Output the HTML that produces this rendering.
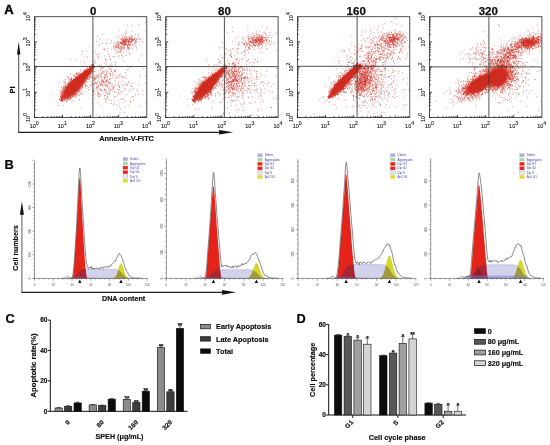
<!DOCTYPE html>
<html><head><meta charset="utf-8"><title>Figure</title>
<style>html,body{margin:0;padding:0;background:#fff;}body{width:550px;height:445px;overflow:hidden;font-family:"Liberation Sans",Arial,sans-serif;}svg{display:block;filter:blur(.35px);}</style>
</head><body><svg width="550" height="445" viewBox="0 0 550 445" font-family="Liberation Sans, Arial, sans-serif"><g><clipPath id="cp0"><rect x="34.4" y="16.7" width="112.4" height="100.8"/></clipPath>
<g clip-path="url(#cp0)">
<path d="M92.5 67.2L89.8 67.1L88.4 68.0L86.9 69.0L85.5 69.9L84.1 70.9L82.6 71.9L81.2 72.9L79.8 73.9L78.4 74.9L77.0 75.9L75.6 76.9L74.2 77.9L72.8 78.9L71.4 79.9L70.1 80.9L68.8 82.0L67.6 83.3L66.5 84.6L65.5 85.9L64.5 87.3L63.6 88.8L62.7 90.3L62.0 92.0L61.3 93.7L60.9 95.7L61.9 98.9L61.9 98.9L65.1 99.7L67.1 99.3L68.8 98.6L70.4 97.8L71.9 96.9L73.4 95.9L74.7 94.9L76.0 93.8L77.3 92.6L78.5 91.5L79.6 90.1L80.5 88.7L81.5 87.3L82.5 85.9L83.4 84.4L84.4 83.0L85.3 81.6L86.3 80.1L87.2 78.7L88.2 77.2L89.1 75.8L90.0 74.3L90.9 72.8L91.9 71.4L92.7 69.9L92.5 67.2Z" fill="#cf2b1f" opacity="0.35"/>
<path d="M91.4 68.4L89.1 68.3L87.8 69.1L86.5 70.0L85.2 70.9L83.9 71.8L82.6 72.7L81.4 73.6L80.1 74.5L78.9 75.4L77.6 76.3L76.4 77.2L75.1 78.1L73.9 79.1L72.6 80.0L71.4 80.9L70.2 81.9L69.2 83.0L68.2 84.2L67.3 85.4L66.4 86.7L65.6 88.0L64.8 89.3L64.1 90.8L63.5 92.3L63.1 94.1L63.8 96.9L63.8 96.9L66.7 97.5L68.4 97.1L69.9 96.4L71.4 95.7L72.7 94.9L74.0 94.0L75.2 93.0L76.4 92.0L77.5 91.0L78.6 90.0L79.6 88.8L80.4 87.5L81.3 86.2L82.2 84.9L83.1 83.7L83.9 82.4L84.8 81.1L85.7 79.8L86.5 78.5L87.4 77.2L88.2 75.9L89.1 74.6L89.9 73.3L90.7 72.0L91.5 70.7L91.4 68.4Z" fill="#cf2b1f" opacity="0.6"/>
<path d="M90.4 69.4L88.4 69.4L87.2 70.2L86.1 71.0L84.9 71.8L83.8 72.6L82.7 73.4L81.5 74.2L80.4 75.0L79.3 75.9L78.2 76.7L77.1 77.5L76.0 78.4L74.9 79.2L73.8 80.0L72.7 80.9L71.6 81.8L70.7 82.8L69.8 83.8L69.0 84.9L68.2 86.0L67.4 87.2L66.7 88.4L66.0 89.7L65.5 91.0L65.1 92.6L65.7 95.0L65.7 95.0L68.1 95.5L69.6 95.0L71.0 94.4L72.2 93.7L73.4 93.0L74.6 92.2L75.6 91.3L76.7 90.4L77.7 89.5L78.7 88.6L79.5 87.5L80.3 86.4L81.1 85.2L81.9 84.1L82.7 83.0L83.5 81.8L84.3 80.7L85.1 79.6L85.9 78.4L86.7 77.3L87.4 76.1L88.2 74.9L89.0 73.8L89.7 72.6L90.4 71.4L90.4 69.4Z" fill="#cf2b1f" opacity="1"/>
<path d="M895 738h7M921 703h7M631 827h7M826 845h7M702 737h7M657 952h7M613 913h7M943 661h7M617 960h7M894 672h7M904 702h7M903 691h7M898 696h7M599 906h7M840 705h7M790 763h7M856 700h7M872 761h7M598 923h7M738 747h7M932 696h7M618 967h7M865 680h7M819 866h7M594 821h7M866 824h7M705 825h7M741 962h7M753 949h7M879 771h7M623 946h7M898 668h7M651 969h7M943 673h7M740 926h7M750 795h7M767 905h7M724 937h7M793 878h7M631 937h7M912 725h7M660 954h7M617 987h7M688 846h7M663 960h7M627 980h7M836 727h7M674 979h7M649 976h7M696 956h7M626 1009h7M619 973h7M904 746h7M644 822h7M619 1009h7M872 765h7M925 677h7M700 973h7M898 725h7M860 780h7M649 882h7M644 860h7M612 867h7M931 676h7M657 888h7M755 768h7M902 674h7M698 948h7M914 688h7M872 783h7M627 972h7M684 976h7M619 943h7M710 979h7M916 691h7M657 882h7M673 958h7M911 669h7M652 904h7M600 947h7M628 801h7M904 729h7M832 733h7M899 673h7M729 938h7M647 954h7M803 736h7M928 697h7M931 720h7M645 933h7M729 933h7M636 930h7M906 686h7M649 998h7M922 712h7M646 984h7M671 881h7M776 743h7M702 795h7M674 779h7M704 982h7M910 650h7M742 920h7M646 916h7M674 854h7M840 838h7M784 889h7M722 955h7M762 935h7M618 989h7M599 934h7M670 963h7M922 674h7M648 866h7M733 939h7M802 711h7M753 775h7M915 692h7M596 993h7M827 861h7M730 792h7M646 902h7M627 998h7M846 717h7M806 865h7M862 704h7M932 679h7M629 919h7M620 1014h7M923 667h7M651 980h7M787 756h7M659 985h7M865 709h7M814 744h7M654 964h7M640 981h7M652 965h7M672 872h7M636 966h7M903 748h7M853 818h7M632 954h7M620 963h7M608 997h7M840 827h7M652 849h7M880 760h7M919 680h7M651 900h7M612 928h7M725 934h7M705 814h7M915 718h7M615 999h7M904 702h7M591 992h7M851 794h7M630 989h7M636 967h7M944 715h7M638 911h7M935 671h7M911 710h7M810 741h7M935 660h7M709 970h7M635 922h7M599 994h7M642 985h7M797 759h7M622 962h7M910 700h7M796 755h7M834 704h7M607 976h7M769 927h7M680 985h7M730 796h7M670 863h7M663 1019h7M736 959h7M743 799h7M617 913h7M688 953h7M595 996h7M815 844h7M653 965h7M637 897h7M695 999h7M687 952h7M898 696h7M651 795h7M763 777h7M908 714h7M786 750h7M769 780h7M857 854h7M653 837h7M625 984h7M822 846h7M853 857h7M632 965h7M793 915h7M921 699h7M680 859h7M684 970h7M881 871h7M642 863h7M721 808h7M816 741h7M906 712h7M645 947h7M649 873h7M936 673h7M648 810h7M897 669h7M799 744h7M682 851h7M659 892h7M613 994h7M922 676h7M651 916h7M656 965h7M625 915h7M633 893h7M678 836h7M725 948h7M668 1014h7M900 699h7M911 706h7M683 788h7M897 759h7M827 882h7M779 764h7M856 713h7M898 727h7M677 973h7M613 1004h7M698 812h7M840 816h7M644 986h7M698 836h7M632 877h7M746 936h7M725 946h7M728 976h7M790 763h7M645 817h7M643 980h7M607 1004h7M649 966h7M658 963h7M742 795h7M774 724h7M915 655h7M946 680h7M690 976h7M933 652h7M718 1006h7M791 740h7M894 732h7M634 896h7M758 732h7M845 828h7M697 956h7M778 757h7M794 918h7M622 969h7M602 970h7M895 662h7M621 974h7M617 1006h7M933 661h7M931 677h7M649 972h7M609 978h7M615 999h7M711 777h7M785 883h7M860 713h7M754 941h7M679 956h7M694 832h7M657 973h7M930 663h7M611 956h7M709 788h7M837 721h7M922 688h7M722 962h7M665 1002h7M742 944h7M853 866h7M632 961h7M919 685h7M908 713h7M781 891h7M805 856h7M869 670h7M813 879h7M665 870h7M790 956h7M710 799h7M809 946h7M617 901h7M733 962h7M726 807h7M902 672h7M876 696h7M821 841h7M611 1007h7M860 811h7M658 862h7M885 757h7M906 667h7M823 740h7M643 942h7M732 803h7M762 906h7M897 767h7M868 781h7M831 820h7M903 672h7M640 950h7M604 1004h7M820 835h7M937 666h7M723 961h7M681 967h7M636 996h7M837 720h7M924 686h7M766 914h7M666 878h7M915 667h7M916 657h7M813 851h7M713 952h7M642 963h7M903 680h7M647 993h7M900 695h7M658 985h7M614 978h7M834 815h7M615 957h7M754 951h7M862 708h7M727 952h7M773 741h7M848 698h7M891 788h7M932 651h7M743 951h7M741 928h7M673 997h7M740 922h7M692 845h7M875 791h7M824 846h7M844 708h7M634 960h7M907 699h7M677 844h7M886 744h7M789 728h7M822 857h7M902 685h7M753 912h7M786 758h7M630 878h7M845 841h7M798 758h7M673 971h7M848 829h7M830 721h7M614 965h7M619 950h7M726 943h7M857 798h7M895 695h7M777 905h7M621 936h7M893 678h7M770 771h7M704 963h7M903 684h7M614 991h7M626 926h7M916 681h7M677 763h7M656 948h7M609 998h7M644 1004h7M896 696h7M599 943h7M896 701h7M655 869h7M934 672h7M642 937h7M856 696h7M868 793h7M616 978h7M673 985h7M925 677h7M639 920h7M903 699h7M642 964h7M702 963h7M750 929h7M649 957h7M779 907h7M922 645h7M789 740h7M915 718h7M740 758h7M609 1008h7M930 661h7M620 917h7M887 785h7M814 880h7M848 712h7M699 991h7M915 707h7M773 948h7M668 977h7M678 981h7M621 956h7M673 985h7M921 677h7M786 931h7M902 672h7M621 991h7M692 971h7M790 903h7M778 738h7M760 731h7M616 991h7M817 872h7M709 794h7M649 967h7M653 872h7M695 787h7M900 664h7M846 808h7M807 890h7M702 963h7M825 736h7M759 764h7M605 971h7M926 647h7M908 719h7M689 956h7M707 977h7M616 1011h7M754 769h7M647 927h7M904 704h7M638 952h7M641 936h7M630 987h7M843 703h7M639 955h7M832 720h7M752 934h7M682 802h7M816 723h7M895 672h7M694 816h7M664 887h7M758 742h7M718 944h7M734 934h7M631 959h7M795 999h7M639 980h7M777 905h7M715 810h7M898 725h7M804 896h7M743 763h7M781 894h7M937 665h7M649 929h7M930 661h7M624 930h7M696 818h7M594 996h7M893 682h7M656 902h7M759 784h7M695 948h7M833 824h7M763 951h7M799 876h7M875 766h7M889 735h7M684 970h7M746 960h7M676 963h7M600 972h7M712 972h7M904 669h7M675 958h7M648 837h7M866 694h7M620 942h7M649 1005h7M713 947h7M643 940h7M895 773h7M756 783h7M852 808h7M625 989h7M859 802h7M924 676h7M647 887h7M904 677h7M795 871h7M915 662h7M749 797h7M931 650h7M621 943h7M822 838h7M886 746h7M917 672h7M789 995h7M686 973h7M895 727h7M825 832h7M710 941h7M651 954h7M610 985h7M635 878h7M821 855h7M785 939h7M667 987h7M775 917h7M706 804h7M854 713h7M754 782h7M653 878h7M711 795h7M789 894h7M615 988h7M635 875h7M844 713h7M662 958h7M636 981h7M859 856h7M661 966h7M694 836h7M612 989h7M642 895h7M633 908h7M742 933h7M617 982h7M813 745h7M775 766h7M808 944h7M714 781h7M843 717h7M617 969h7M813 733h7M618 1006h7M681 831h7M612 976h7M615 987h7M647 907h7M659 876h7M917 696h7M766 926h7M788 915h7M880 692h7M642 970h7M663 874h7M823 841h7M926 672h7M643 935h7M634 962h7M938 667h7M900 695h7M689 845h7M609 876h7M731 786h7M893 731h7M863 781h7M890 695h7M826 923h7M707 801h7M696 956h7M643 919h7M764 975h7M659 884h7M762 761h7M785 759h7M821 877h7M912 668h7M672 881h7M697 836h7M641 954h7M841 718h7M696 995h7M672 824h7M907 687h7M676 846h7M630 974h7M773 939h7M764 741h7M939 716h7M908 704h7M851 719h7M657 955h7M632 856h7M724 964h7M762 960h7M668 983h7M622 984h7M620 884h7M683 963h7M699 987h7M640 919h7M902 732h7M683 853h7M603 971h7M676 876h7M649 948h7M642 970h7M771 774h7M654 949h7M641 920h7M647 955h7M832 839h7M644 931h7M762 735h7M808 869h7M868 858h7M883 772h7M656 967h7M618 1004h7M898 769h7M875 791h7M691 958h7M760 910h7M660 989h7M684 861h7M754 914h7M630 954h7M769 904h7M612 997h7M787 754h7M734 755h7M922 660h7M927 671h7M894 737h7M910 708h7M682 859h7M654 969h7M671 977h7M639 970h7M699 950h7M872 780h7M877 757h7M899 728h7M1307 384h7M1226 399h7M1284 448h7M1266 418h7M1245 447h7M1270 465h7M1240 416h7M1216 382h7M1268 421h7M1170 417h7M1202 430h7M1214 456h7M1308 387h7M1249 395h7M1310 374h7M1218 434h7M1239 501h7M1245 418h7M1208 435h7M1224 421h7M1299 391h7M1271 399h7M1298 387h7M1208 430h7M1312 392h7M1213 431h7M1224 439h7M1226 440h7M1303 420h7M1330 406h7M1354 424h7M1249 445h7M1219 428h7M1246 403h7M1270 415h7M1357 410h7M1239 409h7M1225 413h7M1221 433h7M1189 435h7M1275 400h7M1199 426h7M1291 389h7M1317 357h7M1223 449h7M1318 396h7M1175 440h7M1208 419h7M1234 412h7M1255 426h7M1228 382h7M1227 360h7M1256 410h7M1229 487h7M1345 429h7M1262 406h7M1291 455h7M1251 419h7M1228 429h7M1288 386h7M1307 409h7M1363 392h7M1308 378h7M1371 386h7M1265 460h7M1254 389h7M1290 426h7M1252 410h7M1193 488h7M1239 437h7M1227 412h7M1263 396h7M1288 368h7M1294 442h7M1237 434h7M1292 398h7M1244 421h7M1379 360h7M1245 413h7M1223 407h7M1227 436h7M1325 444h7M1188 417h7M1248 398h7M1218 428h7M1224 410h7M1261 399h7M1247 434h7M1292 416h7M1310 409h7M1199 480h7M1398 398h7M1342 424h7M1241 444h7M1220 418h7M1284 415h7M1215 397h7M1295 409h7M1257 398h7M1220 432h7M1179 480h7M1267 448h7M1298 393h7M1272 386h7M1225 468h7M1226 411h7M1280 415h7M1293 376h7M1237 399h7M1256 415h7M1199 393h7M1201 465h7M1231 401h7M1257 392h7M1308 429h7M1255 407h7M1175 462h7M1355 395h7M1238 450h7M1229 398h7M1257 438h7M1179 475h7M1334 396h7M1223 394h7M1281 407h7M1327 441h7M1318 407h7M1182 482h7M1231 417h7M1312 417h7M1206 430h7M1243 423h7M1214 476h7M1257 440h7M1325 459h7M1286 393h7M1244 450h7M1324 361h7M1344 379h7M1245 414h7M1284 408h7M1248 400h7M1330 408h7M1273 475h7M1300 446h7M1246 429h7M1258 445h7M1258 376h7M1283 408h7M1278 442h7M1250 442h7M1258 419h7M1233 427h7M1250 446h7M1154 471h7M1246 397h7M1295 409h7M1295 446h7M1256 380h7M1182 445h7M1218 493h7M1239 379h7M1151 442h7M1148 471h7M1156 479h7M1244 457h7M1199 429h7M1297 365h7M1301 447h7M1210 433h7M1349 433h7M1334 394h7M1240 423h7M1247 448h7M1302 422h7M1232 452h7M1284 420h7M1314 394h7M1273 447h7M1230 455h7M1306 447h7M1315 388h7M1340 383h7M1201 433h7M1235 405h7M1309 419h7M1277 379h7M1349 405h7M1317 413h7M1283 435h7M1278 453h7M1219 380h7M1242 427h7M1279 418h7M1283 426h7M1256 438h7M1279 395h7M1178 454h7M1291 441h7M1314 412h7M1315 365h7M1191 559h7M1076 516h7M1059 439h7M1387 247h7M1384 341h7M1079 398h7M1246 482h7M1244 375h7M1388 386h7M1278 465h7M1258 410h7M1225 397h7M1207 388h7M1036 494h7M1171 425h7M1158 440h7M1258 556h7M1292 477h7M1336 458h7M1274 485h7M1317 394h7M1176 470h7M1213 487h7M1147 455h7M1244 474h7M1155 376h7M1202 518h7M1216 541h7M1145 468h7M1323 484h7M1214 557h7M1237 471h7M1421 416h7M1182 464h7M1139 567h7M1295 547h7M1338 397h7M1133 469h7M1337 387h7M1362 471h7M1373 397h7M1249 348h7M1245 442h7M1259 310h7M1236 606h7M1212 422h7M1215 444h7M1187 509h7M1267 509h7M1495 374h7M1285 524h7M1108 630h7M1074 487h7M1178 377h7M1145 498h7M1214 356h7M906 644h7M1040 560h7M1279 480h7M1131 450h7M1534 298h7M1063 432h7M1226 569h7M1258 371h7M1043 490h7M1213 475h7M1289 497h7M1023 434h7M1213 496h7M1155 501h7M1229 528h7M1172 441h7M1288 490h7M1135 483h7M1099 428h7M1451 301h7M1163 454h7M1115 490h7M1207 484h7M1109 404h7M1211 505h7M1340 389h7M1158 428h7M1350 348h7M1150 480h7M1184 473h7M1297 535h7M1272 456h7M1109 659h7M1286 483h7M1170 469h7M1162 466h7M1185 523h7M1320 401h7M1198 521h7M1200 500h7M1175 571h7M1173 513h7M1401 395h7M1199 514h7M1311 253h7M1162 468h7M1259 327h7M1296 421h7M1240 370h7M1415 544h7M1237 486h7M1018 345h7M1193 448h7M1281 427h7M1004 394h7M1352 459h7M1186 450h7M1268 392h7M1103 594h7M1047 503h7M1360 420h7M1365 490h7M1189 362h7M962 415h7M1248 336h7M1196 469h7M1244 439h7M1355 412h7M1320 399h7M1215 466h7M1281 479h7M1172 518h7M1433 161h7M1038 788h7M1008 735h7M942 796h7M933 918h7M979 945h7M1043 667h7M1020 813h7M1101 592h7M974 917h7M1056 613h7M1014 837h7M1059 857h7M929 879h7M1011 903h7M972 877h7M935 646h7M996 937h7M1028 812h7M1007 751h7M1100 649h7M983 925h7M977 573h7M957 777h7M1044 747h7M1055 755h7M903 857h7M1020 732h7M984 547h7M937 839h7M992 660h7M953 831h7M1005 904h7M927 910h7M1072 848h7M1016 949h7M1044 719h7M1022 829h7M977 1029h7M1012 770h7M1064 810h7M937 802h7M1091 661h7M1042 981h7M945 798h7M1011 845h7M1002 856h7M973 759h7M990 828h7M1079 893h7M945 810h7M1049 995h7M1085 822h7M1037 817h7M949 781h7M1015 674h7M1007 755h7M976 851h7M951 784h7M1016 821h7M1016 802h7M977 588h7M986 748h7M978 710h7M945 936h7M981 860h7M1034 814h7M1065 754h7M1023 685h7M978 867h7M964 772h7M994 782h7M978 810h7M941 786h7M1112 716h7M1061 739h7M935 942h7M1023 854h7M1070 869h7M1054 588h7M999 949h7M1012 679h7M907 820h7M879 792h7M1055 760h7M960 752h7M1108 709h7M953 826h7M943 896h7M998 674h7M937 751h7M1058 806h7M1012 648h7M1033 734h7M1145 715h7M969 659h7M1000 843h7M988 895h7M1053 746h7M1105 743h7M1014 796h7M1061 801h7M1067 622h7M997 801h7M1119 657h7M926 847h7M1114 833h7M943 605h7M1007 706h7M1004 888h7M1065 717h7M975 763h7M1012 844h7M961 875h7M1047 772h7M977 931h7M1043 772h7M966 869h7M1020 807h7M975 757h7M971 946h7M939 783h7M992 656h7M1146 708h7M1040 896h7M1026 800h7M991 832h7M1010 844h7M1074 654h7M943 770h7M1034 671h7M1141 918h7M1073 969h7M1124 847h7M990 966h7M1037 762h7M968 911h7M1092 837h7M1167 774h7M1150 806h7M1056 826h7M1059 1005h7M992 953h7M1180 852h7M1030 715h7M1004 1163h7M1047 861h7M973 883h7M1070 962h7M1233 994h7M994 823h7M958 784h7M918 952h7M859 881h7M1107 684h7M1111 1004h7M1230 850h7M1129 883h7M1195 872h7M1185 757h7M1027 721h7M1074 709h7M1090 790h7M936 853h7M1157 923h7M1101 829h7M1080 673h7M1273 698h7M1006 722h7M966 849h7M1010 777h7M1120 723h7M957 882h7M1056 640h7M1147 701h7M1064 850h7M1085 883h7M1029 839h7M912 851h7M882 898h7M982 932h7M1050 903h7M1028 814h7M1095 927h7M1083 543h7M1064 928h7M1183 840h7M1229 474h7M1040 772h7M1255 854h7M1296 893h7M1037 777h7M987 849h7M1097 741h7M1203 992h7M1027 901h7M1059 790h7M1001 762h7M1191 1061h7M1060 811h7M1183 773h7M1161 692h7M1086 936h7M1109 1035h7M1182 820h7M987 569h7M972 815h7M959 1149h7M1097 903h7M1080 829h7M1077 979h7M1053 955h7M1190 895h7M1122 899h7M1156 966h7M1063 986h7M1171 896h7M923 1026h7M1075 937h7M1090 823h7M961 836h7M1039 908h7M1042 843h7M1136 865h7M1004 896h7M1061 734h7M988 739h7M1057 595h7M949 762h7M1034 826h7M1139 742h7M1198 916h7M849 807h7M966 893h7M1252 724h7M1097 733h7M920 898h7M1155 789h7M1054 708h7M1010 813h7M1036 926h7M1085 848h7M1063 921h7M1143 708h7M1040 892h7M1024 676h7M999 698h7M1049 828h7M1151 645h7M1091 947h7M1311 859h7M1167 669h7M1131 1049h7M1102 787h7M1221 767h7M1248 759h7M1103 891h7M1094 788h7M946 987h7M1124 759h7M932 914h7M1189 865h7M1015 906h7M1087 993h7M1066 769h7M1085 699h7M977 772h7M1049 855h7M944 787h7M1278 690h7M1042 790h7M1137 770h7M1282 824h7M1085 870h7M1182 919h7M939 833h7M987 967h7M1107 897h7M1071 768h7M1143 967h7M1275 857h7M1188 749h7M1115 859h7M981 764h7M1080 826h7M1045 813h7M1073 800h7M909 836h7M1225 857h7M1095 760h7M1011 731h7M944 831h7M976 869h7M1102 693h7M1271 844h7M1086 800h7M961 826h7M1153 625h7M1066 863h7M1268 660h7M979 961h7M1135 991h7M1104 756h7M1317 835h7M1093 912h7M1368 893h7M1499 738h7M1427 947h7M1331 1006h7M1191 869h7M1062 813h7M1138 1039h7M1169 952h7M1215 1216h7M1126 784h7M1302 674h7M1229 776h7M1121 878h7M1475 1023h7M1325 968h7M1286 817h7M1245 893h7M1301 1021h7M1084 733h7M1401 761h7M1370 1277h7M1353 949h7M1209 930h7M1335 1303h7M1332 885h7M1421 907h7M1384 943h7M1251 1008h7M1207 820h7M1216 918h7M1180 1007h7M1265 945h7M1183 937h7M1309 868h7M1195 942h7M1254 829h7M1326 965h7M1453 755h7M1069 943h7M1456 1032h7M1226 809h7M1262 842h7M1126 919h7M1141 866h7M1135 880h7M1283 913h7M1255 770h7M1048 892h7M1221 991h7M1056 1026h7M1209 764h7M1152 845h7M1386 847h7M1262 789h7M1058 810h7M1025 863h7M1195 1133h7M1164 1049h7M1300 1011h7M1246 886h7M1281 1057h7M1124 741h7M1150 716h7M1169 862h7M1130 878h7M1367 912h7M927 529h7M811 542h7M955 541h7M952 510h7M911 736h7M706 593h7M867 512h7M798 694h7M1089 565h7M866 682h7M798 626h7M838 615h7M870 572h7M892 459h7M819 514h7M947 626h7M988 536h7M846 568h7M845 640h7M758 599h7M967 547h7M748 789h7M906 773h7M636 1006h7M911 690h7M629 1053h7M782 752h7M800 908h7M949 625h7M800 929h7M743 947h7M808 1080h7M683 997h7M915 770h7M909 773h7M760 912h7M715 1023h7M816 935h7M877 687h7M893 744h7M687 775h7M620 894h7M580 1055h7M798 885h7M527 960h7M903 684h7M762 938h7M619 984h7M1399 1064h7M1202 1088h7M1451 226h7M1243 1123h7M1092 562h7M1006 1055h7M1228 779h7M1246 1069h7M1203 739h7M1165 536h7M1447 831h7M1191 302h7M1269 259h7M1179 418h7M1136 427h7M1045 633h7M989 456h7M1313 314h7M1381 608h7M1039 951h7M1127 566h7M925 387h7M1430 686h7M1159 777h7M972 361h7" transform="scale(.1)" stroke="#cf2b1f" stroke-width="7" fill="none" opacity="1"/>
</g>
<rect x="34.4" y="16.7" width="112.4" height="100.8" fill="none" stroke="#333" stroke-width="0.85"/>
<path d="M92.9 16.7V117.5M34.4 66.5H146.8" stroke="#333" stroke-width="0.85"/>
<path d="M34.4 117.5v-2.6M34.4 117.5h2.6M42.9 117.5v-1.4M34.4 109.9h1.4M47.8 117.5v-1.4M34.4 105.5h1.4M51.3 117.5v-1.4M34.4 102.3h1.4M54.0 117.5v-1.4M34.4 99.9h1.4M56.3 117.5v-1.4M34.4 97.9h1.4M58.1 117.5v-1.4M34.4 96.2h1.4M59.8 117.5v-1.4M34.4 94.7h1.4M61.2 117.5v-1.4M34.4 93.5h1.4M62.5 117.5v-2.6M34.4 92.3h2.6M71.0 117.5v-1.4M34.4 84.7h1.4M75.9 117.5v-1.4M34.4 80.3h1.4M79.4 117.5v-1.4M34.4 77.1h1.4M82.1 117.5v-1.4M34.4 74.7h1.4M84.4 117.5v-1.4M34.4 72.7h1.4M86.2 117.5v-1.4M34.4 71.0h1.4M87.9 117.5v-1.4M34.4 69.5h1.4M89.3 117.5v-1.4M34.4 68.3h1.4M90.6 117.5v-2.6M34.4 67.1h2.6M99.1 117.5v-1.4M34.4 59.5h1.4M104.0 117.5v-1.4M34.4 55.1h1.4M107.5 117.5v-1.4M34.4 51.9h1.4M110.2 117.5v-1.4M34.4 49.5h1.4M112.5 117.5v-1.4M34.4 47.5h1.4M114.3 117.5v-1.4M34.4 45.8h1.4M116.0 117.5v-1.4M34.4 44.3h1.4M117.4 117.5v-1.4M34.4 43.1h1.4M118.7 117.5v-2.6M34.4 41.9h2.6M127.2 117.5v-1.4M34.4 34.3h1.4M132.1 117.5v-1.4M34.4 29.9h1.4M135.6 117.5v-1.4M34.4 26.7h1.4M138.3 117.5v-1.4M34.4 24.3h1.4M140.6 117.5v-1.4M34.4 22.3h1.4M142.4 117.5v-1.4M34.4 20.6h1.4M144.1 117.5v-1.4M34.4 19.1h1.4M145.5 117.5v-1.4M34.4 17.9h1.4" stroke="#222" stroke-width="0.8"/>
<text transform="translate(29.7 127.9) scale(.9 1)" font-size="6.1" fill="#1a1a1a" stroke="#1a1a1a" stroke-width=".12">10<tspan dy="-2.6" font-size="5.8">0</tspan></text>
<text transform="translate(29.5 122.0) rotate(-90) scale(.9 1)" font-size="6.1" fill="#1a1a1a" stroke="#1a1a1a" stroke-width=".12">10<tspan dy="-2.2" font-size="5.8">0</tspan></text>
<text transform="translate(57.8 127.9) scale(.9 1)" font-size="6.1" fill="#1a1a1a" stroke="#1a1a1a" stroke-width=".12">10<tspan dy="-2.6" font-size="5.8">1</tspan></text>
<text transform="translate(29.5 96.8) rotate(-90) scale(.9 1)" font-size="6.1" fill="#1a1a1a" stroke="#1a1a1a" stroke-width=".12">10<tspan dy="-2.2" font-size="5.8">1</tspan></text>
<text transform="translate(85.9 127.9) scale(.9 1)" font-size="6.1" fill="#1a1a1a" stroke="#1a1a1a" stroke-width=".12">10<tspan dy="-2.6" font-size="5.8">2</tspan></text>
<text transform="translate(29.5 71.6) rotate(-90) scale(.9 1)" font-size="6.1" fill="#1a1a1a" stroke="#1a1a1a" stroke-width=".12">10<tspan dy="-2.2" font-size="5.8">2</tspan></text>
<text transform="translate(114.0 127.9) scale(.9 1)" font-size="6.1" fill="#1a1a1a" stroke="#1a1a1a" stroke-width=".12">10<tspan dy="-2.6" font-size="5.8">3</tspan></text>
<text transform="translate(29.5 46.4) rotate(-90) scale(.9 1)" font-size="6.1" fill="#1a1a1a" stroke="#1a1a1a" stroke-width=".12">10<tspan dy="-2.2" font-size="5.8">3</tspan></text>
<text transform="translate(142.1 127.9) scale(.9 1)" font-size="6.1" fill="#1a1a1a" stroke="#1a1a1a" stroke-width=".12">10<tspan dy="-2.6" font-size="5.8">4</tspan></text>
<text transform="translate(29.5 21.2) rotate(-90) scale(.9 1)" font-size="6.1" fill="#1a1a1a" stroke="#1a1a1a" stroke-width=".12">10<tspan dy="-2.2" font-size="5.8">4</tspan></text>
</g>
<g><clipPath id="cp1"><rect x="165.7" y="16.7" width="112.4" height="100.8"/></clipPath>
<g clip-path="url(#cp1)">
<path d="M224.8 67.5L222.2 67.5L220.8 68.4L219.4 69.4L217.9 70.4L216.5 71.4L215.1 72.4L213.7 73.4L212.4 74.5L211.0 75.5L209.6 76.5L208.2 77.5L206.9 78.6L205.5 79.6L204.1 80.6L202.7 81.7L201.5 82.8L200.3 84.1L199.3 85.4L198.2 86.7L197.2 88.1L196.3 89.6L195.4 91.1L194.7 92.7L194.0 94.4L193.6 96.4L194.4 99.5L194.4 99.5L197.6 100.2L199.5 99.6L201.2 98.9L202.8 98.1L204.2 97.1L205.6 96.1L207.0 95.1L208.3 94.0L209.5 92.8L210.7 91.6L211.8 90.3L212.8 88.9L213.7 87.4L214.7 86.0L215.7 84.6L216.6 83.2L217.6 81.7L218.5 80.3L219.5 78.9L220.4 77.4L221.3 76.0L222.3 74.5L223.2 73.0L224.1 71.6L225.0 70.1L224.8 67.5Z" fill="#cf2b1f" opacity="0.35"/>
<path d="M223.7 68.7L221.5 68.7L220.2 69.6L218.9 70.5L217.6 71.4L216.4 72.3L215.1 73.2L213.9 74.1L212.7 75.0L211.4 76.0L210.2 76.9L209.0 77.8L207.7 78.8L206.5 79.7L205.3 80.7L204.1 81.6L202.9 82.6L201.9 83.8L200.9 84.9L200.0 86.1L199.1 87.4L198.2 88.7L197.5 90.0L196.8 91.5L196.2 93.0L195.7 94.7L196.4 97.4L196.4 97.4L199.1 98.0L200.8 97.5L202.3 96.8L203.7 96.0L205.0 95.1L206.3 94.2L207.5 93.3L208.7 92.3L209.8 91.2L210.9 90.2L211.8 89.0L212.7 87.7L213.6 86.4L214.4 85.1L215.3 83.9L216.2 82.6L217.1 81.3L217.9 80.0L218.8 78.7L219.6 77.5L220.5 76.2L221.3 74.9L222.2 73.6L223.0 72.2L223.8 70.9L223.7 68.7Z" fill="#cf2b1f" opacity="0.6"/>
<path d="M222.7 69.7L220.7 69.8L219.6 70.6L218.5 71.4L217.4 72.2L216.2 73.1L215.1 73.9L214.0 74.7L212.9 75.6L211.8 76.4L210.7 77.3L209.6 78.1L208.6 79.0L207.5 79.8L206.4 80.7L205.3 81.5L204.3 82.4L203.4 83.5L202.5 84.5L201.6 85.6L200.8 86.7L200.0 87.9L199.3 89.1L198.7 90.3L198.1 91.7L197.7 93.2L198.2 95.5L198.2 95.5L200.6 95.9L202.1 95.4L203.4 94.8L204.6 94.1L205.8 93.3L206.9 92.5L208.0 91.6L209.0 90.7L210.0 89.8L211.0 88.8L211.8 87.7L212.6 86.6L213.4 85.5L214.2 84.3L215.0 83.2L215.8 82.1L216.6 80.9L217.4 79.8L218.1 78.6L218.9 77.5L219.7 76.3L220.5 75.2L221.2 74.0L222.0 72.9L222.7 71.7L222.7 69.7Z" fill="#cf2b1f" opacity="1"/>
<path d="M1937 915h7M2219 694h7M2093 767h7M2239 714h7M2144 835h7M2208 757h7M2242 665h7M2126 761h7M2277 678h7M1981 950h7M2073 800h7M1972 983h7M2039 793h7M2180 863h7M2045 828h7M2055 972h7M2026 964h7M2118 881h7M1972 893h7M1937 978h7M1939 985h7M2227 735h7M2198 766h7M2065 924h7M2158 730h7M1964 915h7M1971 984h7M1976 953h7M1977 930h7M2177 716h7M2137 746h7M2265 679h7M2252 659h7M2139 741h7M2082 914h7M2080 912h7M1941 975h7M2147 837h7M2245 685h7M2227 683h7M1942 992h7M2048 775h7M2031 947h7M2011 828h7M1952 991h7M1998 962h7M2157 729h7M1937 1020h7M1941 984h7M2181 698h7M2096 897h7M1959 1000h7M2074 925h7M1957 975h7M1989 961h7M2247 679h7M1940 962h7M2093 931h7M2102 748h7M1974 989h7M2049 990h7M2221 768h7M2036 981h7M2217 699h7M1939 1007h7M2081 931h7M2220 733h7M2154 936h7M1968 987h7M1965 962h7M1949 911h7M2234 678h7M2075 803h7M1955 888h7M2190 705h7M2044 826h7M1961 983h7M2142 721h7M2183 694h7M2240 724h7M1960 981h7M1970 945h7M1951 979h7M1959 870h7M2234 704h7M2151 874h7M2231 687h7M1971 838h7M1963 989h7M2069 940h7M1990 997h7M1976 973h7M1939 1015h7M2227 698h7M2229 689h7M2215 691h7M2073 953h7M1971 959h7M1917 992h7M2042 972h7M2006 838h7M2209 766h7M2240 688h7M1963 967h7M2095 777h7M2031 773h7M2030 968h7M2059 947h7M2058 931h7M1996 987h7M2199 683h7M2103 925h7M2090 923h7M1967 999h7M1969 939h7M1940 987h7M1945 905h7M2113 724h7M1962 971h7M2161 814h7M2239 716h7M2088 994h7M2179 797h7M1965 948h7M2109 901h7M2024 981h7M1978 990h7M1976 913h7M2024 848h7M1945 950h7M1928 988h7M2112 770h7M2000 995h7M1942 995h7M2175 848h7M2178 719h7M1989 845h7M2002 972h7M2121 877h7M1978 999h7M1943 1017h7M1972 990h7M2082 910h7M1985 1008h7M2035 820h7M1935 1005h7M2259 673h7M2241 676h7M1975 956h7M1950 973h7M2135 883h7M2133 750h7M2220 693h7M2095 920h7M2010 967h7M2018 841h7M1967 936h7M2113 769h7M1993 974h7M2232 680h7M2014 857h7M1957 993h7M2232 716h7M1926 1010h7M2262 674h7M2148 724h7M1980 877h7M2236 710h7M2037 946h7M2247 675h7M2242 685h7M2214 690h7M2119 750h7M2239 673h7M2071 948h7M2260 664h7M1963 959h7M2014 839h7M1951 937h7M1987 957h7M1981 1005h7M1957 998h7M2195 778h7M2097 946h7M1980 927h7M1951 990h7M2129 747h7M1969 977h7M1948 996h7M1945 974h7M2008 996h7M2179 714h7M2041 954h7M1988 888h7M2032 949h7M1971 923h7M2236 702h7M1938 994h7M1963 941h7M2131 860h7M2152 836h7M2143 839h7M1956 925h7M1974 957h7M2215 775h7M1965 935h7M2236 685h7M2105 776h7M1976 934h7M1998 1000h7M1962 982h7M2190 938h7M1950 993h7M1987 966h7M1937 998h7M2213 682h7M2013 997h7M1988 960h7M1919 931h7M2259 685h7M1937 1010h7M2003 1006h7M2177 862h7M2205 693h7M2206 754h7M1986 956h7M1990 975h7M2060 793h7M1998 972h7M2014 849h7M1935 972h7M2183 713h7M1930 1008h7M1982 877h7M2036 763h7M2024 770h7M2189 709h7M2232 662h7M1990 994h7M2030 840h7M1972 950h7M1979 915h7M1976 949h7M2142 742h7M2238 681h7M2205 693h7M2124 755h7M2102 915h7M2218 749h7M2219 681h7M2111 909h7M1995 1009h7M2225 701h7M1992 982h7M2081 921h7M1997 808h7M1959 889h7M2229 683h7M2166 705h7M2219 693h7M1970 957h7M1975 961h7M1957 972h7M2134 892h7M2092 767h7M2154 739h7M2083 789h7M2234 707h7M2121 741h7M1952 993h7M1938 891h7M2111 926h7M1942 997h7M1971 957h7M2242 692h7M2000 834h7M2023 963h7M1952 921h7M1964 962h7M1928 965h7M2136 742h7M2231 705h7M2005 962h7M2011 998h7M1920 995h7M1987 887h7M1973 972h7M2153 824h7M2096 970h7M2001 968h7M2105 935h7M1974 982h7M1961 946h7M1936 957h7M2030 956h7M1947 974h7M1964 924h7M2087 912h7M1931 1009h7M2250 649h7M2115 896h7M1944 991h7M2006 838h7M1986 887h7M1988 893h7M1937 975h7M2105 779h7M2161 815h7M1932 1003h7M2181 797h7M1932 967h7M2133 756h7M2196 847h7M2227 672h7M2026 834h7M1964 975h7M2186 793h7M1921 996h7M1956 951h7M2001 963h7M2163 850h7M2264 670h7M1937 1006h7M2007 979h7M1984 961h7M1939 911h7M1981 1004h7M1985 971h7M2104 925h7M2003 973h7M1924 969h7M2083 771h7M2239 669h7M2206 765h7M1987 959h7M1938 1004h7M2036 833h7M2001 971h7M2226 650h7M2009 988h7M1970 834h7M1970 962h7M1987 985h7M1953 977h7M2245 687h7M1961 945h7M2216 749h7M1952 983h7M1988 960h7M1948 1012h7M1975 990h7M2232 672h7M2202 699h7M2007 962h7M1956 999h7M2006 960h7M2191 773h7M2181 816h7M2159 817h7M2074 978h7M2201 763h7M1934 995h7M2054 781h7M2006 870h7M1923 1000h7M2101 747h7M1944 1007h7M2189 798h7M1938 1012h7M1949 938h7M1955 936h7M1949 984h7M2201 756h7M1949 1020h7M2112 884h7M2258 662h7M2012 843h7M2247 697h7M2162 857h7M1941 966h7M1950 940h7M2189 823h7M1986 988h7M2264 678h7M2152 881h7M2249 714h7M2054 802h7M1984 953h7M1951 965h7M2170 802h7M2101 907h7M2042 943h7M1930 1014h7M2250 676h7M1955 988h7M1984 911h7M2011 856h7M2163 732h7M2000 966h7M2022 972h7M1983 901h7M1946 883h7M2128 884h7M2001 976h7M1967 926h7M1981 969h7M1916 928h7M2093 898h7M2106 892h7M1981 958h7M2081 977h7M2069 803h7M1954 922h7M2185 798h7M1950 1009h7M1929 1005h7M2235 667h7M2065 778h7M1947 895h7M1954 944h7M1961 928h7M2216 676h7M2041 942h7M1940 991h7M1936 971h7M2039 954h7M2060 802h7M2182 815h7M2158 881h7M1994 987h7M2236 694h7M1998 870h7M2102 918h7M2033 945h7M2128 857h7M1952 972h7M2188 690h7M2077 786h7M2216 699h7M2033 807h7M2205 683h7M2047 778h7M2154 954h7M2031 814h7M2009 985h7M2009 984h7M2134 746h7M1971 964h7M2085 792h7M1951 882h7M1967 988h7M1936 1000h7M2195 766h7M1952 1011h7M2014 964h7M2179 822h7M2171 822h7M2213 739h7M2244 675h7M2108 896h7M2221 669h7M2041 950h7M2240 677h7M2149 709h7M2002 964h7M2249 665h7M2126 732h7M2038 834h7M2039 821h7M2016 816h7M2071 964h7M2027 977h7M1921 997h7M1982 855h7M2255 655h7M1967 1000h7M2018 967h7M1950 971h7M1953 965h7M1983 1013h7M2161 835h7M2247 683h7M2263 663h7M2179 714h7M1971 976h7M2222 735h7M2174 919h7M1982 963h7M2221 674h7M1950 996h7M2060 963h7M2119 762h7M2232 705h7M1968 961h7M1937 915h7M2233 700h7M2031 951h7M1931 1002h7M2046 782h7M1989 859h7M2050 800h7M2080 944h7M2053 977h7M2225 701h7M1908 989h7M1947 991h7M1954 947h7M1931 1013h7M1932 1008h7M2082 986h7M2108 949h7M1922 1004h7M2120 745h7M2026 849h7M2012 865h7M2119 879h7M1963 954h7M2020 819h7M2066 965h7M1964 966h7M1988 842h7M2051 964h7M2038 815h7M1959 954h7M2047 939h7M1931 1006h7M1971 987h7M2024 842h7M2242 717h7M2243 685h7M2181 800h7M2020 958h7M2263 664h7M2228 709h7M1991 819h7M2102 924h7M1992 990h7M1966 879h7M1934 987h7M1938 957h7M1945 961h7M1948 958h7M1990 871h7M2216 738h7M1980 796h7M2017 982h7M1970 953h7M2084 788h7M2061 799h7M1995 991h7M2005 867h7M2070 921h7M2233 693h7M1929 1013h7M1947 1029h7M2230 727h7M2016 978h7M1971 957h7M2136 847h7M2050 963h7M1968 991h7M1950 980h7M1952 916h7M2125 917h7M2109 757h7M1997 887h7M2234 715h7M2070 940h7M2197 851h7M1978 883h7M2128 875h7M1983 912h7M1974 1006h7M1979 919h7M2246 704h7M2022 954h7M2159 819h7M2153 881h7M1972 920h7M2233 722h7M1977 916h7M2050 770h7M2166 834h7M2018 827h7M2004 862h7M1953 993h7M2065 777h7M1964 982h7M2164 812h7M1980 952h7M2250 729h7M2068 928h7M2055 934h7M2155 848h7M2050 940h7M1996 788h7M2215 685h7M2137 746h7M2225 727h7M2033 818h7M1989 840h7M1963 970h7M1925 1005h7M2003 851h7M2249 704h7M1955 879h7M2241 701h7M1941 1007h7M1946 909h7M1967 954h7M1961 890h7M1991 868h7M2197 778h7M2135 872h7M2118 950h7M2021 983h7M2256 693h7M1976 918h7M2022 837h7M2091 776h7M2096 917h7M2217 691h7M2145 837h7M2157 831h7M2231 709h7M2013 981h7M2098 903h7M1971 977h7M2221 699h7M1973 887h7M1999 870h7M1937 1018h7M2060 808h7M1997 961h7M2207 748h7M1959 950h7M2116 740h7M1917 890h7M2083 769h7M1975 918h7M1973 988h7M1928 1005h7M1939 965h7M2106 890h7M2256 671h7M2250 713h7M2082 955h7M2034 830h7M1992 870h7M1934 1008h7M1981 951h7M2202 690h7M2261 681h7M2220 738h7M2051 817h7M2084 783h7M2013 842h7M1973 920h7M2205 827h7M1998 814h7M2120 706h7M1943 982h7M1957 947h7M2236 723h7M2046 977h7M2096 896h7M1951 937h7M2116 896h7M2157 732h7M2006 978h7M2168 810h7M2255 680h7M1963 968h7M1973 913h7M1953 916h7M2003 866h7M2015 858h7M2210 780h7M2512 381h7M2560 417h7M2587 417h7M2462 462h7M2503 420h7M2598 386h7M2485 386h7M2533 406h7M2536 447h7M2586 359h7M2512 367h7M2622 412h7M2597 364h7M2696 406h7M2531 414h7M2508 415h7M2495 383h7M2662 404h7M2601 418h7M2570 414h7M2555 425h7M2598 400h7M2645 407h7M2576 428h7M2523 379h7M2571 373h7M2586 431h7M2621 374h7M2621 404h7M2616 406h7M2638 321h7M2583 350h7M2583 482h7M2548 457h7M2663 412h7M2572 456h7M2659 346h7M2529 361h7M2545 412h7M2592 400h7M2493 449h7M2559 403h7M2546 402h7M2506 404h7M2601 440h7M2610 395h7M2622 391h7M2633 421h7M2555 411h7M2515 370h7M2577 399h7M2640 377h7M2529 431h7M2597 374h7M2584 397h7M2681 437h7M2541 403h7M2595 410h7M2617 364h7M2575 405h7M2534 450h7M2521 459h7M2528 428h7M2598 404h7M2606 486h7M2594 393h7M2559 444h7M2612 383h7M2678 382h7M2593 357h7M2614 407h7M2627 382h7M2615 379h7M2576 399h7M2553 373h7M2523 422h7M2564 402h7M2601 409h7M2611 363h7M2625 397h7M2541 427h7M2611 419h7M2586 447h7M2566 431h7M2571 394h7M2628 416h7M2481 387h7M2627 370h7M2664 358h7M2551 411h7M2615 360h7M2523 409h7M2695 327h7M2597 368h7M2555 421h7M2612 443h7M2602 442h7M2635 374h7M2495 416h7M2588 424h7M2564 429h7M2585 377h7M2548 390h7M2586 347h7M2654 434h7M2517 421h7M2674 395h7M2567 411h7M2617 422h7M2583 380h7M2562 379h7M2503 409h7M2559 406h7M2547 425h7M2567 397h7M2581 405h7M2601 422h7M2522 388h7M2552 403h7M2650 377h7M2537 396h7M2577 437h7M2611 376h7M2589 393h7M2663 377h7M2598 377h7M2501 383h7M2387 444h7M2552 400h7M2653 399h7M2602 415h7M2589 456h7M2604 417h7M2686 416h7M2551 397h7M2562 404h7M2581 406h7M2506 455h7M2518 437h7M2485 396h7M2606 391h7M2626 369h7M2568 424h7M2547 404h7M2589 369h7M2581 436h7M2467 452h7M2564 401h7M2638 413h7M2551 432h7M2563 412h7M2479 378h7M2608 392h7M2594 382h7M2443 446h7M2522 398h7M2550 423h7M2536 356h7M2537 397h7M2534 382h7M2514 393h7M2572 380h7M2581 383h7M2659 393h7M2710 377h7M2493 362h7M2557 398h7M2593 409h7M2618 383h7M2586 442h7M2588 392h7M2539 358h7M2570 376h7M2668 405h7M2624 390h7M2605 387h7M2583 405h7M2533 437h7M2570 362h7M2548 422h7M2527 395h7M2531 381h7M2598 425h7M2619 354h7M2528 415h7M2498 430h7M2598 396h7M2590 413h7M2580 396h7M2510 420h7M2689 353h7M2485 416h7M2587 424h7M2559 369h7M2561 386h7M2589 437h7M2581 404h7M2635 403h7M2613 379h7M2646 388h7M2623 395h7M2493 417h7M2614 422h7M2529 419h7M2509 419h7M2605 395h7M2635 427h7M2463 426h7M2606 391h7M2552 460h7M2741 427h7M2562 412h7M2487 436h7M2527 440h7M2618 404h7M2605 418h7M2567 391h7M2624 428h7M2587 445h7M2557 449h7M2666 493h7M2368 519h7M2441 447h7M2436 512h7M2425 523h7M2577 389h7M2559 333h7M2623 453h7M2533 429h7M2463 439h7M2660 292h7M2605 447h7M2482 527h7M2537 402h7M2433 399h7M2524 476h7M2422 585h7M2475 272h7M2335 490h7M2446 453h7M2489 469h7M2650 334h7M2385 368h7M2185 596h7M2534 405h7M2448 526h7M2536 449h7M2456 439h7M2699 445h7M2492 484h7M2424 421h7M2489 392h7M2470 440h7M2450 543h7M2263 493h7M2441 432h7M2712 418h7M2666 487h7M2448 507h7M2249 550h7M2501 454h7M2543 497h7M2465 450h7M2256 488h7M2515 459h7M2550 388h7M2612 434h7M2600 523h7M2623 414h7M2567 351h7M2477 347h7M2474 436h7M2191 610h7M2440 513h7M2622 421h7M2407 524h7M2541 372h7M2294 557h7M2225 479h7M2689 411h7M2313 566h7M2831 286h7M2568 376h7M2193 492h7M2321 484h7M2545 460h7M2663 452h7M2517 380h7M2452 477h7M2595 426h7M2613 475h7M2755 331h7M2444 551h7M2412 543h7M2502 413h7M2561 343h7M2533 375h7M2495 497h7M2382 453h7M2380 487h7M2491 448h7M2666 428h7M2515 431h7M2581 460h7M2308 527h7M2224 426h7M2680 374h7M2390 425h7M2577 461h7M2349 589h7M2323 415h7M2482 474h7M2357 382h7M2373 485h7M2377 446h7M2730 438h7M2465 370h7M2480 362h7M2434 440h7M2485 429h7M2476 302h7M2734 347h7M2435 442h7M2220 576h7M2465 499h7M2839 462h7M2438 379h7M2481 403h7M2452 479h7M2537 331h7M2419 392h7M2619 439h7M2305 557h7M2477 498h7M2279 508h7M2483 432h7M2488 471h7M2652 381h7M2378 429h7M2619 525h7M2544 453h7M2637 329h7M2485 485h7M2422 372h7M2379 537h7M2512 423h7M2607 408h7M2617 268h7M2414 425h7M2265 539h7M2590 317h7M2478 471h7M2564 419h7M2429 428h7M2558 317h7M2496 488h7M2450 412h7M2523 334h7M2580 403h7M2302 507h7M2268 777h7M2345 835h7M2326 895h7M2286 927h7M2347 642h7M2332 722h7M2340 732h7M2354 678h7M2327 818h7M2308 826h7M2369 808h7M2273 804h7M2310 568h7M2346 750h7M2392 858h7M2308 810h7M2324 766h7M2372 816h7M2338 843h7M2333 807h7M2352 778h7M2218 759h7M2452 775h7M2331 867h7M2322 799h7M2329 888h7M2333 811h7M2313 846h7M2325 746h7M2342 700h7M2335 730h7M2340 771h7M2225 741h7M2249 705h7M2231 894h7M2288 817h7M2344 655h7M2288 813h7M2294 825h7M2261 724h7M2409 674h7M2330 733h7M2371 599h7M2270 787h7M2331 760h7M2309 546h7M2342 745h7M2296 826h7M2275 877h7M2255 782h7M2322 745h7M2264 801h7M2294 693h7M2390 731h7M2264 790h7M2357 684h7M2283 833h7M2281 735h7M2335 630h7M2330 960h7M2312 861h7M2339 639h7M2350 766h7M2246 879h7M2309 872h7M2268 826h7M2334 861h7M2309 871h7M2337 826h7M2236 903h7M2252 744h7M2412 743h7M2259 902h7M2279 667h7M2273 688h7M2318 851h7M2283 815h7M2319 803h7M2321 686h7M2206 895h7M2329 631h7M2347 863h7M2279 616h7M2337 678h7M2264 681h7M2325 872h7M2219 805h7M2301 814h7M2274 665h7M2307 951h7M2286 790h7M2362 598h7M2261 770h7M2293 663h7M2316 799h7M2381 762h7M2348 655h7M2146 859h7M2314 882h7M2352 715h7M2274 709h7M2288 707h7M2383 754h7M2328 694h7M2310 777h7M2350 646h7M2310 770h7M2339 745h7M2327 866h7M2217 844h7M2308 750h7M2315 694h7M2258 854h7M2278 888h7M2380 797h7M2278 789h7M2334 676h7M2367 579h7M2251 762h7M2286 731h7M2349 720h7M2329 631h7M2384 638h7M2262 694h7M2328 755h7M2328 782h7M2282 881h7M2314 676h7M2300 907h7M2302 854h7M2278 745h7M2257 731h7M2321 933h7M2251 762h7M2372 767h7M2287 822h7M2387 835h7M2283 828h7M2406 803h7M2282 864h7M2370 751h7M2366 803h7M2347 551h7M2343 694h7M2272 830h7M2318 811h7M2234 796h7M2306 700h7M2318 639h7M2291 880h7M2323 737h7M2369 839h7M2290 924h7M2267 847h7M2328 622h7M2310 700h7M2318 836h7M2210 855h7M2328 715h7M2224 862h7M2231 942h7M2303 781h7M2305 571h7M2266 835h7M2438 725h7M2293 753h7M2356 623h7M2313 720h7M2236 845h7M2286 708h7M2335 738h7M2258 730h7M2314 722h7M2315 711h7M2265 747h7M2255 827h7M2309 814h7M2324 815h7M2309 827h7M2292 704h7M2334 760h7M2339 809h7M2326 815h7M2284 920h7M2350 772h7M2320 813h7M2352 704h7M2331 721h7M2276 723h7M2293 744h7M2355 675h7M2340 662h7M2343 674h7M2260 801h7M2265 706h7M2206 840h7M2345 796h7M2273 722h7M2387 690h7M2381 750h7M2304 685h7M2259 833h7M2291 781h7M2289 637h7M2269 712h7M2286 760h7M2384 717h7M2299 549h7M2230 689h7M2328 649h7M2367 718h7M2280 726h7M2323 884h7M2367 737h7M2313 701h7M2213 751h7M2233 741h7M2254 774h7M2262 737h7M2365 594h7M2294 660h7M2300 781h7M2297 747h7M2332 791h7M2340 778h7M2251 880h7M2293 811h7M2361 693h7M2339 767h7M2330 809h7M2363 811h7M2383 880h7M2273 600h7M2347 763h7M2309 829h7M2333 809h7M2302 845h7M2322 814h7M2325 727h7M2386 675h7M2394 779h7M2323 633h7M2249 926h7M2367 805h7M2245 771h7M2290 704h7M2328 795h7M2378 623h7M2270 858h7M2367 734h7M2287 835h7M2318 644h7M2284 794h7M2284 722h7M2349 760h7M2260 711h7M2330 733h7M2393 603h7M2292 766h7M2281 737h7M2387 685h7M2263 870h7M2283 862h7M2309 969h7M2288 765h7M2302 734h7M2378 693h7M2346 658h7M2309 818h7M2221 876h7M2362 833h7M2251 938h7M2254 751h7M2346 776h7M2307 836h7M2348 810h7M2325 909h7M2284 750h7M2413 770h7M2448 866h7M2484 855h7M2396 820h7M2324 925h7M2345 887h7M2286 846h7M2410 794h7M2412 778h7M2213 737h7M2310 842h7M2402 715h7M2382 840h7M2344 810h7M2366 874h7M2287 888h7M2416 959h7M2507 739h7M2379 701h7M2401 757h7M2496 859h7M2371 864h7M2440 783h7M2324 1012h7M2240 893h7M2451 834h7M2495 708h7M2438 709h7M2196 1020h7M2399 817h7M2410 864h7M2454 800h7M2252 933h7M2388 856h7M2427 867h7M2352 746h7M2470 787h7M2498 740h7M2286 911h7M2494 695h7M2424 950h7M2481 822h7M2359 785h7M2274 797h7M2407 812h7M2358 792h7M2257 827h7M2390 793h7M2488 815h7M2457 695h7M2389 962h7M2355 870h7M2435 905h7M2426 774h7M2356 711h7M2442 771h7M2412 789h7M2392 932h7M2430 783h7M2470 705h7M2341 895h7M2521 657h7M2237 909h7M2379 710h7M2346 802h7M2310 1006h7M2379 964h7M2224 750h7M2569 716h7M2213 1024h7M2369 806h7M2462 741h7M2290 854h7M2364 760h7M2271 1080h7M2419 751h7M2446 768h7M2443 788h7M2384 799h7M2413 791h7M2313 927h7M2312 869h7M2230 1129h7M2339 794h7M2442 814h7M2268 911h7M2519 693h7M2263 909h7M2414 785h7M2364 714h7M2257 755h7M2388 728h7M2332 943h7M2373 778h7M2422 844h7M2326 896h7M2323 714h7M2396 776h7M2365 781h7M2263 814h7M2301 876h7M2433 805h7M2360 899h7M2267 899h7M2362 755h7M2412 816h7M2379 719h7M2367 855h7M2419 872h7M2214 758h7M2310 1057h7M2295 921h7M2492 903h7M2470 880h7M2505 803h7M2551 597h7M2403 905h7M2238 976h7M2362 839h7M2283 889h7M2324 882h7M2352 999h7M2444 830h7M2328 884h7M2360 814h7M2369 972h7M2354 765h7M2387 863h7M2409 725h7M2424 921h7M2317 1009h7M2318 822h7M2327 931h7M2321 760h7M2383 822h7M2421 836h7M2387 817h7M2354 716h7M2441 698h7M2431 829h7M2423 736h7M2358 799h7M2505 924h7M2348 794h7M2342 935h7M2195 954h7M2308 887h7M2378 892h7M2465 612h7M2347 806h7M2363 881h7M2388 867h7M2322 676h7M2427 737h7M2398 1036h7M2434 691h7M2400 676h7M2426 1077h7M2358 966h7M2376 906h7M2458 789h7M2409 859h7M2356 904h7M2506 779h7M2426 776h7M2340 715h7M2355 798h7M2408 660h7M2372 802h7M2341 838h7M2395 768h7M2340 921h7M2314 768h7M2377 888h7M2421 695h7M2240 805h7M2468 609h7M2300 777h7M2299 765h7M2229 993h7M2408 898h7M2368 788h7M2455 771h7M2289 717h7M2321 720h7M2424 684h7M2340 874h7M2396 780h7M2346 786h7M2293 898h7M2465 683h7M2366 719h7M2414 834h7M2339 702h7M2405 883h7M2250 900h7M2324 797h7M2329 1005h7M2398 801h7M2473 778h7M2507 709h7M2338 760h7M2560 740h7M2375 813h7M2423 845h7M2448 853h7M2297 716h7M2349 788h7M2471 924h7M2428 792h7M2355 661h7M2410 882h7M2296 958h7M2293 1127h7M2285 638h7M2357 895h7M2348 782h7M2338 844h7M2268 868h7M2432 1032h7M2421 969h7M2354 882h7M2361 1054h7M2283 970h7M2367 840h7M2333 857h7M2540 859h7M2322 812h7M2542 837h7M2392 723h7M2365 752h7M2219 772h7M2348 800h7M2293 855h7M2370 832h7M2373 853h7M2362 706h7M2307 1033h7M2338 892h7M2495 776h7M2231 1136h7M2289 639h7M2571 615h7M2403 897h7M2426 933h7M2384 637h7M2315 748h7M2272 1027h7M2306 903h7M2496 922h7M2261 737h7M2305 1000h7M2134 1012h7M2423 739h7M2450 772h7M2333 860h7M2481 595h7M2488 853h7M2422 827h7M2317 880h7M2630 857h7M2385 913h7M2535 620h7M2561 760h7M2349 945h7M2558 822h7M2522 968h7M2463 905h7M2410 778h7M2589 987h7M2385 1008h7M2600 930h7M2612 1100h7M2492 892h7M2558 715h7M2415 917h7M2434 931h7M2412 598h7M2810 874h7M2575 624h7M2556 905h7M2586 790h7M2529 835h7M2559 905h7M2542 709h7M2410 753h7M2515 801h7M2520 767h7M2767 961h7M2541 856h7M2622 816h7M2482 973h7M2434 1047h7M2321 896h7M2403 758h7M2511 821h7M2700 920h7M2719 921h7M2428 989h7M2772 826h7M2647 837h7M2480 888h7M2390 1188h7M2606 731h7M2608 1021h7M2566 852h7M2613 827h7M2543 905h7M2394 747h7M2362 753h7M2249 975h7M2438 1028h7M2476 890h7M2425 884h7M2431 1104h7M2396 678h7M2558 882h7M2604 955h7M2467 809h7M2548 1020h7M2433 883h7M2550 1206h7M2597 879h7M2663 712h7M2539 626h7M2608 967h7M2562 771h7M2422 701h7M2472 761h7M2281 934h7M2586 892h7M2465 776h7M2633 819h7M2360 859h7M2501 1035h7M2406 1050h7M2682 826h7M2445 898h7M2371 978h7M2334 863h7M2612 896h7M2650 892h7M2707 867h7M2337 721h7M2572 925h7M2461 643h7M2560 771h7M2314 724h7M2706 1074h7M2731 985h7M2579 970h7M2545 790h7M2442 858h7M2386 1094h7M2670 851h7M2652 760h7M2375 1120h7M2612 906h7M2443 782h7M2573 1090h7M2679 910h7M2523 895h7M2314 851h7M2625 1000h7M2612 933h7M2567 796h7M2480 789h7M2350 932h7M2478 974h7M2798 918h7M2158 692h7M2140 647h7M2080 650h7M2188 474h7M2193 624h7M2063 590h7M2066 616h7M2182 710h7M2223 579h7M2158 643h7M2275 598h7M2359 498h7M2078 691h7M2200 551h7M2141 686h7M2206 635h7M2177 658h7M2199 609h7M1948 1021h7M1967 963h7M1944 921h7M1793 960h7M2109 938h7M1935 953h7M1920 1046h7M2110 1075h7M1956 851h7M2240 833h7M1874 994h7M2044 776h7M2016 808h7M2188 831h7M1873 1060h7M1946 1098h7M2075 783h7M2082 948h7M2178 928h7M1906 919h7M2154 873h7M2154 963h7M2079 728h7M2011 1021h7M2182 627h7M2047 826h7M2001 990h7M2036 826h7M1984 1086h7M2073 950h7M1966 1039h7M2106 945h7M2095 780h7M2670 279h7M2582 1108h7M2241 537h7M2519 1150h7M2363 732h7M2604 830h7M2337 657h7M2319 315h7M2765 755h7M2542 449h7M2734 842h7M2318 274h7M2766 503h7M2775 329h7M2634 1017h7M2710 1076h7M2639 932h7M2769 982h7M2356 1101h7M2762 683h7M2277 976h7M2243 810h7M2616 755h7M2325 951h7M2569 1153h7M2770 279h7M2268 327h7M2587 407h7M2490 629h7M2516 853h7" transform="scale(.1)" stroke="#cf2b1f" stroke-width="7" fill="none" opacity="1"/>
</g>
<rect x="165.7" y="16.7" width="112.4" height="100.8" fill="none" stroke="#333" stroke-width="0.85"/>
<path d="M224.4 16.7V117.5M165.7 66.6H278.1" stroke="#333" stroke-width="0.85"/>
<path d="M165.7 117.5v-2.6M165.7 117.5h2.6M174.2 117.5v-1.4M165.7 109.9h1.4M179.1 117.5v-1.4M165.7 105.5h1.4M182.6 117.5v-1.4M165.7 102.3h1.4M185.3 117.5v-1.4M165.7 99.9h1.4M187.6 117.5v-1.4M165.7 97.9h1.4M189.4 117.5v-1.4M165.7 96.2h1.4M191.1 117.5v-1.4M165.7 94.7h1.4M192.5 117.5v-1.4M165.7 93.5h1.4M193.8 117.5v-2.6M165.7 92.3h2.6M202.3 117.5v-1.4M165.7 84.7h1.4M207.2 117.5v-1.4M165.7 80.3h1.4M210.7 117.5v-1.4M165.7 77.1h1.4M213.4 117.5v-1.4M165.7 74.7h1.4M215.7 117.5v-1.4M165.7 72.7h1.4M217.5 117.5v-1.4M165.7 71.0h1.4M219.2 117.5v-1.4M165.7 69.5h1.4M220.6 117.5v-1.4M165.7 68.3h1.4M221.9 117.5v-2.6M165.7 67.1h2.6M230.4 117.5v-1.4M165.7 59.5h1.4M235.3 117.5v-1.4M165.7 55.1h1.4M238.8 117.5v-1.4M165.7 51.9h1.4M241.5 117.5v-1.4M165.7 49.5h1.4M243.8 117.5v-1.4M165.7 47.5h1.4M245.6 117.5v-1.4M165.7 45.8h1.4M247.3 117.5v-1.4M165.7 44.3h1.4M248.7 117.5v-1.4M165.7 43.1h1.4M250.0 117.5v-2.6M165.7 41.9h2.6M258.5 117.5v-1.4M165.7 34.3h1.4M263.4 117.5v-1.4M165.7 29.9h1.4M266.9 117.5v-1.4M165.7 26.7h1.4M269.6 117.5v-1.4M165.7 24.3h1.4M271.9 117.5v-1.4M165.7 22.3h1.4M273.7 117.5v-1.4M165.7 20.6h1.4M275.4 117.5v-1.4M165.7 19.1h1.4M276.8 117.5v-1.4M165.7 17.9h1.4" stroke="#222" stroke-width="0.8"/>
<text transform="translate(161.0 127.9) scale(.9 1)" font-size="6.1" fill="#1a1a1a" stroke="#1a1a1a" stroke-width=".12">10<tspan dy="-2.6" font-size="5.8">0</tspan></text>
<text transform="translate(160.8 122.0) rotate(-90) scale(.9 1)" font-size="6.1" fill="#1a1a1a" stroke="#1a1a1a" stroke-width=".12">10<tspan dy="-2.2" font-size="5.8">0</tspan></text>
<text transform="translate(189.1 127.9) scale(.9 1)" font-size="6.1" fill="#1a1a1a" stroke="#1a1a1a" stroke-width=".12">10<tspan dy="-2.6" font-size="5.8">1</tspan></text>
<text transform="translate(160.8 96.8) rotate(-90) scale(.9 1)" font-size="6.1" fill="#1a1a1a" stroke="#1a1a1a" stroke-width=".12">10<tspan dy="-2.2" font-size="5.8">1</tspan></text>
<text transform="translate(217.2 127.9) scale(.9 1)" font-size="6.1" fill="#1a1a1a" stroke="#1a1a1a" stroke-width=".12">10<tspan dy="-2.6" font-size="5.8">2</tspan></text>
<text transform="translate(160.8 71.6) rotate(-90) scale(.9 1)" font-size="6.1" fill="#1a1a1a" stroke="#1a1a1a" stroke-width=".12">10<tspan dy="-2.2" font-size="5.8">2</tspan></text>
<text transform="translate(245.3 127.9) scale(.9 1)" font-size="6.1" fill="#1a1a1a" stroke="#1a1a1a" stroke-width=".12">10<tspan dy="-2.6" font-size="5.8">3</tspan></text>
<text transform="translate(160.8 46.4) rotate(-90) scale(.9 1)" font-size="6.1" fill="#1a1a1a" stroke="#1a1a1a" stroke-width=".12">10<tspan dy="-2.2" font-size="5.8">3</tspan></text>
<text transform="translate(273.4 127.9) scale(.9 1)" font-size="6.1" fill="#1a1a1a" stroke="#1a1a1a" stroke-width=".12">10<tspan dy="-2.6" font-size="5.8">4</tspan></text>
<text transform="translate(160.8 21.2) rotate(-90) scale(.9 1)" font-size="6.1" fill="#1a1a1a" stroke="#1a1a1a" stroke-width=".12">10<tspan dy="-2.2" font-size="5.8">4</tspan></text>
</g>
<g><clipPath id="cp2"><rect x="297.4" y="16.7" width="112.4" height="100.8"/></clipPath>
<g clip-path="url(#cp2)">
<path d="M358.7 65.9L355.4 65.0L354.1 66.1L352.9 67.2L351.7 68.3L350.5 69.3L349.3 70.4L348.1 71.5L346.9 72.6L345.7 73.7L344.5 74.8L343.3 75.9L342.1 77.0L340.9 78.1L339.7 79.2L338.6 80.3L337.4 81.5L336.3 82.7L335.3 83.9L334.2 85.2L333.3 86.5L332.3 87.8L331.4 89.2L330.6 90.6L329.9 92.2L329.3 93.9L329.7 96.5L329.7 96.5L332.3 96.7L334.0 96.1L335.5 95.2L336.9 94.4L338.2 93.4L339.5 92.4L340.8 91.3L342.0 90.3L343.1 89.1L344.3 88.0L345.4 86.8L346.4 85.5L347.4 84.3L348.5 83.0L349.5 81.8L350.5 80.5L351.6 79.3L352.6 78.0L353.6 76.8L354.7 75.5L355.7 74.3L356.7 73.0L357.7 71.7L358.8 70.5L359.8 69.2L358.7 65.9Z" fill="#cf2b1f" opacity="0.35"/>
<path d="M357.6 67.0L354.8 66.3L353.7 67.3L352.6 68.2L351.5 69.2L350.4 70.2L349.3 71.2L348.3 72.2L347.2 73.2L346.1 74.2L345.0 75.1L344.0 76.1L342.9 77.1L341.8 78.1L340.8 79.1L339.7 80.1L338.6 81.1L337.7 82.2L336.7 83.3L335.8 84.5L334.9 85.6L334.1 86.8L333.3 88.1L332.5 89.4L331.8 90.7L331.3 92.3L331.6 94.5L331.6 94.5L333.8 94.6L335.3 94.0L336.6 93.3L337.9 92.5L339.1 91.6L340.3 90.7L341.4 89.8L342.5 88.8L343.5 87.8L344.5 86.7L345.5 85.6L346.4 84.5L347.4 83.4L348.3 82.3L349.3 81.2L350.2 80.0L351.1 78.9L352.1 77.8L353.0 76.7L353.9 75.5L354.8 74.4L355.8 73.3L356.7 72.2L357.6 71.0L358.5 69.9L357.6 67.0Z" fill="#cf2b1f" opacity="0.6"/>
<path d="M356.7 68.0L354.2 67.5L353.2 68.4L352.2 69.2L351.3 70.1L350.3 71.0L349.3 71.9L348.4 72.8L347.4 73.7L346.5 74.6L345.5 75.5L344.6 76.3L343.6 77.2L342.6 78.1L341.7 79.0L340.7 79.9L339.8 80.8L338.9 81.8L338.1 82.8L337.2 83.8L336.4 84.9L335.7 85.9L334.9 87.0L334.2 88.2L333.6 89.4L333.1 90.7L333.3 92.7L333.3 92.7L335.3 92.7L336.6 92.2L337.7 91.5L338.9 90.8L339.9 90.0L340.9 89.1L341.9 88.3L342.9 87.4L343.9 86.5L344.8 85.6L345.6 84.6L346.5 83.6L347.3 82.6L348.2 81.6L349.0 80.6L349.9 79.6L350.7 78.6L351.5 77.6L352.4 76.6L353.2 75.6L354.1 74.6L354.9 73.5L355.7 72.5L356.5 71.5L357.4 70.5L356.7 68.0Z" fill="#cf2b1f" opacity="1"/>
<path d="M3569 733h7M3612 664h7M3329 905h7M3543 754h7M3457 863h7M3565 658h7M3433 894h7M3387 813h7M3546 665h7M3592 661h7M3557 680h7M3634 680h7M3363 847h7M3342 942h7M3377 927h7M3570 644h7M3475 731h7M3323 937h7M3509 694h7M3434 913h7M3355 931h7M3464 705h7M3585 663h7M3532 765h7M3550 666h7M3302 908h7M3511 682h7M3299 972h7M3321 931h7M3590 669h7M3318 968h7M3597 647h7M3348 853h7M3349 938h7M3314 934h7M3441 859h7M3295 952h7M3361 855h7M3487 824h7M3584 680h7M3464 703h7M3287 971h7M3575 663h7M3508 693h7M3583 659h7M3404 906h7M3308 913h7M3546 773h7M3555 663h7M3283 960h7M3404 908h7M3443 765h7M3324 961h7M3337 873h7M3396 925h7M3376 943h7M3387 935h7M3449 758h7M3350 869h7M3559 759h7M3587 659h7M3450 865h7M3345 873h7M3390 908h7M3440 750h7M3374 805h7M3547 746h7M3342 860h7M3438 917h7M3594 655h7M3400 915h7M3599 734h7M3345 857h7M3341 879h7M3544 759h7M3322 896h7M3357 857h7M3304 926h7M3536 801h7M3349 965h7M3299 967h7M3400 756h7M3568 692h7M3321 963h7M3288 963h7M3329 879h7M3386 770h7M3560 642h7M3435 891h7M3316 846h7M3326 944h7M3564 651h7M3361 833h7M3546 660h7M3472 736h7M3458 839h7M3498 846h7M3424 784h7M3461 737h7M3296 960h7M3295 905h7M3519 689h7M3522 809h7M3574 713h7M3549 761h7M3390 820h7M3349 928h7M3311 943h7M3486 843h7M3338 954h7M3566 665h7M3530 765h7M3418 887h7M3588 681h7M3516 698h7M3292 969h7M3311 955h7M3314 939h7M3581 675h7M3572 671h7M3298 960h7M3580 764h7M3320 921h7M3430 888h7M3440 709h7M3472 882h7M3498 797h7M3576 657h7M3615 687h7M3366 847h7M3412 894h7M3314 925h7M3383 800h7M3590 695h7M3288 977h7M3561 721h7M3540 658h7M3586 663h7M3533 672h7M3393 766h7M3296 962h7M3575 680h7M3300 946h7M3374 839h7M3424 785h7M3442 718h7M3300 956h7M3545 670h7M3310 969h7M3485 729h7M3546 665h7M3290 869h7M3291 971h7M3471 883h7M3318 874h7M3375 949h7M3316 962h7M3586 721h7M3426 896h7M3359 942h7M3376 828h7M3396 916h7M3570 625h7M3555 735h7M3606 668h7M3551 732h7M3567 642h7M3362 851h7M3576 684h7M3548 777h7M3339 892h7M3592 670h7M3292 926h7M3296 956h7M3448 758h7M3349 843h7M3336 930h7M3491 711h7M3589 685h7M3555 734h7M3409 952h7M3447 928h7M3577 699h7M3556 653h7M3304 934h7M3459 870h7M3412 733h7M3358 839h7M3348 832h7M3575 701h7M3332 973h7M3602 661h7M3332 897h7M3355 834h7M3295 934h7M3615 660h7M3346 879h7M3562 642h7M3309 966h7M3515 781h7M3560 670h7M3393 911h7M3359 840h7M3501 833h7M3341 948h7M3316 949h7M3573 690h7M3332 926h7M3401 902h7M3348 845h7M3305 968h7M3444 766h7M3536 772h7M3320 891h7M3576 654h7M3405 728h7M3548 659h7M3340 934h7M3351 948h7M3359 850h7M3302 942h7M3407 909h7M3476 862h7M3330 954h7M3421 916h7M3585 686h7M3328 926h7M3298 977h7M3579 729h7M3573 695h7M3370 826h7M3583 662h7M3413 895h7M3341 865h7M3494 826h7M3453 881h7M3355 943h7M3470 743h7M3491 846h7M3315 897h7M3508 674h7M3570 696h7M3287 972h7M3326 978h7M3341 959h7M3383 829h7M3558 739h7M3564 680h7M3597 687h7M3282 966h7M3527 761h7M3457 754h7M3385 758h7M3600 696h7M3428 773h7M3423 754h7M3404 903h7M3473 731h7M3585 663h7M3426 897h7M3534 753h7M3335 856h7M3309 946h7M3579 659h7M3305 961h7M3524 773h7M3343 957h7M3454 870h7M3299 955h7M3335 889h7M3549 737h7M3600 653h7M3459 751h7M3371 918h7M3467 747h7M3601 658h7M3319 925h7M3589 656h7M3491 714h7M3570 682h7M3315 919h7M3488 727h7M3318 948h7M3585 693h7M3316 920h7M3440 736h7M3590 682h7M3342 854h7M3543 669h7M3553 767h7M3319 953h7M3561 673h7M3409 908h7M3442 765h7M3367 945h7M3582 661h7M3433 869h7M3487 702h7M3335 969h7M3482 841h7M3269 965h7M3419 895h7M3290 967h7M3441 882h7M3297 900h7M3432 773h7M3374 816h7M3396 805h7M3582 684h7M3409 786h7M3324 886h7M3320 915h7M3290 966h7M3549 776h7M3614 669h7M3363 852h7M3545 773h7M3339 944h7M3357 939h7M3355 810h7M3398 902h7M3590 726h7M3576 691h7M3352 954h7M3327 944h7M3365 923h7M3328 951h7M3610 660h7M3501 845h7M3391 796h7M3593 684h7M3398 932h7M3328 923h7M3295 971h7M3572 716h7M3295 886h7M3537 656h7M3435 886h7M3581 652h7M3298 970h7M3292 979h7M3561 659h7M3509 851h7M3471 831h7M3609 664h7M3532 675h7M3589 643h7M3330 935h7M3328 936h7M3495 818h7M3525 688h7M3316 922h7M3365 841h7M3483 730h7M3315 941h7M3300 942h7M3610 655h7M3462 725h7M3342 882h7M3362 940h7M3480 830h7M3362 844h7M3528 685h7M3452 756h7M3327 942h7M3376 835h7M3573 719h7M3320 920h7M3319 904h7M3572 710h7M3317 955h7M3311 937h7M3298 955h7M3298 961h7M3385 939h7M3585 727h7M3532 771h7M3302 946h7M3280 979h7M3313 830h7M3311 936h7M3600 681h7M3602 674h7M3370 934h7M3444 856h7M3432 874h7M3593 670h7M3516 778h7M3537 791h7M3575 703h7M3362 842h7M3426 888h7M3485 689h7M3617 679h7M3451 848h7M3372 920h7M3595 680h7M3292 975h7M3308 867h7M3585 666h7M3504 702h7M3401 795h7M3286 973h7M3496 706h7M3409 800h7M3311 896h7M3392 908h7M3541 759h7M3574 652h7M3612 667h7M3319 959h7M3285 960h7M3533 679h7M3578 659h7M3492 810h7M3327 946h7M3541 741h7M3355 859h7M3484 815h7M3331 945h7M3456 734h7M3380 813h7M3553 649h7M3360 923h7M3300 921h7M3339 861h7M3560 659h7M3398 904h7M3344 934h7M3547 664h7M3484 833h7M3294 974h7M3465 834h7M3481 824h7M3433 734h7M3625 668h7M3451 926h7M3308 948h7M3333 925h7M3574 681h7M3542 676h7M3567 688h7M3613 675h7M3326 905h7M3454 853h7M3444 762h7M3565 641h7M3489 687h7M3402 794h7M3324 922h7M3287 974h7M3400 778h7M3583 687h7M3386 816h7M3359 841h7M3328 934h7M3557 642h7M3460 748h7M3472 736h7M3301 962h7M3327 946h7M3530 653h7M3460 873h7M3570 677h7M3579 697h7M3566 670h7M3580 670h7M3578 657h7M3362 840h7M3309 920h7M3340 868h7M3399 756h7M3634 685h7M3598 658h7M3575 655h7M3346 826h7M3465 743h7M3297 963h7M3438 769h7M3314 905h7M3560 648h7M3405 891h7M3360 847h7M3429 769h7M3466 703h7M3451 921h7M3582 686h7M3571 682h7M3423 878h7M3315 937h7M3594 642h7M3581 637h7M3432 874h7M3435 889h7M3476 712h7M3615 693h7M3285 942h7M3597 676h7M3567 682h7M3573 686h7M3338 848h7M3296 958h7M3320 963h7M3435 768h7M3562 683h7M3414 883h7M3407 777h7M3533 649h7M3553 673h7M3555 682h7M3432 757h7M3327 921h7M3573 626h7M3605 678h7M3462 742h7M3343 864h7M3332 938h7M3303 968h7M3563 636h7M3326 909h7M3407 893h7M3368 849h7M3496 700h7M3536 679h7M3543 749h7M3351 947h7M3447 751h7M3316 970h7M3597 646h7M3434 868h7M3380 832h7M3570 686h7M3557 680h7M3382 829h7M3292 917h7M3427 883h7M3346 929h7M3570 642h7M3375 944h7M3431 880h7M3450 706h7M3321 936h7M3458 750h7M3323 909h7M3548 748h7M3328 937h7M3408 896h7M3317 959h7M3581 654h7M3470 890h7M3494 831h7M3318 927h7M3301 958h7M3589 646h7M3342 948h7M3330 919h7M3559 731h7M3495 826h7M3300 965h7M3510 778h7M3502 811h7M3502 703h7M3536 778h7M3410 794h7M3489 717h7M3548 670h7M3390 812h7M3516 688h7M3295 957h7M3498 703h7M3596 681h7M3383 827h7M3319 945h7M3282 980h7M3578 694h7M3372 835h7M3336 929h7M3563 758h7M3454 844h7M3416 887h7M3354 931h7M3312 891h7M3542 741h7M3463 922h7M3390 805h7M3525 680h7M3584 696h7M3606 669h7M3422 777h7M3596 658h7M3521 777h7M3551 672h7M3600 660h7M3600 660h7M3572 636h7M3424 783h7M3603 649h7M3448 864h7M3482 726h7M3577 708h7M3425 889h7M3326 952h7M3390 818h7M3322 945h7M3578 659h7M3383 800h7M3325 905h7M3594 647h7M3405 895h7M3561 664h7M3320 906h7M3478 828h7M3345 864h7M3382 924h7M3359 924h7M3528 680h7M3589 663h7M3288 980h7M3544 744h7M3535 665h7M3558 729h7M3469 845h7M3287 967h7M3593 653h7M3371 925h7M3401 900h7M3582 699h7M3286 924h7M3431 762h7M3321 903h7M3553 737h7M3597 656h7M3606 670h7M3427 757h7M3317 975h7M3343 848h7M3368 944h7M3385 781h7M3472 855h7M3315 943h7M3578 665h7M3329 936h7M3337 932h7M3299 942h7M3314 939h7M3590 670h7M3485 730h7M3584 710h7M3359 937h7M3310 890h7M3542 751h7M3302 971h7M3316 905h7M3437 921h7M3557 651h7M3337 939h7M3287 945h7M3590 690h7M3323 925h7M3381 821h7M3347 956h7M3595 665h7M3465 840h7M3492 716h7M3304 963h7M3420 891h7M3548 653h7M3590 665h7M3336 886h7M3335 931h7M3557 734h7M3319 936h7M3597 674h7M3569 719h7M3329 923h7M3561 734h7M3855 454h7M3934 362h7M3788 456h7M3994 392h7M3941 443h7M3815 409h7M3858 434h7M3951 371h7M3864 417h7M3957 422h7M3798 430h7M3951 389h7M4021 359h7M3945 393h7M3814 438h7M3860 351h7M3972 426h7M3912 395h7M4022 392h7M3946 403h7M3862 395h7M3834 360h7M3955 389h7M3901 411h7M3967 411h7M3912 401h7M3937 341h7M3926 404h7M3847 420h7M3986 398h7M3962 338h7M3913 388h7M3866 402h7M4018 435h7M3931 388h7M3904 390h7M4047 427h7M3926 434h7M3957 356h7M3916 427h7M3884 378h7M3989 456h7M3983 380h7M3892 406h7M3902 474h7M3925 420h7M3897 418h7M3838 407h7M3969 390h7M3903 404h7M3966 387h7M3982 384h7M3886 377h7M3939 396h7M3903 405h7M3959 390h7M3971 426h7M3965 380h7M3873 428h7M3922 415h7M3856 385h7M3999 360h7M4005 382h7M3939 369h7M3941 420h7M3879 362h7M3927 405h7M4007 406h7M3901 405h7M3983 383h7M3916 414h7M3906 419h7M4015 403h7M3970 362h7M3864 366h7M3885 421h7M3971 395h7M3826 409h7M3932 390h7M3930 373h7M3921 371h7M3907 398h7M4026 459h7M3928 358h7M3936 429h7M3784 406h7M3921 440h7M3974 409h7M3931 434h7M3964 392h7M3905 377h7M3912 374h7M4029 377h7M3890 473h7M3854 404h7M3947 373h7M3871 401h7M3929 386h7M3975 348h7M3966 377h7M3918 351h7M3925 394h7M4008 359h7M4003 424h7M3921 368h7M3934 377h7M4028 332h7M3868 412h7M3904 408h7M3978 442h7M3997 335h7M3882 375h7M3865 377h7M3945 401h7M3932 434h7M4012 371h7M3954 375h7M3924 389h7M3934 380h7M3935 390h7M3948 384h7M3940 386h7M3879 429h7M3941 390h7M3851 421h7M3874 369h7M4023 358h7M3927 416h7M3984 378h7M3912 412h7M4017 398h7M3868 360h7M3942 333h7M3849 416h7M3908 378h7M3989 343h7M3894 370h7M3868 423h7M3854 441h7M3880 385h7M3919 370h7M3968 401h7M3839 454h7M3913 413h7M3919 444h7M4032 376h7M4017 343h7M3864 436h7M3928 395h7M3890 370h7M3963 363h7M3891 326h7M3973 338h7M3983 435h7M3994 381h7M3828 389h7M3858 434h7M4051 383h7M3922 416h7M3937 408h7M3898 347h7M3942 399h7M3847 401h7M3943 397h7M3922 342h7M3921 415h7M3912 395h7M3808 440h7M3906 422h7M4004 341h7M3972 384h7M3802 393h7M3963 357h7M3927 405h7M3910 327h7M3932 361h7M3887 444h7M3835 420h7M3868 376h7M3990 418h7M3873 346h7M3922 403h7M3958 378h7M3943 380h7M3834 370h7M4040 370h7M3983 397h7M3991 374h7M3891 407h7M3930 357h7M3935 364h7M3918 421h7M3897 382h7M3977 361h7M3894 451h7M3887 441h7M3901 375h7M4062 387h7M4051 364h7M3930 399h7M3904 470h7M3915 453h7M3942 374h7M3900 398h7M3964 352h7M3953 385h7M3965 394h7M3885 439h7M3962 341h7M3940 377h7M3932 414h7M3974 443h7M3944 448h7M3913 327h7M3883 403h7M3941 363h7M3949 414h7M4016 410h7M3889 379h7M3949 372h7M3879 437h7M3904 384h7M3916 388h7M3881 473h7M3944 380h7M3852 369h7M3933 353h7M3992 408h7M4030 346h7M4020 400h7M3549 471h7M4068 560h7M3584 499h7M3716 616h7M3784 445h7M3773 453h7M3973 459h7M3925 359h7M3723 480h7M3927 344h7M3659 460h7M3900 425h7M4000 420h7M3838 405h7M4034 412h7M3774 503h7M3956 358h7M3927 432h7M3801 569h7M3595 505h7M3796 483h7M3836 338h7M3768 448h7M3832 474h7M3764 600h7M3848 449h7M3756 624h7M3866 523h7M3794 588h7M3672 470h7M3860 555h7M3728 492h7M3792 578h7M3885 454h7M3738 279h7M3771 481h7M3715 555h7M3789 566h7M3947 453h7M3869 462h7M3751 508h7M3821 352h7M3891 396h7M3996 453h7M3850 421h7M3770 475h7M3953 401h7M3688 631h7M3770 456h7M3708 494h7M4221 307h7M3783 523h7M3960 242h7M4070 538h7M3679 535h7M3906 537h7M3932 503h7M3902 362h7M3857 579h7M3692 514h7M3925 526h7M3761 431h7M3990 525h7M4060 332h7M3809 543h7M3953 335h7M3751 597h7M3897 340h7M3869 466h7M3832 383h7M3864 486h7M3678 383h7M3669 596h7M3790 602h7M3920 402h7M3820 468h7M3946 416h7M3411 514h7M3841 417h7M3766 375h7M3867 406h7M3700 611h7M3997 352h7M3781 582h7M3924 390h7M3829 437h7M3889 346h7M3897 391h7M3929 395h7M3748 486h7M3965 495h7M4007 490h7M3821 368h7M4014 440h7M4056 480h7M3909 448h7M3962 353h7M3933 607h7M3866 423h7M3705 294h7M3898 412h7M4011 437h7M3814 478h7M3679 533h7M3805 456h7M3788 454h7M3867 578h7M3868 340h7M3934 391h7M3787 486h7M3933 457h7M3922 352h7M3873 572h7M4072 404h7M3856 434h7M3946 456h7M3611 459h7M3695 470h7M3889 566h7M3903 552h7M3761 417h7M3742 608h7M4107 443h7M3752 451h7M3740 448h7M3931 346h7M3883 499h7M3777 385h7M3677 517h7M3609 403h7M3810 543h7M3740 575h7M3791 480h7M3833 278h7M3796 577h7M3815 398h7M3956 454h7M3893 347h7M3704 393h7M3686 585h7M3936 471h7M3888 440h7M4011 261h7M3998 355h7M3805 375h7M4008 510h7M3864 326h7M3677 488h7M3885 351h7M3847 496h7M3984 356h7M4104 291h7M3906 404h7M4019 462h7M3839 416h7M3718 405h7M3872 439h7M4013 361h7M3846 537h7M3752 459h7M3657 471h7M3896 549h7M3837 481h7M3891 391h7M3931 478h7M3724 543h7M3656 479h7M4088 340h7M3923 372h7M3712 501h7M3909 593h7M3915 375h7M3717 464h7M3917 499h7M3762 585h7M3877 466h7M4163 282h7M4003 374h7M3810 483h7M4135 473h7M3914 581h7M3833 587h7M3817 482h7M3930 441h7M3927 447h7M3909 412h7M3705 542h7M3954 184h7M3892 540h7M3960 464h7M3736 384h7M3903 514h7M4041 425h7M3967 462h7M3794 411h7M3785 510h7M4094 355h7M3899 374h7M3793 418h7M3954 472h7M3765 564h7M3801 393h7M3677 419h7M3920 579h7M3688 625h7M4043 420h7M3816 713h7M3872 565h7M3778 445h7M3572 705h7M3684 605h7M3688 538h7M3716 498h7M3756 533h7M3577 518h7M3825 349h7M3787 584h7M3948 318h7M3827 513h7M3817 595h7M3821 399h7M3762 589h7M3781 367h7M3838 544h7M3716 565h7M3611 484h7M3928 429h7M3955 449h7M3993 313h7M3712 577h7M3774 437h7M3996 527h7M3713 524h7M3823 648h7M3983 399h7M3866 412h7M3565 575h7M3975 596h7M3806 440h7M3831 377h7M3953 406h7M3738 582h7M3868 358h7M3845 485h7M3846 622h7M3716 433h7M4024 492h7M3931 624h7M3812 367h7M3804 393h7M3837 554h7M3934 444h7M3959 436h7M3956 538h7M3768 298h7M3633 387h7M3744 438h7M3837 555h7M3758 661h7M3719 670h7M3807 528h7M3887 393h7M3969 590h7M3971 392h7M3840 409h7M3912 529h7M4048 417h7M3822 253h7M3620 511h7M3887 427h7M3843 353h7M3716 588h7M3909 347h7M3890 393h7M3766 443h7M3734 519h7M3893 412h7M3869 542h7M3627 612h7M3679 558h7M3929 227h7M3840 619h7M3828 506h7M3845 237h7M3884 494h7M3802 454h7M3740 519h7M3950 422h7M3683 473h7M3816 376h7M3741 472h7M3873 451h7M3853 611h7M3903 446h7M3729 519h7M4197 434h7M3757 698h7M3868 531h7M3805 534h7M3838 578h7M3902 449h7M3981 338h7M3807 575h7M4013 417h7M3710 564h7M3831 625h7M3754 448h7M3764 511h7M3894 504h7M3811 466h7M3700 592h7M3833 651h7M3666 528h7M3854 641h7M3732 374h7M3935 426h7M3751 520h7M3755 461h7M3843 512h7M3875 493h7M4023 529h7M3940 492h7M3736 688h7M3901 547h7M3771 476h7M3934 424h7M3976 332h7M3847 475h7M3792 593h7M3731 418h7M4006 489h7M3822 521h7M3933 535h7M3829 510h7M3809 541h7M3647 401h7M3847 589h7M3858 401h7M3817 500h7M3977 391h7M3738 387h7M3924 569h7M3780 268h7M3821 389h7M3875 461h7M3779 513h7M3807 319h7M3940 640h7M3619 456h7M3816 505h7M3989 584h7M3770 592h7M3701 538h7M3791 517h7M3722 551h7M3669 387h7M3929 474h7M3881 584h7M3858 606h7M3872 446h7M3711 565h7M4085 481h7M3748 551h7M3990 522h7M3876 338h7M4018 459h7M3890 459h7M3844 335h7M3831 502h7M3747 489h7M3890 459h7M3835 572h7M3754 368h7M3714 515h7M3886 375h7M3706 335h7M3959 431h7M3983 566h7M3855 385h7M3906 471h7M3796 548h7M3884 421h7M4096 240h7M3933 528h7M3873 545h7M3731 326h7M3757 718h7M3796 403h7M3855 481h7M3804 545h7M3819 573h7M4003 320h7M3770 690h7M3654 307h7M3809 386h7M3813 388h7M4042 372h7M4001 497h7M4002 596h7M4179 482h7M3880 535h7M3763 599h7M3622 320h7M3899 475h7M4155 547h7M3689 363h7M3711 678h7M3601 484h7M3816 461h7M3915 515h7M3953 302h7M3669 532h7M3696 459h7M4025 395h7M3710 392h7M3813 571h7M3979 576h7M3718 412h7M3940 528h7M3925 551h7M3892 421h7M3900 539h7M3989 346h7M3784 480h7M3844 388h7M3936 467h7M3877 343h7M3505 366h7M3706 433h7M3971 396h7M3716 685h7M3530 960h7M3603 674h7M3620 709h7M3567 982h7M3754 590h7M3573 781h7M3605 718h7M3607 769h7M3610 768h7M3659 779h7M3590 644h7M3653 697h7M3646 687h7M3669 720h7M3599 667h7M3603 873h7M3648 713h7M3670 763h7M3558 860h7M3648 895h7M3735 605h7M3669 803h7M3598 862h7M3611 877h7M3659 812h7M3645 788h7M3623 848h7M3630 846h7M3614 821h7M3655 807h7M3604 823h7M3613 926h7M3649 850h7M3653 872h7M3726 853h7M3647 729h7M3623 902h7M3587 880h7M3640 850h7M3644 694h7M3701 717h7M3553 844h7M3667 659h7M3708 730h7M3687 590h7M3531 968h7M3639 677h7M3675 685h7M3595 839h7M3566 823h7M3599 934h7M3614 845h7M3635 615h7M3581 813h7M3675 787h7M3694 531h7M3672 667h7M3710 777h7M3560 943h7M3563 859h7M3638 675h7M3586 841h7M3650 603h7M3558 921h7M3645 765h7M3590 735h7M3717 788h7M3550 874h7M3564 725h7M3724 677h7M3658 841h7M3651 786h7M3733 749h7M3740 765h7M3636 810h7M3696 678h7M3546 898h7M3566 870h7M3586 824h7M3648 965h7M3640 790h7M3620 744h7M3717 659h7M3641 775h7M3718 697h7M3602 858h7M3731 677h7M3608 723h7M3754 638h7M3632 758h7M3640 841h7M3680 530h7M3713 654h7M3667 756h7M3729 626h7M3551 739h7M3701 802h7M3710 685h7M3651 745h7M3715 712h7M3675 878h7M3665 779h7M3582 874h7M3579 889h7M3712 802h7M3657 757h7M3678 682h7M3719 696h7M3709 743h7M3595 833h7M3662 820h7M3706 668h7M3559 897h7M3632 797h7M3652 838h7M3666 721h7M3591 754h7M3670 760h7M3684 891h7M3715 665h7M3643 775h7M3626 847h7M3664 714h7M3654 712h7M3634 794h7M3595 782h7M3589 889h7M3556 798h7M3633 883h7M3709 664h7M3671 821h7M3615 760h7M3700 799h7M3608 795h7M3787 664h7M3628 775h7M3691 738h7M3624 812h7M3569 889h7M3591 791h7M3611 752h7M3605 785h7M3616 666h7M3564 898h7M3501 917h7M3628 909h7M3619 899h7M3619 829h7M3642 754h7M3679 668h7M3586 767h7M3669 764h7M3616 846h7M3517 872h7M3632 819h7M3606 745h7M3686 875h7M3578 848h7M3670 677h7M3710 662h7M3629 798h7M3749 719h7M3638 744h7M3579 716h7M3552 970h7M3594 793h7M3616 860h7M3640 800h7M3627 834h7M3613 735h7M3655 905h7M3659 950h7M3685 584h7M3680 680h7M3653 814h7M3542 779h7M3720 620h7M3679 727h7M3615 790h7M3691 718h7M3659 794h7M3632 681h7M3589 1049h7M3676 709h7M3650 849h7M3709 942h7M3715 762h7M3728 704h7M3561 641h7M3598 779h7M3676 575h7M3661 854h7M3629 801h7M3623 758h7M3626 764h7M3609 894h7M3685 717h7M3642 725h7M3631 741h7M3669 738h7M3610 781h7M3599 849h7M3712 674h7M3653 741h7M3697 831h7M3607 807h7M3619 785h7M3684 823h7M3530 962h7M3639 913h7M3726 613h7M3610 781h7M3681 739h7M3633 858h7M3609 765h7M3605 746h7M3588 830h7M3600 875h7M3701 774h7M3694 816h7M3651 686h7M3589 820h7M3612 802h7M3664 776h7M3641 820h7M3628 782h7M3668 711h7M3660 776h7M3603 777h7M3649 690h7M3678 672h7M3511 828h7M3637 747h7M3530 990h7M3729 658h7M3576 893h7M3636 811h7M3552 805h7M3630 780h7M3597 852h7M3636 773h7M3647 548h7M3660 724h7M3583 837h7M3699 816h7M3704 724h7M3639 906h7M3616 933h7M3560 815h7M3650 810h7M3660 804h7M3650 760h7M3519 1068h7M3594 901h7M3593 942h7M3571 791h7M3553 903h7M3597 710h7M3664 543h7M3709 590h7M3730 671h7M3676 689h7M3624 789h7M3658 896h7M3608 760h7M3772 702h7M3689 874h7M3538 842h7M3747 635h7M3699 581h7M3569 741h7M3604 761h7M3697 698h7M3646 834h7M3702 673h7M3612 802h7M3701 664h7M3626 771h7M3602 719h7M3669 698h7M3635 774h7M3565 779h7M3615 843h7M3586 870h7M3634 710h7M3616 744h7M3621 741h7M3744 608h7M3632 966h7M3656 842h7M3684 701h7M3553 816h7M3601 872h7M3622 914h7M3600 952h7M3696 793h7M3624 668h7M3658 777h7M3659 633h7M3594 790h7M3586 850h7M3676 679h7M3611 617h7M3663 582h7M3639 869h7M3595 798h7M3671 779h7M3570 809h7M3655 805h7M3597 717h7M3508 934h7M3563 965h7M3655 791h7M3593 982h7M3580 909h7M3703 713h7M3750 645h7M3614 871h7M3620 870h7M3632 778h7M3614 939h7M3667 581h7M3645 764h7M3741 788h7M3672 786h7M3648 800h7M3684 572h7M3600 781h7M3691 672h7M3569 809h7M3831 536h7M3598 828h7M3642 724h7M3582 900h7M3584 858h7M3678 702h7M3745 666h7M3716 814h7M3667 910h7M3571 769h7M3653 658h7M3630 886h7M3673 821h7M3700 722h7M3774 497h7M3648 841h7M3650 792h7M3752 790h7M3651 700h7M3565 1030h7M3614 826h7M3653 831h7M3649 756h7M3704 658h7M3666 683h7M3686 607h7M3637 765h7M3571 901h7M3645 641h7M3660 789h7M3602 833h7M3739 538h7M3716 648h7M3675 753h7M3709 580h7M3634 815h7M3649 687h7M3732 600h7M3591 723h7M3671 759h7M3602 804h7M3575 1041h7M3725 705h7M3551 863h7M3591 812h7M3732 769h7M3579 820h7M3582 917h7M3702 780h7M3662 867h7M3524 951h7M3573 923h7M3671 724h7M3632 773h7M3645 807h7M3664 817h7M3682 701h7M3784 671h7M3553 815h7M3630 795h7M3662 662h7M3610 746h7M3741 662h7M3644 902h7M3590 861h7M3653 794h7M3559 908h7M3556 837h7M3679 614h7M3621 743h7M3628 863h7M3622 874h7M3638 748h7M3625 863h7M3656 771h7M3655 845h7M3726 642h7M3586 779h7M3573 973h7M3610 872h7M3660 581h7M3626 766h7M3589 834h7M3625 810h7M3608 716h7M3649 743h7M3660 666h7M3651 740h7M3673 788h7M3612 815h7M3676 792h7M3695 723h7M3666 756h7M3632 896h7M3648 852h7M3639 681h7M3583 836h7M3699 779h7M3614 886h7M3736 651h7M3569 799h7M3581 787h7M3672 801h7M3546 932h7M3593 837h7M3643 709h7M3692 557h7M3568 948h7M3672 699h7M3657 887h7M3828 403h7M3600 885h7M3719 688h7M3587 885h7M3534 970h7M3652 770h7M3597 832h7M3642 898h7M3644 763h7M3605 647h7M3785 545h7M3673 723h7M3647 745h7M3573 926h7M3547 878h7M3651 726h7M3704 772h7M3646 743h7M3600 760h7M3765 622h7M3630 814h7M3647 698h7M3667 857h7M3621 644h7M3646 579h7M3627 662h7M3630 816h7M3566 773h7M3613 827h7M3628 775h7M3599 801h7M3669 708h7M3610 747h7M3640 868h7M3664 931h7M3636 721h7M3491 888h7M3627 747h7M3632 709h7M3605 827h7M3712 808h7M3654 906h7M3636 712h7M3567 922h7M3593 803h7M3674 789h7M3675 744h7M3606 779h7M3591 1065h7M3736 728h7M3591 743h7M3598 809h7M3593 955h7M3673 888h7M3689 753h7M3620 862h7M3683 728h7M3634 679h7M3593 704h7M3631 884h7M3640 677h7M3679 649h7M3599 853h7M3569 852h7M3735 620h7M3544 846h7M3572 785h7M3709 729h7M3652 820h7M3685 884h7M3648 656h7M3674 803h7M3603 677h7M3693 581h7M3521 897h7M3535 954h7M3583 883h7M3640 878h7M3696 779h7M3603 895h7M3576 777h7M3643 615h7M3630 679h7M3590 782h7M3639 775h7M3650 877h7M3704 690h7M3613 886h7M3567 898h7M3673 792h7M3698 649h7M3678 850h7M3607 823h7M3654 722h7M3705 719h7M3653 806h7M3609 902h7M3716 732h7M3534 1003h7M3571 792h7M3718 689h7M3606 738h7M3617 894h7M3598 710h7M3652 769h7M3686 657h7M3641 685h7M3604 831h7M3635 844h7M3577 818h7M3568 837h7M3622 607h7M3668 666h7M3700 716h7M3594 798h7M3576 756h7M3577 872h7M3663 686h7M3583 802h7M3680 683h7M3700 763h7M3593 829h7M3663 646h7M3559 829h7M3689 635h7M3557 835h7M3629 1020h7M3618 686h7M3619 687h7M3636 725h7M3622 877h7M3588 648h7M3607 696h7M3647 791h7M3616 862h7M3638 837h7M3566 905h7M3624 739h7M3496 877h7M3593 866h7M3586 954h7M3765 717h7M3621 819h7M3624 779h7M3649 779h7M3636 814h7M3584 921h7M3590 802h7M3579 899h7M3546 887h7M3626 815h7M3609 689h7M3656 825h7M3632 887h7M3660 660h7M3572 845h7M3586 769h7M3652 752h7M3602 818h7M3644 777h7M3587 984h7M3674 845h7M3552 884h7M3673 659h7M3641 857h7M3693 734h7M3605 743h7M3588 891h7M3679 613h7M3706 771h7M3673 771h7M3608 887h7M3679 569h7M3621 739h7M3585 845h7M3698 828h7M3601 838h7M3602 823h7M3693 799h7M3592 800h7M3588 842h7M3586 864h7M3752 625h7M3629 862h7M3715 765h7M3626 747h7M3659 687h7M3708 760h7M3662 735h7M3684 555h7M3622 728h7M3553 824h7M3623 739h7M3598 796h7M3619 736h7M3735 755h7M3671 734h7M3595 924h7M3556 766h7M3642 731h7M3711 657h7M3632 631h7M3728 529h7M3578 865h7M3546 820h7M3642 676h7M3570 814h7M3662 800h7M3613 633h7M3614 755h7M3647 638h7M3603 684h7M3662 711h7M3634 842h7M3671 562h7M3682 686h7M3619 700h7M3598 803h7M3625 835h7M3598 900h7M3630 726h7M3646 862h7M3569 749h7M3553 742h7M3694 825h7M3706 629h7M3650 851h7M3642 843h7M3629 758h7M3575 859h7M3617 867h7M3608 689h7M3665 772h7M3587 838h7M3699 800h7M3568 810h7M3629 817h7M3649 812h7M3692 841h7M3620 817h7M3685 795h7M3656 947h7M3699 805h7M3709 659h7M3708 687h7M3610 813h7M3705 766h7M3555 776h7M3609 886h7M3644 686h7M3738 650h7M3592 747h7M3648 801h7M3666 554h7M3669 621h7M3601 816h7M3594 716h7M3737 812h7M3535 778h7M3739 679h7M3719 915h7M3827 870h7M3737 905h7M3513 848h7M3604 954h7M3764 868h7M3650 820h7M3790 708h7M3683 753h7M3638 958h7M3731 908h7M3889 931h7M3679 763h7M3658 732h7M3675 830h7M3696 863h7M3775 965h7M3770 832h7M3832 850h7M3806 884h7M3763 923h7M3819 842h7M3737 933h7M3612 927h7M3847 1074h7M3695 835h7M3567 898h7M3653 732h7M3680 883h7M3631 776h7M3751 866h7M3713 985h7M3724 788h7M3743 447h7M3669 897h7M3761 962h7M3822 627h7M3728 862h7M3888 767h7M3836 871h7M3715 689h7M3686 749h7M3776 1164h7M3548 598h7M3514 807h7M3687 829h7M3749 1002h7M3846 678h7M3775 823h7M3786 802h7M3673 887h7M3781 776h7M3765 924h7M3748 663h7M3622 661h7M3680 819h7M3650 644h7M3693 763h7M3722 997h7M3622 828h7M3685 804h7M3592 842h7M3641 1173h7M3837 1126h7M3590 941h7M3610 909h7M3704 850h7M3650 1015h7M3656 750h7M3662 812h7M3634 969h7M3623 707h7M3675 704h7M3651 840h7M3683 602h7M3608 1051h7M3754 1167h7M3684 851h7M3912 839h7M3799 1048h7M3548 814h7M3716 939h7M3789 816h7M3665 1079h7M3674 915h7M3765 794h7M3639 608h7M3649 863h7M3862 918h7M3707 745h7M3704 780h7M3725 880h7M3774 743h7M3653 851h7M3612 836h7M3668 785h7M3752 727h7M3619 887h7M3612 908h7M3597 943h7M3788 778h7M3850 700h7M3615 858h7M3707 897h7M3756 1076h7M3634 916h7M3718 801h7M3703 931h7M3730 659h7M3687 912h7M3760 878h7M3693 859h7M3845 755h7M3741 772h7M3618 867h7M3615 799h7M3647 990h7M3617 848h7M3674 785h7M3743 1028h7M3541 861h7M3775 750h7M3807 872h7M3756 879h7M3675 1144h7M3668 777h7M3744 881h7M3607 649h7M3657 677h7M3642 774h7M3657 835h7M3709 777h7M3719 837h7M3668 1033h7M3617 869h7M3688 837h7M3636 679h7M3701 1004h7M3692 901h7M3691 878h7M3660 894h7M3703 921h7M3826 793h7M3732 662h7M3813 761h7M3786 846h7M3813 944h7M3746 889h7M3753 838h7M3759 692h7M3595 915h7M3646 813h7M3755 822h7M3679 681h7M3609 797h7M3727 637h7M3669 933h7M3670 968h7M3837 714h7M3605 946h7M3612 836h7M3818 820h7M3754 967h7M3630 846h7M3827 817h7M3749 780h7M3782 788h7M3604 733h7M3839 974h7M3748 609h7M3625 818h7M3624 715h7M3647 696h7M3646 735h7M3697 832h7M3809 915h7M3677 619h7M3605 686h7M3692 804h7M3790 1030h7M3613 468h7M3800 1057h7M3893 1069h7M3716 1036h7M3529 764h7M3700 867h7M3699 965h7M3648 803h7M3726 849h7M3621 772h7M3791 752h7M3679 919h7M3748 872h7M3736 817h7M3778 696h7M3809 792h7M3795 904h7M3678 1118h7M3705 855h7M3724 1047h7M3748 827h7M3815 788h7M3921 966h7M3729 715h7M3841 683h7M3754 945h7M3681 835h7M3682 959h7M3622 1026h7M3752 939h7M3686 818h7M3853 984h7M3604 959h7M3885 769h7M3719 917h7M3721 851h7M3905 735h7M3635 1017h7M3763 792h7M3561 813h7M3767 806h7M3548 656h7M3831 768h7M3757 588h7M3642 940h7M3679 757h7M3616 755h7M3652 853h7M3836 691h7M3741 703h7M3808 853h7M3663 830h7M3596 790h7M3773 839h7M3734 807h7M3531 790h7M3673 832h7M3785 959h7M3602 637h7M3719 804h7M3761 844h7M3592 667h7M3749 709h7M3706 866h7M3710 770h7M3753 799h7M3778 753h7M3813 887h7M3646 824h7M3847 694h7M3772 1017h7M3587 858h7M3597 883h7M3724 882h7M3560 974h7M3741 709h7M3777 864h7M3657 722h7M3712 746h7M3761 891h7M3789 937h7M3740 910h7M3693 944h7M3573 1067h7M3645 821h7M3714 699h7M3645 826h7M3745 620h7M3628 880h7M3762 909h7M3677 670h7M3751 742h7M3736 775h7M3644 836h7M3676 864h7M3579 822h7M3564 1066h7M3679 794h7M3573 857h7M3843 949h7M3751 968h7M3647 1055h7M3686 470h7M3626 739h7M3800 829h7M3731 741h7M3858 1045h7M3529 1058h7M3563 874h7M3749 875h7M3702 752h7M3719 987h7M3617 899h7M3734 962h7M3816 758h7M3717 779h7M3555 842h7M3915 755h7M3948 711h7M3874 952h7M3872 911h7M3762 763h7M3849 774h7M3530 918h7M3759 878h7M4112 873h7M3821 903h7M3804 715h7M3661 756h7M3802 600h7M3629 1054h7M4083 901h7M3592 902h7M3602 823h7M3892 765h7M3875 992h7M3809 741h7M3941 948h7M3897 860h7M3923 700h7M3710 938h7M3935 779h7M4097 632h7M3975 1061h7M3683 817h7M3871 876h7M3755 659h7M3668 663h7M3614 742h7M3975 862h7M3646 813h7M3958 801h7M3934 806h7M3841 830h7M3744 1167h7M3837 743h7M3743 662h7M3764 849h7M3802 1043h7M3811 838h7M4024 724h7M3811 746h7M3627 915h7M3884 770h7M3732 888h7M3812 718h7M3726 687h7M3718 969h7M3935 814h7M3806 973h7M3940 976h7M3719 895h7M3796 1144h7M3759 878h7M3966 964h7M3757 782h7M3747 845h7M3614 893h7M3751 851h7M3943 760h7M3837 921h7M3799 718h7M3984 715h7M3692 899h7M3789 961h7M3945 900h7M3722 1007h7M3734 904h7M3917 900h7M3687 765h7M3884 963h7M3920 725h7M3821 995h7M3983 737h7M3950 883h7M3715 963h7M3763 748h7M3748 857h7M3854 777h7M3927 831h7M4053 1045h7M3746 982h7M3921 870h7M3761 851h7M3707 808h7M3931 712h7M3768 877h7M3800 917h7M3807 935h7M3635 903h7M4072 834h7M3891 845h7M3880 943h7M3704 832h7M3742 828h7M3744 995h7M3702 1000h7M3745 918h7M3720 905h7M3813 932h7M3894 929h7M3847 731h7M3948 1070h7M3705 840h7M3517 919h7M3673 882h7M3798 848h7M4039 893h7M3739 940h7M3605 1114h7M3847 684h7M3701 946h7M3759 870h7M3778 981h7M3634 822h7M3818 749h7M3748 991h7M3910 840h7M3458 1002h7M3839 925h7M4037 901h7M3965 846h7M3816 857h7M3806 979h7M3885 940h7M3876 857h7M4033 791h7M3777 903h7M3640 837h7M3852 691h7M3720 854h7M4074 778h7M3657 893h7M3802 749h7M3719 799h7M3544 460h7M3341 666h7M3461 601h7M3531 633h7M3583 480h7M3449 687h7M3598 560h7M3562 542h7M3565 583h7M3503 574h7M3387 609h7M3562 511h7M3387 612h7M3430 758h7M3513 631h7M3585 440h7M3606 503h7M3625 654h7M3441 513h7M3468 647h7M3489 616h7M3540 540h7M3639 731h7M3530 687h7M3492 507h7M3487 488h7M3562 530h7M3507 451h7M3531 631h7M3528 632h7M3387 638h7M3544 498h7M3482 594h7M3578 670h7M3482 624h7M3506 530h7M3519 630h7M3595 563h7M3507 566h7M3428 691h7M3340 589h7M3438 506h7M3466 570h7M3473 556h7M3470 623h7M3475 654h7M3644 554h7M3435 509h7M3407 655h7M3513 607h7M3496 683h7M3516 419h7M3546 617h7M3537 537h7M3527 588h7M3605 482h7M3490 624h7M3399 761h7M3514 888h7M3426 747h7M3514 811h7M3596 565h7M3252 869h7M3325 910h7M3484 854h7M3515 900h7M3437 961h7M3401 774h7M3507 916h7M3369 835h7M3384 983h7M3339 1045h7M3437 997h7M3455 846h7M3283 981h7M3307 929h7M3327 939h7M3236 967h7M3436 920h7M3457 1070h7M3352 847h7M3279 972h7M3291 1017h7M3384 796h7M3423 885h7M3404 920h7M3138 1139h7M3491 868h7M3285 908h7M3443 885h7M3373 949h7M3334 810h7M3378 821h7M3307 840h7M3132 1181h7M3407 798h7M3504 807h7M3374 990h7M3340 953h7M3547 750h7M3446 753h7M3466 836h7M3327 824h7M3286 1024h7M3284 781h7M3270 997h7M3432 908h7M3335 850h7M3361 767h7M3611 746h7M3471 674h7M3338 818h7M3228 1038h7M3194 1000h7M3583 672h7M3448 753h7M3305 890h7M3227 974h7M3363 1080h7M3328 924h7M3526 835h7M3362 688h7M3250 1016h7M3438 887h7M3947 447h7M4017 923h7M3878 704h7M3821 550h7M3653 413h7M3854 895h7M3957 1157h7M3705 422h7M3897 316h7M3621 957h7M3614 353h7M3591 682h7M4034 1055h7M4036 979h7M3778 328h7M3640 1018h7M4050 582h7M3909 789h7M3589 862h7M3733 1065h7M4003 510h7M3810 1127h7M4094 422h7M3863 581h7M3785 813h7M3606 1080h7M3561 1000h7M3954 928h7M3937 306h7M3736 1138h7M3912 218h7M3654 779h7M4078 460h7M3767 1129h7M3701 308h7M3711 609h7M3876 1010h7M3564 322h7M3560 651h7M3741 740h7" transform="scale(.1)" stroke="#cf2b1f" stroke-width="7" fill="none" opacity="1"/>
</g>
<rect x="297.4" y="16.7" width="112.4" height="100.8" fill="none" stroke="#333" stroke-width="0.85"/>
<path d="M357.1 16.7V117.5M297.4 66.3H409.79999999999995" stroke="#333" stroke-width="0.85"/>
<path d="M297.4 117.5v-2.6M297.4 117.5h2.6M305.9 117.5v-1.4M297.4 109.9h1.4M310.8 117.5v-1.4M297.4 105.5h1.4M314.3 117.5v-1.4M297.4 102.3h1.4M317.0 117.5v-1.4M297.4 99.9h1.4M319.3 117.5v-1.4M297.4 97.9h1.4M321.1 117.5v-1.4M297.4 96.2h1.4M322.8 117.5v-1.4M297.4 94.7h1.4M324.2 117.5v-1.4M297.4 93.5h1.4M325.5 117.5v-2.6M297.4 92.3h2.6M334.0 117.5v-1.4M297.4 84.7h1.4M338.9 117.5v-1.4M297.4 80.3h1.4M342.4 117.5v-1.4M297.4 77.1h1.4M345.1 117.5v-1.4M297.4 74.7h1.4M347.4 117.5v-1.4M297.4 72.7h1.4M349.2 117.5v-1.4M297.4 71.0h1.4M350.9 117.5v-1.4M297.4 69.5h1.4M352.3 117.5v-1.4M297.4 68.3h1.4M353.6 117.5v-2.6M297.4 67.1h2.6M362.1 117.5v-1.4M297.4 59.5h1.4M367.0 117.5v-1.4M297.4 55.1h1.4M370.5 117.5v-1.4M297.4 51.9h1.4M373.2 117.5v-1.4M297.4 49.5h1.4M375.5 117.5v-1.4M297.4 47.5h1.4M377.3 117.5v-1.4M297.4 45.8h1.4M379.0 117.5v-1.4M297.4 44.3h1.4M380.4 117.5v-1.4M297.4 43.1h1.4M381.7 117.5v-2.6M297.4 41.9h2.6M390.2 117.5v-1.4M297.4 34.3h1.4M395.1 117.5v-1.4M297.4 29.9h1.4M398.6 117.5v-1.4M297.4 26.7h1.4M401.3 117.5v-1.4M297.4 24.3h1.4M403.6 117.5v-1.4M297.4 22.3h1.4M405.4 117.5v-1.4M297.4 20.6h1.4M407.1 117.5v-1.4M297.4 19.1h1.4M408.5 117.5v-1.4M297.4 17.9h1.4" stroke="#222" stroke-width="0.8"/>
<text transform="translate(292.7 127.9) scale(.9 1)" font-size="6.1" fill="#1a1a1a" stroke="#1a1a1a" stroke-width=".12">10<tspan dy="-2.6" font-size="5.8">0</tspan></text>
<text transform="translate(292.5 122.0) rotate(-90) scale(.9 1)" font-size="6.1" fill="#1a1a1a" stroke="#1a1a1a" stroke-width=".12">10<tspan dy="-2.2" font-size="5.8">0</tspan></text>
<text transform="translate(320.8 127.9) scale(.9 1)" font-size="6.1" fill="#1a1a1a" stroke="#1a1a1a" stroke-width=".12">10<tspan dy="-2.6" font-size="5.8">1</tspan></text>
<text transform="translate(292.5 96.8) rotate(-90) scale(.9 1)" font-size="6.1" fill="#1a1a1a" stroke="#1a1a1a" stroke-width=".12">10<tspan dy="-2.2" font-size="5.8">1</tspan></text>
<text transform="translate(348.9 127.9) scale(.9 1)" font-size="6.1" fill="#1a1a1a" stroke="#1a1a1a" stroke-width=".12">10<tspan dy="-2.6" font-size="5.8">2</tspan></text>
<text transform="translate(292.5 71.6) rotate(-90) scale(.9 1)" font-size="6.1" fill="#1a1a1a" stroke="#1a1a1a" stroke-width=".12">10<tspan dy="-2.2" font-size="5.8">2</tspan></text>
<text transform="translate(377.0 127.9) scale(.9 1)" font-size="6.1" fill="#1a1a1a" stroke="#1a1a1a" stroke-width=".12">10<tspan dy="-2.6" font-size="5.8">3</tspan></text>
<text transform="translate(292.5 46.4) rotate(-90) scale(.9 1)" font-size="6.1" fill="#1a1a1a" stroke="#1a1a1a" stroke-width=".12">10<tspan dy="-2.2" font-size="5.8">3</tspan></text>
<text transform="translate(405.1 127.9) scale(.9 1)" font-size="6.1" fill="#1a1a1a" stroke="#1a1a1a" stroke-width=".12">10<tspan dy="-2.6" font-size="5.8">4</tspan></text>
<text transform="translate(292.5 21.2) rotate(-90) scale(.9 1)" font-size="6.1" fill="#1a1a1a" stroke="#1a1a1a" stroke-width=".12">10<tspan dy="-2.2" font-size="5.8">4</tspan></text>
</g>
<g><clipPath id="cp3"><rect x="429.5" y="16.7" width="112.4" height="100.8"/></clipPath>
<g clip-path="url(#cp3)">
<ellipse cx="479.0" cy="84.5" rx="16.5" ry="7.4" transform="rotate(-33 479.0 84.5)" fill="#cf2b1f" opacity="0.35"/>
<ellipse cx="498.0" cy="77.0" rx="12.1" ry="10.0" transform="rotate(-38 498.0 77.0)" fill="#cf2b1f" opacity="0.35"/>
<ellipse cx="479.0" cy="84.5" rx="14.1" ry="6.3" transform="rotate(-33 479.0 84.5)" fill="#cf2b1f" opacity="0.6"/>
<ellipse cx="498.0" cy="77.0" rx="10.4" ry="8.5" transform="rotate(-38 498.0 77.0)" fill="#cf2b1f" opacity="0.6"/>
<ellipse cx="479.0" cy="84.5" rx="11.9" ry="5.3" transform="rotate(-33 479.0 84.5)" fill="#cf2b1f" opacity="1"/>
<ellipse cx="498.0" cy="77.0" rx="8.8" ry="7.2" transform="rotate(-38 498.0 77.0)" fill="#cf2b1f" opacity="1"/>
<path d="M4912 816h7M4632 847h7M4744 800h7M4784 924h7M4702 956h7M4823 917h7M4665 902h7M4880 851h7M4631 883h7M4674 881h7M4839 769h7M4860 890h7M4671 932h7M4876 698h7M4730 819h7M4754 923h7M4894 770h7M4805 954h7M4823 894h7M4676 893h7M4904 740h7M4632 943h7M4882 769h7M4870 757h7M4848 928h7M4863 873h7M4703 923h7M4714 956h7M4691 849h7M4719 987h7M4707 844h7M4919 719h7M4871 766h7M4615 1024h7M4866 726h7M4667 953h7M4691 911h7M4788 979h7M4827 899h7M4893 719h7M4728 986h7M4921 735h7M4672 791h7M4630 934h7M4644 979h7M4642 898h7M4698 941h7M4829 775h7M4733 922h7M4702 832h7M4674 848h7M4753 797h7M4729 942h7M4729 932h7M4662 943h7M4757 916h7M4872 857h7M4813 941h7M4663 917h7M4678 924h7M4694 1004h7M4894 860h7M4890 789h7M4613 901h7M4685 924h7M4829 767h7M4735 957h7M4876 877h7M4768 772h7M4648 916h7M4738 923h7M4651 866h7M4894 813h7M4862 909h7M4879 823h7M4645 932h7M4928 703h7M4743 956h7M4581 935h7M4676 800h7M4948 844h7M4659 909h7M4829 893h7M4856 763h7M4890 912h7M4852 899h7M4592 972h7M4677 941h7M4595 860h7M4944 698h7M4610 959h7M4772 915h7M4629 991h7M4682 911h7M4765 776h7M4599 984h7M4952 699h7M4723 968h7M4663 942h7M4793 901h7M4722 792h7M4891 753h7M4864 915h7M4910 722h7M4627 892h7M4788 961h7M5074 752h7M4676 977h7M4762 921h7M4797 773h7M4724 791h7M4851 938h7M4820 701h7M4671 977h7M4690 828h7M4645 933h7M4889 864h7M4934 695h7M4712 925h7M4885 779h7M4800 779h7M4708 969h7M4784 948h7M4734 810h7M4676 878h7M4965 634h7M4575 937h7M4850 924h7M4854 754h7M4881 823h7M4669 946h7M4791 908h7M4883 834h7M4811 760h7M4813 889h7M4637 851h7M4809 904h7M4846 866h7M4723 830h7M4693 891h7M4899 787h7M4800 739h7M4709 839h7M4815 948h7M4887 797h7M4884 906h7M4632 901h7M4727 822h7M4885 767h7M4849 890h7M4843 867h7M4745 918h7M4893 734h7M4566 964h7M4725 928h7M4812 761h7M4532 1048h7M4601 981h7M4718 924h7M4913 734h7M4792 731h7M4636 882h7M4703 957h7M4890 785h7M4669 869h7M4907 842h7M4998 657h7M4831 885h7M4821 713h7M4795 785h7M4764 967h7M4648 935h7M4873 770h7M4770 923h7M4852 882h7M4887 738h7M4885 813h7M4689 923h7M4536 1027h7M4708 923h7M4821 900h7M4644 884h7M4890 769h7M4850 866h7M4689 894h7M4729 930h7M4639 920h7M4681 908h7M4731 926h7M4694 906h7M4902 762h7M4714 977h7M4831 770h7M4896 842h7M4843 751h7M4791 901h7M4746 815h7M4706 827h7M4690 913h7M4671 885h7M4729 734h7M4727 790h7M4783 913h7M4929 717h7M4764 788h7M4903 791h7M4750 728h7M4829 882h7M4795 768h7M4698 979h7M4901 857h7M4651 959h7M4652 815h7M4895 794h7M4866 739h7M4668 923h7M4730 921h7M4794 754h7M4819 893h7M4900 819h7M4824 763h7M4905 844h7M4583 1013h7M4898 661h7M4684 908h7M4662 925h7M4916 702h7M4835 754h7M4735 788h7M4732 1001h7M4752 804h7M4606 1006h7M4824 756h7M4574 922h7M4684 926h7M4697 938h7M4726 808h7M4768 777h7M4891 806h7M4901 716h7M4868 716h7M4782 910h7M4982 674h7M4899 884h7M4756 952h7M4644 936h7M4704 924h7M4917 868h7M4886 789h7M4864 770h7M4836 758h7M4648 898h7M4613 813h7M4717 831h7M4831 896h7M4749 795h7M4799 751h7M4595 1012h7M4735 940h7M4859 732h7M4775 792h7M4640 999h7M4822 904h7M4747 931h7M4747 764h7M4796 784h7M4664 889h7M4740 760h7M4895 759h7M4902 837h7M4813 894h7M4719 991h7M4773 939h7M4736 801h7M4653 883h7M4808 907h7M4883 825h7M4791 714h7M4683 888h7M4674 941h7M4811 746h7M4901 823h7M5123 723h7M4885 822h7M4712 813h7M4721 799h7M4833 885h7M4696 965h7M4682 860h7M4857 891h7M4646 920h7M4659 860h7M4757 739h7M4743 919h7M4707 835h7M4841 870h7M4862 863h7M4851 741h7M4825 895h7M4886 819h7M4665 818h7M4844 741h7M4774 957h7M4803 895h7M4922 829h7M4764 785h7M4855 710h7M4726 923h7M4799 909h7M4682 927h7M4670 899h7M4632 918h7M4832 772h7M4909 869h7M4890 826h7M4667 884h7M4718 919h7M4904 758h7M4638 970h7M4869 840h7M4839 716h7M4843 753h7M4806 709h7M4873 928h7M4857 867h7M4742 772h7M4615 926h7M4864 753h7M5021 657h7M4908 855h7M4857 749h7M4689 944h7M4704 845h7M4803 909h7M4882 817h7M4668 899h7M4667 888h7M4788 942h7M4997 842h7M5045 633h7M4658 888h7M4864 695h7M4877 768h7M4864 756h7M4887 775h7M4781 959h7M4695 881h7M4838 757h7M4623 1006h7M4879 754h7M4870 713h7M4710 837h7M4851 893h7M4672 880h7M4794 925h7M4667 840h7M4798 908h7M4660 847h7M4587 925h7M4729 927h7M4863 899h7M4905 862h7M4633 938h7M4683 821h7M4781 783h7M4802 723h7M4881 776h7M4682 901h7M4913 659h7M4906 830h7M4876 846h7M4800 752h7M4785 759h7M4837 766h7M4672 932h7M4793 769h7M4800 902h7M4722 970h7M4660 872h7M4667 911h7M4798 909h7M4640 872h7M4845 703h7M4683 801h7M4675 873h7M4742 809h7M4861 861h7M4927 715h7M4900 761h7M4772 921h7M4801 752h7M4724 806h7M4874 833h7M4852 870h7M4657 964h7M4650 886h7M4695 1003h7M4882 848h7M4748 753h7M4725 833h7M4848 764h7M4888 791h7M4683 841h7M4801 760h7M4868 696h7M4868 747h7M4638 1013h7M4670 976h7M4681 893h7M4782 939h7M4932 682h7M4763 960h7M4863 710h7M4910 739h7M4795 755h7M4658 916h7M4622 909h7M4819 739h7M4829 898h7M4903 854h7M4614 900h7M4646 865h7M4634 937h7M4760 919h7M4737 821h7M4876 875h7M4673 882h7M4929 841h7M4837 736h7M4795 935h7M4665 1002h7M4793 783h7M4660 915h7M4581 976h7M4907 892h7M4888 760h7M4838 749h7M4874 760h7M4851 717h7M4784 791h7M4693 875h7M4648 912h7M4677 996h7M4767 916h7M4781 931h7M4911 730h7M4654 883h7M4799 921h7M4648 986h7M4806 775h7M4667 937h7M4637 949h7M4702 852h7M4701 859h7M4777 736h7M4667 881h7M4790 903h7M4704 791h7M4887 817h7M4725 924h7M4723 763h7M4663 841h7M4879 774h7M4760 789h7M4893 783h7M4689 823h7M4779 975h7M4704 828h7M4822 930h7M4680 835h7M4784 774h7M4569 961h7M4687 904h7M4691 885h7M4648 847h7M4839 750h7M4656 920h7M4683 858h7M4778 911h7M4768 912h7M4636 916h7M4736 945h7M4757 798h7M4641 886h7M4830 893h7M4935 878h7M4618 909h7M4805 781h7M4627 1001h7M4724 932h7M4852 759h7M4620 874h7M4628 877h7M4790 775h7M4889 719h7M4765 942h7M4658 912h7M4884 773h7M4906 862h7M4898 773h7M4893 775h7M4768 788h7M4926 848h7M4852 882h7M4871 771h7M4820 942h7M4808 769h7M4632 945h7M4783 783h7M4732 935h7M4708 960h7M4706 845h7M4744 920h7M4898 819h7M4873 774h7M4857 704h7M4840 887h7M4657 871h7M4732 816h7M4718 827h7M4714 814h7M4812 943h7M4606 991h7M4682 985h7M4821 898h7M4801 777h7M4872 734h7M4918 830h7M4818 752h7M4686 996h7M4926 701h7M4685 978h7M4694 895h7M4557 979h7M4838 745h7M4721 832h7M4799 974h7M4864 721h7M4852 859h7M4777 983h7M4795 776h7M4843 711h7M4706 819h7M4759 768h7M4853 756h7M4719 966h7M4625 909h7M4734 811h7M4645 939h7M4660 951h7M4853 769h7M4823 933h7M4670 974h7M4890 682h7M4893 776h7M4677 764h7M4840 658h7M4795 1002h7M4789 916h7M4736 814h7M4837 716h7M4675 917h7M4744 765h7M4799 771h7M4666 934h7M4781 927h7M4823 750h7M4897 832h7M4628 882h7M4810 773h7M4831 759h7M4620 881h7M4776 925h7M4712 829h7M4721 935h7M4676 846h7M4895 780h7M4810 892h7M4672 885h7M4902 742h7M4874 849h7M4743 790h7M4679 916h7M4748 798h7M4801 761h7M4648 872h7M4681 873h7M4905 763h7M4656 879h7M4693 887h7M4854 757h7M4811 890h7M4813 903h7M4882 831h7M4867 875h7M4695 727h7M4755 758h7M4652 969h7M4779 937h7M4903 872h7M4838 871h7M4703 1014h7M4632 935h7M4722 766h7M4689 939h7M4903 726h7M4667 955h7M5002 693h7M4757 957h7M4907 748h7M4754 979h7M4677 947h7M4759 915h7M4754 960h7M4719 943h7M4809 908h7M4662 926h7M4648 930h7M4743 968h7M4708 830h7M4666 939h7M4790 764h7M4873 717h7M4689 886h7M4888 896h7M4882 843h7M4870 839h7M4758 730h7M4783 786h7M4856 733h7M4795 905h7M4849 891h7M4852 884h7M4874 755h7M4761 798h7M4714 795h7M4729 788h7M4790 775h7M4650 954h7M4822 731h7M4685 983h7M4746 948h7M4693 903h7M4725 826h7M4860 750h7M4816 771h7M4692 816h7M4875 921h7M4646 809h7M4864 738h7M4739 948h7M4904 859h7M4639 929h7M4921 709h7M4814 900h7M4590 917h7M4640 919h7M4702 795h7M4773 777h7M4767 920h7M4721 819h7M4820 947h7M4719 924h7M4813 766h7M4900 789h7M4838 722h7M4871 731h7M4678 872h7M4679 935h7M4875 867h7M4609 959h7M4722 921h7M4916 738h7M4599 918h7M4683 948h7M4850 736h7M4851 895h7M4900 889h7M4880 693h7M5034 663h7M4986 680h7M4927 843h7M4988 695h7M5104 789h7M5151 779h7M5015 624h7M4870 729h7M4941 709h7M5074 743h7M5083 856h7M4858 680h7M5100 796h7M4924 704h7M4833 699h7M5015 829h7M4843 745h7M4883 716h7M4972 896h7M5107 663h7M4877 770h7M5087 655h7M4889 746h7M4885 787h7M5044 831h7M5133 659h7M5016 692h7M5011 674h7M4904 688h7M4962 897h7M4899 894h7M5052 818h7M4828 883h7M5022 686h7M4850 875h7M4891 869h7M5032 662h7M5021 700h7M4922 702h7M4950 848h7M5040 886h7M5055 809h7M4924 907h7M5091 734h7M4928 859h7M4903 829h7M4868 764h7M4867 766h7M4889 734h7M5167 729h7M4965 635h7M4818 763h7M4912 833h7M4948 677h7M4967 648h7M5031 674h7M4932 840h7M5112 721h7M5109 746h7M4937 841h7M5141 761h7M4896 748h7M4950 661h7M4979 868h7M5090 783h7M5069 694h7M4969 650h7M5037 866h7M5116 818h7M5075 703h7M5047 793h7M4881 715h7M4949 848h7M5128 686h7M5008 853h7M4823 769h7M4965 845h7M5061 679h7M4900 834h7M4873 751h7M4979 860h7M4872 756h7M4939 857h7M4911 813h7M5010 692h7M4874 896h7M5019 695h7M5019 678h7M5135 717h7M4982 875h7M5084 769h7M4911 742h7M5156 769h7M5073 765h7M5004 833h7M4980 861h7M4901 726h7M5061 830h7M5068 754h7M5041 821h7M4901 741h7M4913 829h7M4975 882h7M4889 828h7M4903 679h7M4907 706h7M4839 705h7M5065 744h7M5098 716h7M4910 625h7M4878 835h7M4904 731h7M4878 697h7M5071 884h7M5122 747h7M4987 658h7M4892 760h7M4896 686h7M4919 736h7M5058 827h7M4909 737h7M5054 669h7M5056 591h7M4881 717h7M5115 856h7M5040 805h7M4846 868h7M5088 682h7M5020 838h7M5116 791h7M5054 900h7M4927 857h7M4988 840h7M4992 848h7M5026 679h7M4891 815h7M5111 755h7M5089 893h7M4983 690h7M4943 849h7M4896 773h7M5053 825h7M5091 784h7M4900 867h7M4979 946h7M5057 665h7M4968 861h7M4904 757h7M4943 846h7M4906 750h7M4984 697h7M4850 745h7M5007 694h7M5137 786h7M5055 667h7M5038 826h7M5042 804h7M5095 650h7M4969 697h7M4916 866h7M5036 811h7M5054 699h7M5093 698h7M4921 706h7M4920 893h7M4886 712h7M4916 649h7M5178 723h7M5079 770h7M4979 693h7M4903 767h7M5045 817h7M5029 843h7M5048 715h7M4930 718h7M5052 807h7M5098 787h7M5163 643h7M5087 774h7M4898 793h7M5094 747h7M5015 921h7M5035 686h7M5018 694h7M4961 692h7M5051 817h7M5186 734h7M4973 852h7M4946 898h7M5096 723h7M5002 873h7M5056 819h7M5036 842h7M4990 884h7M5057 739h7M5072 834h7M5017 652h7M5172 703h7M4971 885h7M4887 757h7M5064 722h7M5022 898h7M4792 752h7M4927 911h7M4992 841h7M4900 784h7M4947 845h7M5056 678h7M4897 744h7M4927 856h7M4951 634h7M4927 720h7M4913 863h7M5096 755h7M4910 748h7M5118 784h7M4884 767h7M5064 813h7M5056 754h7M4925 901h7M5095 777h7M4942 868h7M4896 759h7M5103 703h7M5097 706h7M5081 874h7M4865 758h7M5113 734h7M5068 671h7M5070 738h7M4969 888h7M4952 846h7M4914 854h7M4893 813h7M4939 879h7M4903 795h7M5006 674h7M5036 813h7M5077 816h7M5025 836h7M5038 667h7M5027 861h7M5102 705h7M5032 697h7M5051 698h7M4999 852h7M5010 699h7M5028 657h7M4985 870h7M4850 771h7M5079 783h7M5038 710h7M5118 797h7M5013 662h7M4934 638h7M4993 871h7M5046 675h7M4953 688h7M5001 844h7M5029 843h7M5017 672h7M4977 863h7M5102 699h7M4890 881h7M4905 736h7M5126 774h7M4976 693h7M5109 821h7M5007 890h7M5055 743h7M5087 782h7M5060 745h7M5067 743h7M5092 752h7M4970 671h7M5080 645h7M5015 893h7M4982 863h7M5103 789h7M5141 745h7M4942 695h7M4934 858h7M5125 684h7M4800 714h7M4936 687h7M5077 770h7M4934 688h7M4925 833h7M5009 836h7M4905 837h7M4866 742h7M5109 676h7M4955 607h7M5031 648h7M5146 703h7M5130 803h7M4931 707h7M4886 803h7M4910 721h7M4919 895h7M5043 806h7M5058 796h7M5038 687h7M5132 704h7M5062 713h7M4876 772h7M4930 897h7M5067 771h7M5044 811h7M5070 672h7M5121 783h7M4919 835h7M4983 851h7M4906 747h7M4986 846h7M5148 633h7M4975 867h7M4922 683h7M5058 816h7M4968 680h7M5128 787h7M5081 681h7M5058 732h7M4885 776h7M5098 710h7M5084 712h7M5081 715h7M5021 844h7M4972 865h7M4990 646h7M5059 778h7M5084 753h7M4952 848h7M5039 813h7M4975 648h7M4994 668h7M4925 691h7M4975 694h7M4880 717h7M4860 862h7M5029 883h7M5056 860h7M5087 644h7M5091 770h7M4950 915h7M5128 767h7M4994 668h7M5113 738h7M5057 666h7M4874 764h7M4863 897h7M4999 843h7M5035 695h7M5066 709h7M4876 750h7M4919 719h7M4883 759h7M5009 858h7M4929 697h7M4896 746h7M4888 699h7M5057 624h7M5095 789h7M4952 641h7M5054 862h7M4893 834h7M4941 838h7M5116 662h7M4824 766h7M5044 716h7M5118 665h7M5146 804h7M5072 761h7M5087 730h7M4870 900h7M4915 905h7M4993 665h7M5075 820h7M5087 771h7M4911 745h7M4919 831h7M4945 707h7M5065 707h7M4934 880h7M4905 724h7M5061 768h7M4844 762h7M4922 703h7M5070 675h7M4964 847h7M4905 761h7M4932 694h7M5024 697h7M4940 709h7M5048 710h7M4894 709h7M4932 714h7M4907 887h7M4880 780h7M5093 792h7M4942 714h7M4910 693h7M5007 903h7M5065 651h7M4979 673h7M4995 648h7M4926 729h7M5073 721h7M4998 627h7M5049 797h7M4788 767h7M5035 628h7M5074 663h7M4997 960h7M4886 808h7M4841 748h7M4910 866h7M4921 635h7M5033 816h7M5105 724h7M4898 754h7M5044 810h7M4958 692h7M5009 831h7M4999 693h7M4950 702h7M4916 740h7M5054 729h7M4930 708h7M4845 922h7M4997 620h7M4904 777h7M4856 744h7M5102 672h7M5015 866h7M5009 835h7M5056 916h7M5103 618h7M5073 752h7M4942 883h7M4879 921h7M4929 653h7M4884 789h7M5095 730h7M4935 925h7M4945 594h7M5136 626h7M5123 792h7M4817 722h7M5159 797h7M5108 660h7M5004 848h7M5095 770h7M5089 668h7M4877 848h7M5064 715h7M5057 755h7M5001 661h7M4878 847h7M5134 568h7M5093 693h7M4877 719h7M4938 894h7M4909 812h7M4976 856h7M5059 790h7M5021 929h7M4921 881h7M5136 774h7M5035 575h7M5172 788h7M4969 896h7M4866 863h7M5103 645h7M5055 667h7M5018 692h7M5047 675h7M4889 633h7M4946 704h7M4872 836h7M4884 700h7M5144 704h7M5084 780h7M4954 895h7M5003 651h7M4949 632h7M4880 697h7M5056 802h7M5017 839h7M5043 701h7M4946 710h7M5048 715h7M5089 636h7M4910 754h7M4976 846h7M5014 583h7M5067 671h7M5031 868h7M4985 665h7M4871 754h7M5083 729h7M4940 707h7M5117 803h7M5024 907h7M4905 801h7M4846 765h7M5099 787h7M4946 896h7M5042 815h7M4992 689h7M4891 858h7M4952 892h7M5013 697h7M5067 722h7M5044 597h7M4920 846h7M5066 737h7M5020 659h7M4997 847h7M5084 773h7M5032 816h7M4877 722h7M5072 819h7M4871 762h7M4955 843h7M4989 673h7M5007 670h7M4930 723h7M5026 892h7M4926 908h7M5052 702h7M4972 855h7M5099 718h7M4906 646h7M4942 697h7M4888 810h7M5078 763h7M4894 818h7M4897 701h7M4919 863h7M4898 879h7M5057 707h7M4995 695h7M4970 630h7M4916 700h7M5118 720h7M5113 796h7M4969 899h7M4930 856h7M4896 712h7M5027 659h7M5001 630h7M5002 850h7M4900 845h7M4856 742h7M4888 742h7M5025 867h7M4940 705h7M4975 672h7M4942 861h7M4998 688h7M5000 602h7M5042 641h7M5069 747h7M5042 699h7M4913 852h7M5080 751h7M5050 794h7M5029 839h7M4969 861h7M5069 759h7M4919 604h7M5005 925h7M4896 761h7M4936 703h7M5004 684h7M5083 697h7M4969 662h7M4915 821h7M4882 694h7M5033 824h7M5034 877h7M5047 692h7M4878 768h7M5076 788h7M5108 810h7M4901 874h7M4912 730h7M4905 725h7M5017 871h7M4904 763h7M4860 748h7M5089 788h7M5131 800h7M4892 757h7M5079 816h7M4976 878h7M5139 763h7M5049 712h7M4922 826h7M4905 763h7M5151 690h7M4990 858h7M4991 839h7M4877 852h7M5053 717h7M5017 846h7M5000 567h7M4938 859h7M4850 767h7M5082 832h7M5022 664h7M4861 768h7M5121 667h7M5066 747h7M4905 778h7M4983 663h7M5031 696h7M4983 672h7M4874 746h7M4952 881h7M4919 828h7M5094 753h7M5064 829h7M4937 857h7M4958 872h7M5056 727h7M5095 715h7M4921 844h7M5023 668h7M4949 872h7M4938 866h7M4909 822h7M4943 935h7M5116 704h7M5088 719h7M4896 873h7M5112 775h7M5002 918h7M4871 744h7M4934 883h7M4970 868h7M5049 692h7M5090 742h7M4884 821h7M5104 778h7M4914 866h7M4891 796h7M5044 801h7M5018 672h7M5006 685h7M4907 703h7M4917 714h7M4904 782h7M5144 772h7M4966 859h7M5016 901h7M5027 693h7M4997 860h7M5020 881h7M5071 758h7M4994 695h7M5095 705h7M5040 807h7M4916 684h7M5063 720h7M4876 838h7M5029 823h7M5025 878h7M5152 809h7M5073 784h7M5019 609h7M5099 675h7M5010 855h7M5038 658h7M5073 727h7M5054 703h7M5080 951h7M4870 850h7M4881 905h7M5132 669h7M5140 685h7M5005 846h7M5038 685h7M5020 655h7M4840 888h7M5062 843h7M5151 745h7M5088 876h7M5071 730h7M4909 667h7M4897 831h7M4982 862h7M4950 700h7M4900 872h7M5269 435h7M5227 383h7M5361 412h7M5182 447h7M5232 402h7M5315 407h7M5317 397h7M5282 396h7M5242 399h7M5240 424h7M5337 458h7M5248 418h7M5311 463h7M5279 401h7M5324 419h7M5306 434h7M5190 455h7M5245 470h7M5358 336h7M5316 404h7M5307 416h7M5385 436h7M5283 402h7M5330 399h7M5468 346h7M5525 344h7M5289 420h7M5273 441h7M5273 479h7M5198 432h7M5210 444h7M5171 422h7M5340 412h7M5257 456h7M5367 425h7M5346 433h7M5310 447h7M5332 374h7M5213 435h7M5326 379h7M5295 387h7M5232 395h7M5432 392h7M5256 508h7M5351 388h7M5333 427h7M5311 459h7M5363 384h7M5281 457h7M5267 403h7M5261 392h7M5324 420h7M5292 432h7M5305 449h7M5350 406h7M5324 438h7M5231 409h7M5319 404h7M5223 413h7M5376 399h7M5268 423h7M5223 417h7M5268 463h7M5261 451h7M5370 434h7M5305 389h7M5370 389h7M5234 406h7M5379 390h7M5177 415h7M5101 460h7M5234 418h7M5286 432h7M5366 383h7M5213 377h7M5319 371h7M5268 432h7M5364 416h7M5242 421h7M5278 434h7M5325 406h7M5405 415h7M5307 445h7M5204 472h7M5304 417h7M5256 444h7M5376 431h7M5335 381h7M5315 387h7M5249 480h7M5211 398h7M5287 417h7M5302 414h7M5316 432h7M5250 421h7M5276 429h7M5333 424h7M5279 404h7M5231 393h7M5237 443h7M5379 460h7M5300 374h7M5377 454h7M5344 414h7M5511 364h7M5295 401h7M5382 406h7M5351 417h7M5262 440h7M5333 436h7M5420 368h7M5397 425h7M5256 418h7M5325 432h7M5215 445h7M5250 380h7M5270 411h7M5238 409h7M5287 422h7M5356 410h7M5359 374h7M5486 386h7M5208 426h7M5213 477h7M5455 366h7M5243 423h7M5266 448h7M5327 369h7M5369 425h7M5324 370h7M5392 397h7M5262 430h7M5177 399h7M5336 400h7M5310 404h7M5288 419h7M5214 452h7M5219 388h7M5189 397h7M5374 372h7M5232 408h7M5282 483h7M5293 385h7M5384 476h7M5256 385h7M5381 430h7M5314 438h7M5286 398h7M5292 406h7M5300 468h7M5220 448h7M5309 462h7M5274 443h7M5191 405h7M5288 410h7M5242 461h7M5403 384h7M5274 467h7M5286 481h7M5298 426h7M5148 440h7M5292 338h7M5191 418h7M5346 411h7M5328 390h7M5348 409h7M5333 391h7M5272 410h7M5261 456h7M5294 433h7M5152 457h7M5344 394h7M5215 393h7M5297 415h7M5320 409h7M5490 416h7M5252 416h7M5266 395h7M5227 447h7M5311 383h7M5369 410h7M5401 417h7M5351 408h7M5172 460h7M5363 401h7M5328 403h7M5255 400h7M5282 416h7M5229 432h7M5335 392h7M5253 433h7M5436 437h7M5339 439h7M5282 443h7M5258 429h7M5254 423h7M5307 419h7M5230 449h7M5299 406h7M5392 366h7M5175 480h7M5330 393h7M5396 407h7M5307 443h7M5259 424h7M5362 423h7M5378 364h7M5242 390h7M5318 416h7M5321 432h7M5273 426h7M5302 433h7M5369 376h7M5277 405h7M5428 393h7M5335 363h7M5293 431h7M5238 436h7M5269 428h7M5239 416h7M5384 425h7M5318 448h7M5294 405h7M5290 423h7M5235 415h7M5385 466h7M5411 402h7M5375 432h7M5312 425h7M5352 410h7M5286 430h7M5315 440h7M5259 413h7M5430 424h7M5238 413h7M5277 408h7M5279 420h7M5281 433h7M5260 421h7M5373 427h7M5255 409h7M5454 400h7M5318 430h7M5357 434h7M5367 402h7M5223 401h7M5386 393h7M5337 373h7M5258 475h7M5334 440h7M5270 428h7M5317 428h7M5381 376h7M5346 433h7M5234 423h7M5318 396h7M5281 458h7M5287 470h7M5308 411h7M5359 398h7M5304 413h7M5384 433h7M5265 401h7M5233 450h7M5274 439h7M5255 403h7M5167 441h7M5318 415h7M5309 399h7M5261 398h7M5323 440h7M5341 446h7M5283 439h7M5381 415h7M5239 443h7M5291 385h7M5373 441h7M5262 374h7M5373 385h7M5324 382h7M5277 478h7M5218 432h7M5231 419h7M5301 467h7M5245 422h7M5289 410h7M5263 409h7M5315 439h7M5304 452h7M5286 396h7M5265 410h7M5320 405h7M5260 421h7M5200 400h7M5343 403h7M5359 459h7M5274 447h7M5302 417h7M5310 393h7M5341 435h7M5255 473h7M5286 470h7M5258 384h7M5246 388h7M5307 425h7M5197 461h7M5246 437h7M5369 364h7M5300 420h7M5305 394h7M5236 448h7M5336 422h7M5249 406h7M5309 455h7M5296 450h7M5265 433h7M5270 410h7M5326 395h7M5270 422h7M5187 445h7M5323 402h7M5249 425h7M5183 512h7M5335 416h7M5313 402h7M5288 422h7M5276 438h7M5348 411h7M5279 385h7M5195 481h7M5232 459h7M5383 376h7M5229 391h7M5276 383h7M5272 482h7M5304 468h7M5395 366h7M5364 419h7M5258 412h7M5297 423h7M5309 414h7M5353 465h7M5316 400h7M5300 454h7M5298 417h7M5346 460h7M5291 411h7M5280 422h7M5208 474h7M5235 409h7M5328 446h7M5242 438h7M5292 426h7M5253 457h7M5344 432h7M5404 371h7M5322 397h7M5234 438h7M5248 460h7M5428 377h7M5283 415h7M5207 458h7M5278 444h7M5317 448h7M5236 431h7M5169 481h7M5249 408h7M5286 462h7M5253 457h7M5334 391h7M5283 453h7M5341 476h7M5271 446h7M5317 430h7M5306 418h7M5151 419h7M5227 450h7M5341 398h7M5420 417h7M5303 423h7M5405 376h7M5334 426h7M5351 425h7M5210 455h7M5259 427h7M5279 435h7M5261 430h7M5334 426h7M5255 443h7M5283 436h7M5377 397h7M5282 449h7M5273 419h7M5251 409h7M5339 410h7M5275 457h7M5301 418h7M5164 441h7M5285 455h7M5278 376h7M5282 422h7M5330 372h7M5303 441h7M5366 420h7M5370 396h7M5275 402h7M5227 450h7M5344 435h7M5159 423h7M5227 457h7M5344 375h7M5290 447h7M5334 399h7M5243 459h7M5306 441h7M5317 428h7M5412 435h7M5368 384h7M5289 421h7M5255 459h7M5267 428h7M5215 458h7M5272 407h7M5343 377h7M5328 387h7M5135 391h7M5323 392h7M5238 442h7M5246 451h7M5359 416h7M5298 417h7M5327 434h7M5293 434h7M5384 391h7M5281 438h7M5406 403h7M5453 424h7M5293 432h7M5211 401h7M5372 416h7M5262 394h7M5342 387h7M5219 395h7M5196 403h7M5294 423h7M5337 403h7M5314 426h7M5336 428h7M5332 381h7M5270 489h7M5318 406h7M5207 424h7M5335 442h7M5283 427h7M5214 422h7M5307 430h7M5326 445h7M5325 443h7M5300 422h7M5391 457h7M5285 396h7M5277 400h7M5394 390h7M5214 434h7M5268 458h7M5344 425h7M5315 443h7M5257 396h7M5285 416h7M5211 480h7M5350 427h7M5284 422h7M5216 482h7M5248 451h7M5223 438h7M5331 436h7M5350 416h7M5230 401h7M5477 376h7M5277 409h7M5393 431h7M5325 439h7M5233 433h7M5265 473h7M5295 456h7M5261 410h7M5374 394h7M5321 463h7M5318 453h7M5385 401h7M5356 449h7M5317 406h7M5313 371h7M5248 385h7M5285 457h7M5296 419h7M5190 464h7M5406 399h7M5312 461h7M5295 446h7M5268 434h7M5359 440h7M5269 429h7M5256 395h7M5335 428h7M5351 428h7M5357 372h7M5297 435h7M5382 453h7M5365 418h7M5232 467h7M5416 377h7M5240 493h7M5217 388h7M5322 426h7M5221 417h7M5185 453h7M5342 399h7M5387 442h7M5267 470h7M5357 419h7M5402 362h7M5359 439h7M5294 394h7M5261 406h7M5299 406h7M5327 403h7M5245 450h7M5277 447h7M5417 436h7M5276 409h7M5295 473h7M5249 447h7M5278 413h7M5318 397h7M5381 394h7M5289 398h7M5302 464h7M5275 428h7M5315 420h7M5269 460h7M5346 450h7M5432 394h7M5283 441h7M5250 432h7M5227 430h7M5402 456h7M5318 328h7M5273 422h7M5330 459h7M5349 439h7M5262 403h7M5313 451h7M5347 448h7M5295 426h7M5337 446h7M5265 387h7M5359 425h7M5282 459h7M5273 359h7M5295 455h7M5082 480h7M5324 416h7M5240 351h7M5043 502h7M5331 488h7M5218 437h7M5289 481h7M5290 399h7M5293 406h7M5386 290h7M5300 439h7M5048 494h7M5311 400h7M5306 349h7M5055 516h7M5074 472h7M5119 524h7M5147 478h7M5121 505h7M5148 556h7M5293 413h7M5429 436h7M5172 485h7M5000 598h7M5382 410h7M5066 481h7M5104 462h7M5138 494h7M5261 467h7M5164 460h7M5273 394h7M5335 436h7M5199 448h7M5126 489h7M5204 533h7M5338 455h7M5258 395h7M5419 349h7M5298 437h7M5227 433h7M5246 428h7M5317 480h7M5203 424h7M5198 469h7M5202 406h7M5142 448h7M5299 441h7M5120 471h7M5313 456h7M5258 398h7M5240 425h7M5326 378h7M5332 454h7M5291 406h7M5372 395h7M5379 312h7M5230 463h7M5177 438h7M5188 427h7M5186 430h7M5290 379h7M5229 447h7M5279 407h7M5222 542h7M5384 364h7M5131 503h7M5150 495h7M5108 473h7M5263 486h7M5246 475h7M5324 438h7M5234 407h7M5249 384h7M5285 453h7M5295 486h7M5244 437h7M5276 441h7M5133 526h7M5245 444h7M5236 396h7M5364 403h7M5161 494h7M5176 455h7M5085 528h7M5161 509h7M5185 441h7M5246 505h7M5235 446h7M5350 343h7M5020 500h7M5222 372h7M5123 506h7M5357 476h7M5475 397h7M5285 370h7M5314 419h7M5205 414h7M5115 495h7M5329 353h7M5155 455h7M5118 511h7M5318 485h7M5211 483h7M5263 454h7M5293 381h7M5164 480h7M5076 494h7M5328 432h7M5277 513h7M5287 440h7M5269 434h7M5128 527h7M5255 464h7M5333 328h7M5327 412h7M5312 472h7M5050 488h7M5013 472h7M5249 521h7M5412 394h7M5330 415h7M5187 467h7M5288 393h7M5356 389h7M5358 407h7M5253 377h7M5194 473h7M5316 369h7M5306 435h7M5201 351h7M5248 403h7M5327 390h7M5142 463h7M5216 431h7M5215 411h7M5026 511h7M5291 501h7M5175 431h7M5105 440h7M5209 414h7M5282 311h7M5380 402h7M5290 400h7M5225 386h7M5128 554h7M5367 475h7M5250 427h7M5239 406h7M5303 447h7M5381 413h7M5308 411h7M5314 404h7M5295 503h7M5260 418h7M5076 535h7M5143 417h7M5029 517h7M5226 475h7M5076 482h7M5149 420h7M5256 491h7M5277 468h7M5076 463h7M5245 391h7M5090 512h7M5152 494h7M5136 487h7M5399 467h7M5264 387h7M5292 341h7M5461 441h7M5276 436h7M5219 455h7M5378 335h7M5308 395h7M5096 588h7M5145 438h7M5210 466h7M5037 558h7M5233 423h7M5184 465h7M5289 398h7M5228 404h7M5105 539h7M5240 457h7M5208 458h7M5080 491h7M5317 458h7M5311 397h7M5180 518h7M5217 427h7M5114 503h7M5177 438h7M5269 484h7M5296 382h7M5385 399h7M5178 474h7M5168 386h7M5245 460h7M5250 479h7M5403 350h7M5062 540h7M5107 540h7M5091 529h7M5092 551h7M5010 513h7M5082 541h7M5096 527h7M5076 571h7M5099 448h7M5149 445h7M5120 509h7M5099 504h7M5202 395h7M5059 515h7M5205 558h7M5030 610h7M5109 495h7M5149 481h7M4915 519h7M5143 513h7M4972 648h7M5055 535h7M4963 569h7M5258 396h7M5160 431h7M5230 422h7M4969 552h7M4967 612h7M5107 454h7M5259 457h7M5153 446h7M5073 547h7M5128 526h7M5200 427h7M5230 433h7M5309 473h7M4972 565h7M5072 586h7M5050 494h7M5263 396h7M5036 620h7M5101 530h7M5147 528h7M5095 598h7M5001 497h7M4999 498h7M5039 564h7M5152 564h7M5070 527h7M5074 569h7M5073 608h7M5140 449h7M5168 479h7M5233 525h7M5189 503h7M5218 493h7M5099 542h7M5228 427h7M5092 501h7M5146 517h7M4859 615h7M5118 476h7M5067 524h7M5151 571h7M5089 499h7M5192 423h7M5074 482h7M5124 418h7M5196 552h7M5231 424h7M4827 703h7M4905 558h7M5220 425h7M5191 386h7M5006 591h7M5126 495h7M5112 517h7M5022 586h7M5078 579h7M5157 542h7M4996 621h7M5013 597h7M5175 421h7M5156 577h7M4898 636h7M5122 586h7M4998 619h7M5207 497h7M5191 471h7M5079 511h7M5052 612h7M4987 516h7M5039 566h7M5071 564h7M5096 513h7M5094 583h7M5084 523h7M5111 429h7M5035 631h7M5287 479h7M5143 556h7M4908 623h7M5272 424h7M4981 601h7M5024 655h7M5066 500h7M4930 624h7M5296 415h7M5244 466h7M5215 497h7M4972 527h7M5043 563h7M5183 542h7M5243 448h7M5025 580h7M5440 409h7M5273 402h7M5122 466h7M5037 469h7M5201 527h7M5044 507h7M5141 516h7M5176 522h7M5029 550h7M4916 523h7M5059 562h7M5061 584h7M5029 643h7M5017 639h7M5002 617h7M5030 458h7M5133 577h7M5137 467h7M5095 558h7M5276 460h7M5096 578h7M5137 463h7M5112 447h7M4999 614h7M5183 490h7M5347 490h7M5110 499h7M5076 487h7M5098 486h7M5139 541h7M5064 538h7M5032 608h7M5111 501h7M5028 571h7M5055 542h7M5174 509h7M5188 521h7M5148 574h7M5167 438h7M5199 479h7M5160 464h7M5185 437h7M5013 527h7M5048 551h7M5196 467h7M5078 494h7M5157 567h7M5185 472h7M5009 568h7M5159 605h7M5196 421h7M5095 541h7M5391 513h7M5269 427h7M5183 518h7M5150 497h7M5081 620h7M5160 523h7M5099 525h7M5181 484h7M5115 516h7M5040 518h7M5355 386h7M5200 455h7M5151 381h7M5138 527h7M4916 600h7M4992 542h7M4853 587h7M5133 546h7M5078 572h7M5118 572h7M5061 557h7M5110 476h7M5145 444h7M5051 586h7M5160 446h7M4950 685h7M4987 592h7M5081 610h7M5176 440h7M5042 505h7M5085 563h7M5141 575h7M5072 570h7M5269 406h7M5070 483h7M5141 565h7M5267 456h7M5117 471h7M5129 375h7M5088 553h7M5210 410h7M5269 388h7M4983 665h7M5234 435h7M5051 558h7M5103 524h7M5219 512h7M5180 412h7M5129 555h7M4906 740h7M5161 517h7M5075 573h7M5176 470h7M4981 598h7M5106 554h7M5274 302h7M5118 480h7M5247 441h7M5186 468h7M5284 355h7M4934 573h7M5151 464h7M5058 460h7M5093 528h7M5215 419h7M5089 511h7M5125 555h7M5256 451h7M4995 624h7M5078 571h7M4967 529h7M5225 427h7M5121 582h7M5233 464h7M5237 407h7M5055 560h7M5045 570h7M5031 536h7M5180 473h7M5074 529h7M4970 650h7M4879 547h7M5051 476h7M5035 484h7M5309 406h7M4952 630h7M5247 446h7M5114 555h7M5288 477h7M4995 500h7M5111 544h7M5225 450h7M5034 478h7M5130 555h7M5016 659h7M5308 470h7M5118 530h7M4946 569h7M5179 469h7M5154 480h7M5017 629h7M5167 585h7M5035 510h7M5271 492h7M4986 582h7M5015 571h7M4920 606h7M5229 460h7M5022 550h7M5074 573h7M5238 414h7M5324 278h7M5008 505h7M5115 398h7M5129 618h7M5330 415h7M5075 611h7M5009 535h7M5151 586h7M5223 517h7M5174 509h7M5145 595h7M5039 500h7M5058 555h7M5277 454h7M5007 603h7M5296 418h7M4890 641h7M4997 620h7M5071 616h7M4970 532h7M5177 578h7M5116 445h7M5049 585h7M5033 544h7M4958 570h7M5142 464h7M5330 458h7M5013 575h7M4968 668h7M5218 401h7M5346 379h7M5214 550h7M5011 445h7M5162 496h7M5079 478h7M5205 547h7M5087 526h7M4924 643h7M5290 497h7M4937 622h7M5061 593h7M5036 493h7M5064 567h7M5102 540h7M5166 435h7M5273 420h7M5129 503h7M5111 503h7M5235 469h7M5089 573h7M5068 609h7M5043 579h7M5144 496h7M5129 437h7M5107 513h7M4900 640h7M5103 571h7M5248 451h7M5017 531h7M4935 648h7M5181 526h7M5261 461h7M5025 495h7M5086 527h7M5288 521h7M5036 613h7M5212 428h7M5281 463h7M5012 479h7M5196 585h7M5135 569h7M5211 523h7M5077 510h7M5137 576h7M5163 472h7M5098 558h7M4904 596h7M4942 662h7M5046 550h7M4950 613h7M5164 474h7M5054 547h7M5095 590h7M5061 438h7M5094 550h7M5333 359h7M5240 451h7M5195 424h7M5237 466h7M5084 410h7M5008 536h7M5237 433h7M5252 420h7M5149 553h7M5017 607h7M4977 529h7M5293 398h7M5166 488h7M5216 437h7M4972 607h7M5042 652h7M5083 746h7M5023 612h7M4925 681h7M5097 581h7M4937 456h7M5067 630h7M4850 756h7M5160 717h7M5073 616h7M5060 737h7M4865 707h7M5019 693h7M4941 659h7M4966 862h7M4967 676h7M5082 639h7M5004 669h7M4919 703h7M5066 677h7M4963 638h7M5015 663h7M5078 494h7M5067 624h7M4862 663h7M5174 604h7M4979 662h7M4982 659h7M5056 679h7M4995 664h7M5079 506h7M5082 576h7M4976 639h7M5032 657h7M5105 507h7M4920 597h7M4996 661h7M4894 516h7M5127 671h7M5080 548h7M4938 600h7M4897 774h7M5053 791h7M5011 644h7M5082 659h7M4987 635h7M5115 683h7M5147 561h7M5001 656h7M5044 652h7M4973 627h7M4889 684h7M5016 654h7M4970 597h7M5190 615h7M5056 617h7M5087 522h7M5099 792h7M5018 696h7M4982 693h7M5110 762h7M4938 653h7M5127 618h7M5100 444h7M4884 770h7M5151 622h7M4973 620h7M5021 609h7M5033 589h7M5040 667h7M5055 746h7M5043 586h7M4973 567h7M5020 596h7M4879 781h7M4971 657h7M5179 617h7M4984 654h7M5019 693h7M5151 580h7M5099 725h7M5012 601h7M5113 662h7M5138 628h7M5017 517h7M5028 685h7M5085 640h7M4986 611h7M4969 657h7M5127 672h7M5095 768h7M5055 702h7M4908 827h7M5038 649h7M5056 611h7M5062 691h7M4978 560h7M4908 618h7M5108 751h7M4962 582h7M5200 613h7M4860 695h7M4924 712h7M4970 589h7M4978 670h7M4937 600h7M5112 648h7M5014 593h7M5013 626h7M5062 692h7M5061 659h7M5067 682h7M5262 738h7M4920 614h7M5168 762h7M4941 696h7M4877 744h7M4970 688h7M5066 641h7M4977 608h7M4947 711h7M4965 548h7M5125 496h7M5079 617h7M5073 738h7M5039 675h7M5045 613h7M5124 717h7M4949 616h7M4892 594h7M5152 743h7M5079 601h7M5093 537h7M5158 567h7M5049 721h7M5221 631h7M4918 717h7M5104 652h7M5088 641h7M5139 704h7M5002 686h7M4978 537h7M4906 845h7M5079 705h7M4962 671h7M5161 616h7M4872 690h7M5033 608h7M4965 640h7M4878 728h7M5069 832h7M5063 656h7M4971 690h7M5153 555h7M5043 583h7M5104 730h7M5105 654h7M5178 635h7M4895 653h7M4902 608h7M5068 605h7M5050 694h7M4894 639h7M5093 642h7M4944 613h7M5176 550h7M4897 692h7M5125 719h7M4910 713h7M5100 581h7M5115 710h7M5002 605h7M5113 641h7M5018 648h7M5061 501h7M4974 650h7M4882 653h7M5084 627h7M4849 866h7M5071 566h7M5033 620h7M5138 557h7M5036 649h7M5060 536h7M5240 655h7M5075 585h7M4978 650h7M4921 499h7M5038 630h7M5055 679h7M4982 603h7M4901 674h7M5006 664h7M5105 687h7M5120 675h7M4950 611h7M4887 748h7M5009 690h7M4927 594h7M5065 640h7M5038 658h7M5042 631h7M4970 673h7M4954 697h7M4885 867h7M5030 577h7M5065 668h7M5015 642h7M5004 653h7M4866 684h7M5228 711h7M4947 543h7M4962 517h7M5034 519h7M5008 659h7M5026 631h7M5126 619h7M5040 539h7M5105 550h7M5000 620h7M5071 608h7M5035 497h7M5013 647h7M5033 651h7M5074 709h7M4955 638h7M5061 572h7M5082 614h7M4942 856h7M5066 740h7M5106 633h7M5132 577h7M5113 738h7M4892 721h7M5007 622h7M5054 673h7M4974 617h7M4993 857h7M5169 666h7M5105 726h7M5143 608h7M5040 600h7M5128 545h7M5040 691h7M4992 526h7M4975 696h7M5064 755h7M4940 641h7M4954 569h7M5156 550h7M5054 675h7M5024 649h7M5039 487h7M4975 661h7M5218 648h7M5055 559h7M5001 523h7M4893 897h7M5098 707h7M5141 630h7M4987 680h7M4956 671h7M5032 690h7M5011 571h7M5044 616h7M4844 746h7M5009 616h7M5122 716h7M5007 630h7M4986 532h7M5097 597h7M5052 610h7M5127 565h7M5173 473h7M5055 724h7M4915 819h7M4982 688h7M5104 760h7M5007 654h7M5058 696h7M4945 694h7M4892 653h7M5131 631h7M5039 668h7M5112 667h7M5000 681h7M4985 531h7M5073 606h7M5032 626h7M4990 629h7M4983 600h7M4902 680h7M5093 679h7M5107 594h7M5095 659h7M5058 653h7M5045 601h7M5081 688h7M5022 672h7M5100 562h7M5017 641h7M4947 681h7M4928 494h7M5070 601h7M5030 587h7M5157 586h7M5079 652h7M5011 613h7M5004 605h7M4907 610h7M5124 703h7M5119 580h7M4893 701h7M5123 583h7M4922 604h7M4981 698h7M5132 639h7M4973 630h7M5012 659h7M5048 713h7M4969 606h7M4925 686h7M5009 650h7M5004 543h7M5077 778h7M5041 547h7M4980 512h7M4929 695h7M4937 573h7M4961 654h7M4987 614h7M4955 700h7M5080 665h7M5015 499h7M4984 595h7M5032 622h7M4973 645h7M4988 652h7M4853 619h7M5002 680h7M5022 649h7M5069 591h7M5035 560h7M4983 595h7M5067 522h7M5128 738h7M4967 654h7M5053 603h7M5176 639h7M4937 715h7M5005 693h7M5066 631h7M4983 571h7M5035 702h7M5051 679h7M5079 604h7M5064 688h7M4960 700h7M4912 622h7M5051 573h7M5074 648h7M4996 588h7M5005 661h7M5030 706h7M5072 525h7M5091 602h7M4965 618h7M4898 573h7M5012 697h7M4855 731h7M4950 677h7M5061 640h7M5031 837h7M5039 633h7M5002 633h7M5107 778h7M5046 718h7M5150 740h7M5258 725h7M5104 742h7M5232 805h7M5116 771h7M5152 733h7M5161 727h7M5068 626h7M4981 856h7M5123 761h7M5155 925h7M5284 697h7M5072 849h7M5116 850h7M5057 658h7M5051 873h7M5078 843h7M5246 775h7M5416 705h7M5179 851h7M4979 875h7M5090 496h7M5101 691h7M5105 864h7M5269 973h7M5039 861h7M4951 893h7M5079 725h7M5317 660h7M5144 704h7M5230 811h7M5267 736h7M5124 753h7M5075 790h7M5181 616h7M5196 687h7M5083 854h7M5002 916h7M5373 714h7M5178 579h7M4968 607h7M5046 844h7M5099 686h7M5125 658h7M5113 720h7M5104 801h7M5042 858h7M4903 885h7M5070 758h7M5073 856h7M5264 802h7M5161 690h7M5048 931h7M5261 902h7M5063 842h7M5212 587h7M4963 846h7M5072 570h7M5092 790h7M5198 659h7M5371 618h7M5088 832h7M5149 662h7M5182 671h7M4950 684h7M5156 628h7M5141 746h7M4920 961h7M5169 960h7M5141 900h7M5126 891h7M5191 938h7M5208 764h7M5068 854h7M5363 963h7M5014 682h7M5028 889h7M5215 739h7M4964 899h7M5106 747h7M5131 785h7M5133 667h7M5087 840h7M5226 943h7M5000 837h7M5182 945h7M5071 805h7M5128 732h7M5131 724h7M5174 781h7M4983 889h7M5230 915h7M5096 991h7M5104 854h7M5042 842h7M5133 819h7M5004 843h7M5161 652h7M5161 820h7M5082 576h7M4963 853h7M5170 798h7M5019 830h7M5254 651h7M5087 790h7M5089 829h7M5177 794h7M5283 798h7M5021 910h7M5093 997h7M4965 869h7M5098 891h7M5121 855h7M5021 693h7M4892 748h7M5229 867h7M5111 582h7M5008 695h7M5047 723h7M5010 973h7M4916 702h7M5010 879h7M5271 622h7M4942 661h7M5161 877h7M5226 678h7M5052 996h7M5089 857h7M5082 792h7M5097 847h7M5215 825h7M5197 863h7M5284 848h7M5169 655h7M5151 835h7M5147 860h7M5090 876h7M5254 784h7M5227 663h7M5070 1005h7M5227 808h7M5074 755h7M5348 797h7M5118 807h7M5086 808h7M5154 732h7M5180 682h7M5151 817h7M5052 717h7M5105 706h7M5161 790h7M4834 876h7M5122 767h7M5171 882h7M4917 876h7M4959 885h7M4952 989h7M5227 819h7M5056 736h7M5113 977h7M5220 710h7M5022 927h7M5288 537h7M5126 584h7M5012 846h7M5170 744h7M5091 964h7M5143 805h7M5179 804h7M5116 887h7M5092 847h7M5092 938h7M5192 866h7M5116 743h7M5063 730h7M5147 639h7M5104 842h7M4990 1038h7M5130 942h7M5101 850h7M5287 742h7M5306 902h7M4999 1031h7M5175 786h7M5162 767h7M5098 798h7M5029 1006h7M5031 683h7M5100 854h7M5021 692h7M5089 622h7M4962 842h7M5108 822h7M5123 720h7M5106 709h7M5177 926h7M5108 818h7M5053 825h7M5106 760h7M5125 762h7M5173 894h7M5032 823h7M4992 605h7M5178 734h7M5038 973h7M5338 594h7M5324 489h7M5049 879h7M5247 774h7M5121 932h7M5157 894h7M5120 746h7M5212 738h7M5084 931h7M4899 795h7M5089 868h7M5046 721h7M4892 839h7M4739 682h7M4793 552h7M4821 475h7M4685 534h7M4688 595h7M4761 585h7M4922 524h7M4844 585h7M4987 388h7M4865 669h7M4764 478h7M4732 534h7M4893 529h7M4837 627h7M4929 660h7M4843 426h7M4602 598h7M4824 529h7M4842 515h7M4840 668h7M4815 457h7M4773 598h7M4702 599h7M4771 438h7M4825 575h7M4817 536h7M4848 616h7M4856 482h7M4681 574h7M4721 477h7M4739 673h7M4849 685h7M4867 579h7M4830 527h7M4759 546h7M5002 468h7M4718 589h7M4904 624h7M4781 503h7M4902 595h7M4788 641h7M4630 586h7M4813 594h7M4807 536h7M4725 652h7M4827 317h7M4920 546h7M4761 528h7M4814 562h7M4596 544h7M4916 633h7M4935 676h7M4866 678h7M4802 647h7M4832 698h7M4743 584h7M4835 650h7M4853 504h7M4893 779h7M4768 662h7M4887 482h7M4848 477h7M4698 489h7M4931 635h7M4794 595h7M4752 531h7M4804 496h7M4846 446h7M4758 491h7M4748 572h7M4837 429h7M4912 548h7M4898 649h7M4820 550h7M4896 587h7M4938 518h7M4853 658h7M4969 511h7M4952 595h7M4698 552h7M4907 609h7M4925 494h7M4785 530h7M4806 633h7M4723 631h7M4828 516h7M4829 578h7M4800 523h7M4786 537h7M4820 544h7M4758 488h7M4995 563h7M4907 479h7M4873 596h7M4749 680h7M4883 727h7M4813 536h7M4814 621h7M4932 536h7M4749 680h7M4830 592h7M4888 607h7M4839 582h7M4907 674h7M4789 647h7M4798 568h7M4808 442h7M4891 539h7M4698 544h7M4808 608h7M4867 659h7M4840 547h7M4864 553h7M4769 512h7M4619 523h7M4800 440h7M4807 502h7M4910 496h7M4935 675h7M4769 457h7M4818 568h7M4825 604h7M4884 635h7M4817 547h7M4832 629h7M4811 648h7M4909 675h7M4738 538h7M4649 548h7M4834 605h7M4832 405h7M4922 485h7M4857 706h7M4739 694h7M4945 583h7M4841 477h7M4884 561h7M4897 533h7M4748 532h7M4715 496h7M4902 573h7M4764 596h7M4860 602h7M4693 622h7M4907 629h7M4761 520h7M4849 577h7M4700 588h7M4670 542h7M4785 469h7M4602 929h7M4490 902h7M4600 938h7M4644 919h7M4795 779h7M4653 856h7M4753 792h7M4695 870h7M4577 908h7M4742 740h7M4536 962h7M4681 868h7M4632 884h7M4682 849h7M4780 760h7M4765 800h7M4627 985h7M4609 1023h7M4796 766h7M4630 824h7M4675 826h7M4743 705h7M4457 1088h7M4654 855h7M4586 989h7M4657 902h7M4749 978h7M4651 951h7M4584 901h7M4682 895h7M4570 792h7M4695 847h7M4683 872h7M4590 846h7M4598 1000h7M4765 995h7M4639 978h7M4617 857h7M4629 808h7M4704 844h7M4495 879h7M4672 781h7M4592 908h7M4672 883h7M4587 919h7M4880 748h7M4750 1056h7M4513 1028h7M4600 821h7M4700 911h7M4648 941h7M4572 970h7M4632 944h7M4672 815h7M4614 886h7M4668 943h7M4742 758h7M4579 831h7M4689 871h7M4721 820h7M4621 986h7M4582 809h7M4671 869h7M4579 882h7M4679 987h7M4578 996h7M4678 932h7M4575 989h7M4563 916h7M4691 930h7M4632 892h7M4549 907h7M4745 804h7M4728 766h7M4809 905h7M4710 726h7M4630 880h7M4712 947h7M4721 778h7M4738 748h7M4544 955h7M4523 1009h7M4515 922h7M4667 848h7M4561 906h7M4620 945h7M4659 866h7M4677 872h7M4478 1022h7M4583 893h7M4619 892h7M4582 894h7M4677 817h7M4434 930h7M4555 829h7M4356 1012h7M4501 930h7M4609 865h7M4518 990h7M4459 906h7M4624 944h7M4681 834h7M4695 811h7M4494 988h7M5054 793h7M5074 722h7M5032 886h7M5289 731h7M5228 629h7M5198 862h7M5209 1013h7M5071 631h7M5320 485h7M5043 905h7M5031 805h7M5116 1160h7M5366 1155h7M5265 451h7M5078 1102h7M4960 695h7M5122 556h7M4992 259h7M5146 983h7M5382 1103h7M5350 420h7M5344 791h7M5120 1068h7M5251 830h7M5298 355h7M5371 249h7M5246 445h7M5107 453h7M4983 1023h7M5179 462h7M5105 789h7M5169 669h7M5106 1014h7M5178 360h7M5083 566h7M5286 932h7M5257 622h7M4968 760h7M5006 776h7M4981 246h7M4922 820h7M4933 677h7M4876 363h7M5019 863h7M5399 705h7M5266 1063h7M5115 447h7M5396 337h7M4963 930h7M5184 1127h7" transform="scale(.1)" stroke="#cf2b1f" stroke-width="7" fill="none" opacity="1"/>
</g>
<rect x="429.5" y="16.7" width="112.4" height="100.8" fill="none" stroke="#333" stroke-width="0.85"/>
<path d="M488.9 16.7V117.5M429.5 66.9H541.9" stroke="#333" stroke-width="0.85"/>
<path d="M429.5 117.5v-2.6M429.5 117.5h2.6M438.0 117.5v-1.4M429.5 109.9h1.4M442.9 117.5v-1.4M429.5 105.5h1.4M446.4 117.5v-1.4M429.5 102.3h1.4M449.1 117.5v-1.4M429.5 99.9h1.4M451.4 117.5v-1.4M429.5 97.9h1.4M453.2 117.5v-1.4M429.5 96.2h1.4M454.9 117.5v-1.4M429.5 94.7h1.4M456.3 117.5v-1.4M429.5 93.5h1.4M457.6 117.5v-2.6M429.5 92.3h2.6M466.1 117.5v-1.4M429.5 84.7h1.4M471.0 117.5v-1.4M429.5 80.3h1.4M474.5 117.5v-1.4M429.5 77.1h1.4M477.2 117.5v-1.4M429.5 74.7h1.4M479.5 117.5v-1.4M429.5 72.7h1.4M481.3 117.5v-1.4M429.5 71.0h1.4M483.0 117.5v-1.4M429.5 69.5h1.4M484.4 117.5v-1.4M429.5 68.3h1.4M485.7 117.5v-2.6M429.5 67.1h2.6M494.2 117.5v-1.4M429.5 59.5h1.4M499.1 117.5v-1.4M429.5 55.1h1.4M502.6 117.5v-1.4M429.5 51.9h1.4M505.3 117.5v-1.4M429.5 49.5h1.4M507.6 117.5v-1.4M429.5 47.5h1.4M509.4 117.5v-1.4M429.5 45.8h1.4M511.1 117.5v-1.4M429.5 44.3h1.4M512.5 117.5v-1.4M429.5 43.1h1.4M513.8 117.5v-2.6M429.5 41.9h2.6M522.3 117.5v-1.4M429.5 34.3h1.4M527.2 117.5v-1.4M429.5 29.9h1.4M530.7 117.5v-1.4M429.5 26.7h1.4M533.4 117.5v-1.4M429.5 24.3h1.4M535.7 117.5v-1.4M429.5 22.3h1.4M537.5 117.5v-1.4M429.5 20.6h1.4M539.2 117.5v-1.4M429.5 19.1h1.4M540.6 117.5v-1.4M429.5 17.9h1.4" stroke="#222" stroke-width="0.8"/>
<text transform="translate(424.8 127.9) scale(.9 1)" font-size="6.1" fill="#1a1a1a" stroke="#1a1a1a" stroke-width=".12">10<tspan dy="-2.6" font-size="5.8">0</tspan></text>
<text transform="translate(424.6 122.0) rotate(-90) scale(.9 1)" font-size="6.1" fill="#1a1a1a" stroke="#1a1a1a" stroke-width=".12">10<tspan dy="-2.2" font-size="5.8">0</tspan></text>
<text transform="translate(452.9 127.9) scale(.9 1)" font-size="6.1" fill="#1a1a1a" stroke="#1a1a1a" stroke-width=".12">10<tspan dy="-2.6" font-size="5.8">1</tspan></text>
<text transform="translate(424.6 96.8) rotate(-90) scale(.9 1)" font-size="6.1" fill="#1a1a1a" stroke="#1a1a1a" stroke-width=".12">10<tspan dy="-2.2" font-size="5.8">1</tspan></text>
<text transform="translate(481.0 127.9) scale(.9 1)" font-size="6.1" fill="#1a1a1a" stroke="#1a1a1a" stroke-width=".12">10<tspan dy="-2.6" font-size="5.8">2</tspan></text>
<text transform="translate(424.6 71.6) rotate(-90) scale(.9 1)" font-size="6.1" fill="#1a1a1a" stroke="#1a1a1a" stroke-width=".12">10<tspan dy="-2.2" font-size="5.8">2</tspan></text>
<text transform="translate(509.1 127.9) scale(.9 1)" font-size="6.1" fill="#1a1a1a" stroke="#1a1a1a" stroke-width=".12">10<tspan dy="-2.6" font-size="5.8">3</tspan></text>
<text transform="translate(424.6 46.4) rotate(-90) scale(.9 1)" font-size="6.1" fill="#1a1a1a" stroke="#1a1a1a" stroke-width=".12">10<tspan dy="-2.2" font-size="5.8">3</tspan></text>
<text transform="translate(537.2 127.9) scale(.9 1)" font-size="6.1" fill="#1a1a1a" stroke="#1a1a1a" stroke-width=".12">10<tspan dy="-2.6" font-size="5.8">4</tspan></text>
<text transform="translate(424.6 21.2) rotate(-90) scale(.9 1)" font-size="6.1" fill="#1a1a1a" stroke="#1a1a1a" stroke-width=".12">10<tspan dy="-2.2" font-size="5.8">4</tspan></text>
</g>
<text x="93.2" y="14.6" font-size="11.5" text-anchor="middle" font-weight="bold" fill="#111" stroke="#111" stroke-width=".25">0</text>
<text x="224.5" y="14.6" font-size="11.5" text-anchor="middle" font-weight="bold" fill="#111" stroke="#111" stroke-width=".25">80</text>
<text x="356.2" y="14.6" font-size="11.5" text-anchor="middle" font-weight="bold" fill="#111" stroke="#111" stroke-width=".25">160</text>
<text x="488.3" y="14.6" font-size="11.5" text-anchor="middle" font-weight="bold" fill="#111" stroke="#111" stroke-width=".25">320</text>
<text x="4.3" y="14.4" font-size="13" text-anchor="start" font-weight="bold" fill="#000" stroke="#000" stroke-width=".4">A</text>
<path d="M18.7 54V132.3" stroke="#5a5a5a" stroke-width="1.1" fill="none"/>
<path d="M18.2 132.3H220" stroke="#222" stroke-width="1.2" fill="none"/>
<path d="M18.7 41.7L17 54.4H20.4ZM233.2 132.3L219.1 130.1V134.5Z" fill="#111"/>
<text x="14.6" y="90" font-size="7.4" text-anchor="middle" font-weight="bold" fill="#111" transform="rotate(-90 14.6 90)" stroke="#111" stroke-width=".18">PI</text>
<text x="126.6" y="141" font-size="7.35" text-anchor="middle" font-weight="bold" fill="#111" stroke="#111" stroke-width=".18">Annexin-V-FITC</text>
<g><defs><pattern id="ht0" width="1.5" height="1.5" patternUnits="userSpaceOnUse" patternTransform="rotate(45)"><rect width="1.5" height="1.5" fill="#dedef2"/><path d="M0 0H1.5" stroke="#8c8cc4" stroke-width="0.45"/></pattern><pattern id="hl0" width="1.5" height="1.5" patternUnits="userSpaceOnUse" patternTransform="rotate(45)"><path d="M0 0H1.5M0 0V1.5" stroke="#40306a" stroke-width="0.5"/></pattern></defs>
<path d="M68.8 278.3L69.2 278.3L69.7 278.3L70.2 278.2L70.7 278.2L71.1 278.1L71.6 278.1L72.1 278.0L72.5 277.8L73.0 277.7L73.5 277.5L73.9 277.2L74.4 276.9L74.9 276.6L75.3 276.2L75.8 275.7L76.3 275.2L76.8 274.6L77.2 274.0L77.7 273.4L78.2 272.8L78.6 272.2L79.1 271.7L79.6 271.2L80.0 270.8L80.5 270.5L81.0 270.2L81.4 270.0L81.9 269.8L82.4 269.7L82.9 269.5L83.3 269.4L83.8 269.4L84.3 269.3L84.7 269.3L85.2 269.2L85.7 269.2L86.1 269.2L86.6 269.2L87.1 269.2L87.6 269.1L88.0 269.1L88.5 269.1L89.0 269.1L89.4 269.1L89.9 269.1L90.4 269.1L90.8 269.1L91.3 269.1L91.8 269.1L92.2 269.1L92.7 269.1L93.2 269.1L93.7 269.1L94.1 269.1L94.6 269.1L95.1 269.1L95.5 269.1L96.0 269.1L96.5 269.1L96.9 269.1L97.4 269.1L97.9 269.1L98.4 269.1L98.8 269.1L99.3 269.1L99.8 269.1L100.2 269.1L100.7 269.1L101.2 269.1L101.6 269.1L102.1 269.1L102.6 269.1L103.0 269.1L103.5 269.1L104.0 269.1L104.5 269.1L104.9 269.1L105.4 269.1L105.9 269.1L106.3 269.1L106.8 269.1L107.3 269.1L107.7 269.1L108.2 269.1L108.7 269.1L109.2 269.1L109.6 269.1L110.1 269.1L110.6 269.1L111.0 269.1L111.5 269.2L112.0 269.2L112.4 269.2L112.9 269.2L113.4 269.2L113.8 269.2L114.3 269.3L114.8 269.3L115.3 269.4L115.7 269.4L116.2 269.5L116.7 269.6L117.1 269.7L117.6 269.9L118.1 270.0L118.5 270.3L119.0 270.5L119.5 270.8L119.9 271.2L120.4 271.6L120.9 272.1L121.4 272.6L121.8 273.1L122.3 273.6L122.8 274.2L123.2 274.7L123.7 275.2L124.2 275.7L124.6 276.2L125.1 276.5L125.6 276.9L126.1 277.1L126.5 277.4L127.0 277.6L127.5 277.7L127.9 277.9L128.4 278.0L128.9 278.1L129.3 278.1L129.8 278.2L130.3 278.2L130.7 278.3L131.2 278.3L131.7 278.3L132.2 278.3V278.4H68.5Z" fill="url(#ht0)" stroke="#8e8ec0" stroke-width="0.35"/>
<path d="M68.8 278.4L69.2 278.4L69.7 278.4L70.2 278.4L70.7 278.4L71.1 278.4L71.6 278.4L72.1 278.4L72.5 277.9L73.0 276.2L73.5 273.1L73.9 268.4L74.4 262.6L74.9 256.1L75.3 249.2L75.8 241.7L76.3 234.0L76.8 225.8L77.2 217.4L77.7 208.7L78.2 199.7L78.6 190.5L79.1 181.8L79.6 177.6L80.0 178.0L80.5 182.9L81.0 192.3L81.4 201.5L81.9 210.4L82.4 219.1L82.9 227.5L83.3 235.5L83.8 243.3L84.3 250.6L84.7 257.5L85.2 263.8L85.7 269.5L86.1 273.8L86.6 276.6L87.1 278.1L87.6 278.4L88.0 278.4L88.5 278.4L89.0 278.4L89.4 278.4L89.9 278.4L90.4 278.4L90.8 278.4V278.4H68.5Z" fill="#e4241a"/>
<path d="M111.0 278.4L111.5 278.4L112.0 278.4L112.4 278.3L112.9 278.3L113.4 278.2L113.8 278.0L114.3 277.8L114.8 277.4L115.3 277.0L115.7 276.3L116.2 275.5L116.7 274.4L117.1 273.1L117.6 271.7L118.1 270.1L118.5 268.4L119.0 266.8L119.5 265.4L119.9 264.2L120.4 263.4L120.9 263.1L121.4 263.2L121.8 263.8L122.3 264.9L122.8 266.2L123.2 267.8L123.7 269.4L124.2 271.1L124.6 272.6L125.1 273.9L125.6 275.1L126.1 276.0L126.5 276.7L127.0 277.3L127.5 277.7L127.9 277.9L128.4 278.1L128.9 278.2L129.3 278.3L129.8 278.3L130.3 278.4L130.7 278.4L131.2 278.4V278.4H110.7Z" fill="#d8d62a"/>
<clipPath id="ov0"><path d="M68.8 278.4L69.2 278.4L69.7 278.4L70.2 278.4L70.7 278.4L71.1 278.4L71.6 278.4L72.1 278.4L72.5 277.9L73.0 276.2L73.5 273.1L73.9 268.4L74.4 262.6L74.9 256.1L75.3 249.2L75.8 241.7L76.3 234.0L76.8 225.8L77.2 217.4L77.7 208.7L78.2 199.7L78.6 190.5L79.1 181.8L79.6 177.6L80.0 178.0L80.5 182.9L81.0 192.3L81.4 201.5L81.9 210.4L82.4 219.1L82.9 227.5L83.3 235.5L83.8 243.3L84.3 250.6L84.7 257.5L85.2 263.8L85.7 269.5L86.1 273.8L86.6 276.6L87.1 278.1L87.6 278.4L88.0 278.4L88.5 278.4L89.0 278.4L89.4 278.4L89.9 278.4L90.4 278.4L90.8 278.4V278.4H68.5Z"/><path d="M111.0 278.4L111.5 278.4L112.0 278.4L112.4 278.3L112.9 278.3L113.4 278.2L113.8 278.0L114.3 277.8L114.8 277.4L115.3 277.0L115.7 276.3L116.2 275.5L116.7 274.4L117.1 273.1L117.6 271.7L118.1 270.1L118.5 268.4L119.0 266.8L119.5 265.4L119.9 264.2L120.4 263.4L120.9 263.1L121.4 263.2L121.8 263.8L122.3 264.9L122.8 266.2L123.2 267.8L123.7 269.4L124.2 271.1L124.6 272.6L125.1 273.9L125.6 275.1L126.1 276.0L126.5 276.7L127.0 277.3L127.5 277.7L127.9 277.9L128.4 278.1L128.9 278.2L129.3 278.3L129.8 278.3L130.3 278.4L130.7 278.4L131.2 278.4V278.4H110.7Z"/></clipPath>
<g clip-path="url(#ov0)"><path d="M68.8 278.3L69.2 278.3L69.7 278.3L70.2 278.2L70.7 278.2L71.1 278.1L71.6 278.1L72.1 278.0L72.5 277.8L73.0 277.7L73.5 277.5L73.9 277.2L74.4 276.9L74.9 276.6L75.3 276.2L75.8 275.7L76.3 275.2L76.8 274.6L77.2 274.0L77.7 273.4L78.2 272.8L78.6 272.2L79.1 271.7L79.6 271.2L80.0 270.8L80.5 270.5L81.0 270.2L81.4 270.0L81.9 269.8L82.4 269.7L82.9 269.5L83.3 269.4L83.8 269.4L84.3 269.3L84.7 269.3L85.2 269.2L85.7 269.2L86.1 269.2L86.6 269.2L87.1 269.2L87.6 269.1L88.0 269.1L88.5 269.1L89.0 269.1L89.4 269.1L89.9 269.1L90.4 269.1L90.8 269.1L91.3 269.1L91.8 269.1L92.2 269.1L92.7 269.1L93.2 269.1L93.7 269.1L94.1 269.1L94.6 269.1L95.1 269.1L95.5 269.1L96.0 269.1L96.5 269.1L96.9 269.1L97.4 269.1L97.9 269.1L98.4 269.1L98.8 269.1L99.3 269.1L99.8 269.1L100.2 269.1L100.7 269.1L101.2 269.1L101.6 269.1L102.1 269.1L102.6 269.1L103.0 269.1L103.5 269.1L104.0 269.1L104.5 269.1L104.9 269.1L105.4 269.1L105.9 269.1L106.3 269.1L106.8 269.1L107.3 269.1L107.7 269.1L108.2 269.1L108.7 269.1L109.2 269.1L109.6 269.1L110.1 269.1L110.6 269.1L111.0 269.1L111.5 269.2L112.0 269.2L112.4 269.2L112.9 269.2L113.4 269.2L113.8 269.2L114.3 269.3L114.8 269.3L115.3 269.4L115.7 269.4L116.2 269.5L116.7 269.6L117.1 269.7L117.6 269.9L118.1 270.0L118.5 270.3L119.0 270.5L119.5 270.8L119.9 271.2L120.4 271.6L120.9 272.1L121.4 272.6L121.8 273.1L122.3 273.6L122.8 274.2L123.2 274.7L123.7 275.2L124.2 275.7L124.6 276.2L125.1 276.5L125.6 276.9L126.1 277.1L126.5 277.4L127.0 277.6L127.5 277.7L127.9 277.9L128.4 278.0L128.9 278.1L129.3 278.1L129.8 278.2L130.3 278.2L130.7 278.3L131.2 278.3L131.7 278.3L132.2 278.3V278.4H68.5Z" fill="#30205a" opacity="0.22"/><path d="M68.8 278.3L69.2 278.3L69.7 278.3L70.2 278.2L70.7 278.2L71.1 278.1L71.6 278.1L72.1 278.0L72.5 277.8L73.0 277.7L73.5 277.5L73.9 277.2L74.4 276.9L74.9 276.6L75.3 276.2L75.8 275.7L76.3 275.2L76.8 274.6L77.2 274.0L77.7 273.4L78.2 272.8L78.6 272.2L79.1 271.7L79.6 271.2L80.0 270.8L80.5 270.5L81.0 270.2L81.4 270.0L81.9 269.8L82.4 269.7L82.9 269.5L83.3 269.4L83.8 269.4L84.3 269.3L84.7 269.3L85.2 269.2L85.7 269.2L86.1 269.2L86.6 269.2L87.1 269.2L87.6 269.1L88.0 269.1L88.5 269.1L89.0 269.1L89.4 269.1L89.9 269.1L90.4 269.1L90.8 269.1L91.3 269.1L91.8 269.1L92.2 269.1L92.7 269.1L93.2 269.1L93.7 269.1L94.1 269.1L94.6 269.1L95.1 269.1L95.5 269.1L96.0 269.1L96.5 269.1L96.9 269.1L97.4 269.1L97.9 269.1L98.4 269.1L98.8 269.1L99.3 269.1L99.8 269.1L100.2 269.1L100.7 269.1L101.2 269.1L101.6 269.1L102.1 269.1L102.6 269.1L103.0 269.1L103.5 269.1L104.0 269.1L104.5 269.1L104.9 269.1L105.4 269.1L105.9 269.1L106.3 269.1L106.8 269.1L107.3 269.1L107.7 269.1L108.2 269.1L108.7 269.1L109.2 269.1L109.6 269.1L110.1 269.1L110.6 269.1L111.0 269.1L111.5 269.2L112.0 269.2L112.4 269.2L112.9 269.2L113.4 269.2L113.8 269.2L114.3 269.3L114.8 269.3L115.3 269.4L115.7 269.4L116.2 269.5L116.7 269.6L117.1 269.7L117.6 269.9L118.1 270.0L118.5 270.3L119.0 270.5L119.5 270.8L119.9 271.2L120.4 271.6L120.9 272.1L121.4 272.6L121.8 273.1L122.3 273.6L122.8 274.2L123.2 274.7L123.7 275.2L124.2 275.7L124.6 276.2L125.1 276.5L125.6 276.9L126.1 277.1L126.5 277.4L127.0 277.6L127.5 277.7L127.9 277.9L128.4 278.0L128.9 278.1L129.3 278.1L129.8 278.2L130.3 278.2L130.7 278.3L131.2 278.3L131.7 278.3L132.2 278.3V278.4H68.5Z" fill="url(#hl0)" opacity="0.5"/></g>
<path d="M66.4 278.3L66.9 278.3L67.4 278.3L67.8 278.2L68.3 278.2L68.8 278.1L69.2 278.0L69.7 278.0L70.2 277.9L70.7 277.7L71.1 277.6L71.6 277.5L72.1 277.3L72.5 277.2L73.0 277.1L73.5 277.0L73.9 276.9L74.4 276.8L74.9 276.8L75.3 276.8L75.8 276.8L76.3 276.8L76.8 276.8L77.2 276.8L77.7 276.8L78.2 276.8L78.6 276.9L79.1 276.9L79.6 276.9L80.0 277.0L80.5 277.0L81.0 277.0L81.4 277.1L81.9 277.1L82.4 277.1L82.9 277.2L83.3 277.2L83.8 277.2L84.3 277.3L84.7 277.3L85.2 277.3L85.7 277.3L86.1 277.4L86.6 277.4L87.1 277.4L87.6 277.4L88.0 277.5L88.5 277.5L89.0 277.5L89.4 277.5L89.9 277.5L90.4 277.6L90.8 277.6L91.3 277.6L91.8 277.6L92.2 277.6L92.7 277.7L93.2 277.7L93.7 277.7L94.1 277.7L94.6 277.7L95.1 277.8L95.5 277.8L96.0 277.8L96.5 277.8L96.9 277.8L97.4 277.8L97.9 277.8L98.4 277.9L98.8 277.9L99.3 277.9L99.8 277.9L100.2 277.9L100.7 277.9L101.2 277.9L101.6 277.9L102.1 278.0L102.6 278.0L103.0 278.0L103.5 278.0L104.0 278.0L104.5 278.0L104.9 278.0L105.4 278.0L105.9 278.0L106.3 278.0L106.8 278.1L107.3 278.1L107.7 278.1L108.2 278.1L108.7 278.1L109.2 278.1L109.6 278.1L110.1 278.1L110.6 278.1L111.0 278.1L111.5 278.1L112.0 278.1L112.4 278.1L112.9 278.1L113.4 278.2L113.8 278.2L114.3 278.2L114.8 278.2L115.3 278.2L115.7 278.2L116.2 278.2L116.7 278.2L117.1 278.2L117.6 278.2L118.1 278.2L118.5 278.2L119.0 278.2L119.5 278.2L119.9 278.2L120.4 278.2L120.9 278.2L121.4 278.2L121.8 278.2L122.3 278.2L122.8 278.3L123.2 278.3L123.7 278.3L124.2 278.3L124.6 278.3L125.1 278.3L125.6 278.3L126.1 278.3L126.5 278.3L127.0 278.3L127.5 278.3L127.9 278.3L128.4 278.3L128.9 278.3L129.3 278.3L129.8 278.3L130.3 278.3L130.7 278.3L131.2 278.3L131.7 278.3L132.2 278.3V278.4H66.4Z" fill="#6a6ab4" opacity="0.35"/>
<path d="M61.7 278.4L62.2 278.4L62.7 278.3L63.1 278.3L63.6 278.4L64.1 278.4L64.5 278.3L65.0 278.2L65.5 278.1L66.0 277.7L66.4 277.0L66.9 276.5L67.4 276.1L67.8 276.3L68.3 276.9L68.8 277.4L69.2 277.8L69.7 278.0L70.2 278.2L70.7 278.1L71.1 277.8L71.6 277.8L72.1 277.5L72.5 276.2L73.0 274.0L73.5 270.1L73.9 266.3L74.4 260.2L74.9 252.4L75.3 245.3L75.8 238.0L76.3 230.1L76.8 221.7L77.2 213.0L77.7 202.9L78.2 193.3L78.6 183.2L79.1 173.5L79.6 168.4L80.0 168.0L80.5 172.4L81.0 181.4L81.4 190.7L81.9 199.1L82.4 206.7L82.9 214.5L83.3 221.5L83.8 228.8L84.3 236.9L84.7 243.6L85.2 250.6L85.7 256.4L86.1 260.1L86.6 263.6L87.1 265.3L87.6 266.2L88.0 268.3L88.5 268.4L89.0 267.4L89.4 267.5L89.9 267.7L90.4 267.8L90.8 266.5L91.3 266.6L91.8 268.8L92.2 268.9L92.7 267.9L93.2 268.0L93.7 269.0L94.1 269.0L94.6 268.7L95.1 268.7L95.5 268.0L96.0 268.0L96.5 268.3L96.9 268.4L97.4 268.2L97.9 268.2L98.4 268.7L98.8 268.7L99.3 269.3L99.8 269.3L100.2 267.4L100.7 267.4L101.2 267.0L101.6 267.0L102.1 268.1L102.6 268.0L103.0 268.2L103.5 268.2L104.0 266.8L104.5 266.7L104.9 267.2L105.4 267.1L105.9 267.2L106.3 267.0L106.8 266.4L107.3 266.2L107.7 267.4L108.2 267.2L108.7 266.9L109.2 266.7L109.6 265.7L110.1 265.4L110.6 266.1L111.0 265.8L111.5 264.6L112.0 264.2L112.4 263.7L112.9 263.2L113.4 262.5L113.8 262.0L114.3 261.4L114.8 260.8L115.3 261.5L115.7 260.7L116.2 258.9L116.7 258.1L117.1 256.9L117.6 256.0L118.1 254.8L118.5 254.2L119.0 253.7L119.5 253.5L119.9 254.5L120.4 254.7L120.9 255.2L121.4 256.0L121.8 257.7L122.3 258.9L122.8 259.7L123.2 261.2L123.7 263.0L124.2 264.6L124.6 266.6L125.1 268.1L125.6 268.8L126.1 270.2L126.5 270.4L127.0 271.6L127.5 272.1L127.9 273.0L128.4 274.6L128.9 275.2L129.3 276.0L129.8 276.3L130.3 276.6L130.7 276.8L131.2 277.0L131.7 277.2L132.2 277.4L132.6 277.5L133.1 277.6L133.6 277.7L134.0 277.9L134.5 277.9L135.0 278.0L135.4 278.0L135.9 277.8L136.4 277.8L136.9 278.0L137.3 278.0L137.8 278.3L138.3 278.3L138.7 278.1L139.2 278.1L139.7 278.3L140.1 278.3L140.6 278.2L141.1 278.2L141.5 278.3" fill="none" stroke="#2a2a2a" stroke-width="0.55" stroke-linejoin="round"/>
<path d="M34.5 161.3V278.4M32.9 278.4H147.7" stroke="#555" stroke-width="0.6"/>
<path d="M34.5 278.4h-2.3M34.5 274.5h-1.2M34.5 270.5h-1.2M34.5 266.6h-1.2M34.5 262.7h-1.2M34.5 258.7h-1.2M34.5 254.8h-2.3M34.5 250.9h-1.2M34.5 246.9h-1.2M34.5 243.0h-1.2M34.5 239.0h-1.2M34.5 235.1h-1.2M34.5 231.2h-2.3M34.5 227.2h-1.2M34.5 223.3h-1.2M34.5 219.4h-1.2M34.5 215.4h-1.2M34.5 211.5h-1.2M34.5 207.6h-2.3M34.5 203.6h-1.2M34.5 199.7h-1.2M34.5 195.8h-1.2M34.5 191.8h-1.2M34.5 187.9h-1.2M34.5 184.0h-2.3M34.5 180.0h-1.2M34.5 176.1h-1.2M34.5 172.2h-1.2M34.5 168.2h-1.2M34.5 164.3h-1.2M34.5 160.3h-2.3M34.5 278.4v2.4M39.2 278.4v1.2M43.9 278.4v1.2M48.6 278.4v1.2M53.3 278.4v2.4M58.0 278.4v1.2M62.7 278.4v1.2M67.4 278.4v1.2M72.1 278.4v2.4M76.8 278.4v1.2M81.4 278.4v1.2M86.1 278.4v1.2M90.8 278.4v2.4M95.5 278.4v1.2M100.2 278.4v1.2M104.9 278.4v1.2M109.6 278.4v2.4M114.3 278.4v1.2M119.0 278.4v1.2M123.7 278.4v1.2M128.4 278.4v2.4M133.1 278.4v1.2M137.8 278.4v1.2M142.5 278.4v1.2M147.2 278.4v2.4" stroke="#555" stroke-width="0.5"/>
<text x="34.5" y="285.5" font-size="2.9" text-anchor="middle" fill="#555">0</text>
<text x="53.3" y="285.5" font-size="2.9" text-anchor="middle" fill="#555">20</text>
<text x="72.1" y="285.5" font-size="2.9" text-anchor="middle" fill="#555">40</text>
<text x="90.8" y="285.5" font-size="2.9" text-anchor="middle" fill="#555">60</text>
<text x="109.6" y="285.5" font-size="2.9" text-anchor="middle" fill="#555">80</text>
<text x="128.4" y="285.5" font-size="2.9" text-anchor="middle" fill="#555">100</text>
<text x="147.2" y="285.5" font-size="2.9" text-anchor="middle" fill="#555">120</text>
<text x="30.9" y="278.4" font-size="2.9" text-anchor="middle" fill="#555" transform="rotate(-90 30.9 278.4)">0</text>
<text x="30.9" y="254.8" font-size="2.9" text-anchor="middle" fill="#555" transform="rotate(-90 30.9 254.8)">300</text>
<text x="30.9" y="231.2" font-size="2.9" text-anchor="middle" fill="#555" transform="rotate(-90 30.9 231.2)">600</text>
<text x="30.9" y="207.6" font-size="2.9" text-anchor="middle" fill="#555" transform="rotate(-90 30.9 207.6)">900</text>
<text x="30.9" y="184.0" font-size="2.9" text-anchor="middle" fill="#555" transform="rotate(-90 30.9 184.0)">1200</text>
<path d="M79.8 279.6l1.7 3.3h-3.4z" fill="#111"/>
<path d="M121.0 279.6l1.7 3.3h-3.4z" fill="#111"/>
<rect x="122.9" y="157.35" width="4.9" height="3.4" fill="#b2aadc"/>
<text x="130.1" y="160.15" font-size="3" fill="#4444a8">Debris</text>
<rect x="122.9" y="161.70" width="4.9" height="3.4" fill="#a8d8a0"/>
<text x="130.1" y="164.50" font-size="3" fill="#4444a8">Aggregates</text>
<rect x="122.9" y="166.05" width="4.9" height="3.4" fill="#e6261c"/>
<text x="130.1" y="168.85" font-size="3" fill="#4444a8">Dip G1</text>
<rect x="122.9" y="170.40" width="4.9" height="3.4" fill="#e6261c"/>
<text x="130.1" y="173.20" font-size="3" fill="#4444a8">Dip G2</text>
<rect x="122.9" y="174.75" width="4.9" height="3.4" fill="#e4e4f0" stroke="#b0b0cc" stroke-width=".4"/>
<text x="130.1" y="177.55" font-size="3" fill="#4444a8">Dip S</text>
<rect x="122.9" y="179.10" width="4.9" height="3.4" fill="#e0da2c"/>
<text x="130.1" y="181.90" font-size="3" fill="#4444a8">An1 G1</text>
</g>
<g><defs><pattern id="ht1" width="1.5" height="1.5" patternUnits="userSpaceOnUse" patternTransform="rotate(45)"><rect width="1.5" height="1.5" fill="#dedef2"/><path d="M0 0H1.5" stroke="#8c8cc4" stroke-width="0.45"/></pattern><pattern id="hl1" width="1.5" height="1.5" patternUnits="userSpaceOnUse" patternTransform="rotate(45)"><path d="M0 0H1.5M0 0V1.5" stroke="#40306a" stroke-width="0.5"/></pattern></defs>
<path d="M202.2 278.3L202.7 278.3L203.2 278.3L203.7 278.2L204.2 278.2L204.6 278.1L205.1 278.1L205.6 278.0L206.1 277.8L206.6 277.7L207.1 277.5L207.5 277.3L208.0 277.0L208.5 276.6L209.0 276.2L209.5 275.8L210.0 275.3L210.4 274.7L210.9 274.1L211.4 273.6L211.9 273.0L212.4 272.5L212.9 272.0L213.3 271.6L213.8 271.2L214.3 270.9L214.8 270.7L215.3 270.4L215.8 270.3L216.3 270.1L216.7 270.0L217.2 270.0L217.7 269.9L218.2 269.8L218.7 269.8L219.2 269.8L219.6 269.7L220.1 269.7L220.6 269.7L221.1 269.7L221.6 269.7L222.1 269.7L222.5 269.7L223.0 269.7L223.5 269.7L224.0 269.7L224.5 269.7L225.0 269.7L225.4 269.7L225.9 269.7L226.4 269.7L226.9 269.7L227.4 269.7L227.9 269.7L228.4 269.7L228.8 269.7L229.3 269.7L229.8 269.7L230.3 269.7L230.8 269.7L231.3 269.7L231.7 269.7L232.2 269.7L232.7 269.7L233.2 269.7L233.7 269.7L234.2 269.7L234.6 269.7L235.1 269.7L235.6 269.7L236.1 269.7L236.6 269.7L237.1 269.7L237.5 269.7L238.0 269.7L238.5 269.7L239.0 269.7L239.5 269.7L240.0 269.7L240.5 269.7L240.9 269.7L241.4 269.7L241.9 269.7L242.4 269.7L242.9 269.7L243.4 269.7L243.8 269.7L244.3 269.7L244.8 269.7L245.3 269.7L245.8 269.7L246.3 269.7L246.7 269.7L247.2 269.7L247.7 269.7L248.2 269.7L248.7 269.8L249.2 269.8L249.6 269.8L250.1 269.8L250.6 269.9L251.1 270.0L251.6 270.0L252.1 270.1L252.6 270.3L253.0 270.4L253.5 270.6L254.0 270.8L254.5 271.0L255.0 271.3L255.5 271.7L255.9 272.1L256.4 272.5L256.9 273.0L257.4 273.5L257.9 274.0L258.4 274.5L258.8 275.1L259.3 275.5L259.8 276.0L260.3 276.4L260.8 276.7L261.3 277.0L261.7 277.3L262.2 277.5L262.7 277.7L263.2 277.8L263.7 277.9L264.2 278.0L264.7 278.1L265.1 278.2L265.6 278.2L266.1 278.2L266.6 278.3L267.1 278.3L267.6 278.3L268.0 278.3V278.4H201.8Z" fill="url(#ht1)" stroke="#8e8ec0" stroke-width="0.35"/>
<path d="M202.2 278.4L202.7 278.4L203.2 278.4L203.7 278.4L204.2 278.4L204.6 278.4L205.1 278.4L205.6 277.5L206.1 275.1L206.6 271.1L207.1 265.7L207.5 259.6L208.0 253.3L208.5 247.0L209.0 240.6L209.5 234.1L210.0 227.5L210.4 220.9L210.9 214.3L211.4 207.6L211.9 200.9L212.4 194.2L212.9 188.5L213.3 186.0L213.8 186.8L214.3 191.4L214.8 198.2L215.3 204.9L215.8 211.6L216.3 218.3L216.7 224.9L217.2 231.5L217.7 238.0L218.2 244.4L218.7 250.8L219.2 257.1L219.6 263.3L220.1 269.2L220.6 273.7L221.1 276.7L221.6 278.2L222.1 278.4L222.5 278.4L223.0 278.4L223.5 278.4L224.0 278.4L224.5 278.4L225.0 278.4V278.4H201.8Z" fill="#e4241a"/>
<path d="M245.8 278.3L246.3 278.3L246.7 278.2L247.2 278.2L247.7 278.0L248.2 277.8L248.7 277.6L249.2 277.2L249.6 276.8L250.1 276.2L250.6 275.5L251.1 274.6L251.6 273.5L252.1 272.4L252.6 271.1L253.0 269.7L253.5 268.3L254.0 266.9L254.5 265.7L255.0 264.6L255.5 263.8L255.9 263.3L256.4 263.1L256.9 263.3L257.4 263.8L257.9 264.6L258.4 265.7L258.8 266.9L259.3 268.3L259.8 269.7L260.3 271.1L260.8 272.4L261.3 273.5L261.7 274.6L262.2 275.5L262.7 276.2L263.2 276.8L263.7 277.2L264.2 277.6L264.7 277.8L265.1 278.0L265.6 278.2L266.1 278.2L266.6 278.3L267.1 278.3V278.4H245.8Z" fill="#d8d62a"/>
<clipPath id="ov1"><path d="M202.2 278.4L202.7 278.4L203.2 278.4L203.7 278.4L204.2 278.4L204.6 278.4L205.1 278.4L205.6 277.5L206.1 275.1L206.6 271.1L207.1 265.7L207.5 259.6L208.0 253.3L208.5 247.0L209.0 240.6L209.5 234.1L210.0 227.5L210.4 220.9L210.9 214.3L211.4 207.6L211.9 200.9L212.4 194.2L212.9 188.5L213.3 186.0L213.8 186.8L214.3 191.4L214.8 198.2L215.3 204.9L215.8 211.6L216.3 218.3L216.7 224.9L217.2 231.5L217.7 238.0L218.2 244.4L218.7 250.8L219.2 257.1L219.6 263.3L220.1 269.2L220.6 273.7L221.1 276.7L221.6 278.2L222.1 278.4L222.5 278.4L223.0 278.4L223.5 278.4L224.0 278.4L224.5 278.4L225.0 278.4V278.4H201.8Z"/><path d="M245.8 278.3L246.3 278.3L246.7 278.2L247.2 278.2L247.7 278.0L248.2 277.8L248.7 277.6L249.2 277.2L249.6 276.8L250.1 276.2L250.6 275.5L251.1 274.6L251.6 273.5L252.1 272.4L252.6 271.1L253.0 269.7L253.5 268.3L254.0 266.9L254.5 265.7L255.0 264.6L255.5 263.8L255.9 263.3L256.4 263.1L256.9 263.3L257.4 263.8L257.9 264.6L258.4 265.7L258.8 266.9L259.3 268.3L259.8 269.7L260.3 271.1L260.8 272.4L261.3 273.5L261.7 274.6L262.2 275.5L262.7 276.2L263.2 276.8L263.7 277.2L264.2 277.6L264.7 277.8L265.1 278.0L265.6 278.2L266.1 278.2L266.6 278.3L267.1 278.3V278.4H245.8Z"/></clipPath>
<g clip-path="url(#ov1)"><path d="M202.2 278.3L202.7 278.3L203.2 278.3L203.7 278.2L204.2 278.2L204.6 278.1L205.1 278.1L205.6 278.0L206.1 277.8L206.6 277.7L207.1 277.5L207.5 277.3L208.0 277.0L208.5 276.6L209.0 276.2L209.5 275.8L210.0 275.3L210.4 274.7L210.9 274.1L211.4 273.6L211.9 273.0L212.4 272.5L212.9 272.0L213.3 271.6L213.8 271.2L214.3 270.9L214.8 270.7L215.3 270.4L215.8 270.3L216.3 270.1L216.7 270.0L217.2 270.0L217.7 269.9L218.2 269.8L218.7 269.8L219.2 269.8L219.6 269.7L220.1 269.7L220.6 269.7L221.1 269.7L221.6 269.7L222.1 269.7L222.5 269.7L223.0 269.7L223.5 269.7L224.0 269.7L224.5 269.7L225.0 269.7L225.4 269.7L225.9 269.7L226.4 269.7L226.9 269.7L227.4 269.7L227.9 269.7L228.4 269.7L228.8 269.7L229.3 269.7L229.8 269.7L230.3 269.7L230.8 269.7L231.3 269.7L231.7 269.7L232.2 269.7L232.7 269.7L233.2 269.7L233.7 269.7L234.2 269.7L234.6 269.7L235.1 269.7L235.6 269.7L236.1 269.7L236.6 269.7L237.1 269.7L237.5 269.7L238.0 269.7L238.5 269.7L239.0 269.7L239.5 269.7L240.0 269.7L240.5 269.7L240.9 269.7L241.4 269.7L241.9 269.7L242.4 269.7L242.9 269.7L243.4 269.7L243.8 269.7L244.3 269.7L244.8 269.7L245.3 269.7L245.8 269.7L246.3 269.7L246.7 269.7L247.2 269.7L247.7 269.7L248.2 269.7L248.7 269.8L249.2 269.8L249.6 269.8L250.1 269.8L250.6 269.9L251.1 270.0L251.6 270.0L252.1 270.1L252.6 270.3L253.0 270.4L253.5 270.6L254.0 270.8L254.5 271.0L255.0 271.3L255.5 271.7L255.9 272.1L256.4 272.5L256.9 273.0L257.4 273.5L257.9 274.0L258.4 274.5L258.8 275.1L259.3 275.5L259.8 276.0L260.3 276.4L260.8 276.7L261.3 277.0L261.7 277.3L262.2 277.5L262.7 277.7L263.2 277.8L263.7 277.9L264.2 278.0L264.7 278.1L265.1 278.2L265.6 278.2L266.1 278.2L266.6 278.3L267.1 278.3L267.6 278.3L268.0 278.3V278.4H201.8Z" fill="#30205a" opacity="0.22"/><path d="M202.2 278.3L202.7 278.3L203.2 278.3L203.7 278.2L204.2 278.2L204.6 278.1L205.1 278.1L205.6 278.0L206.1 277.8L206.6 277.7L207.1 277.5L207.5 277.3L208.0 277.0L208.5 276.6L209.0 276.2L209.5 275.8L210.0 275.3L210.4 274.7L210.9 274.1L211.4 273.6L211.9 273.0L212.4 272.5L212.9 272.0L213.3 271.6L213.8 271.2L214.3 270.9L214.8 270.7L215.3 270.4L215.8 270.3L216.3 270.1L216.7 270.0L217.2 270.0L217.7 269.9L218.2 269.8L218.7 269.8L219.2 269.8L219.6 269.7L220.1 269.7L220.6 269.7L221.1 269.7L221.6 269.7L222.1 269.7L222.5 269.7L223.0 269.7L223.5 269.7L224.0 269.7L224.5 269.7L225.0 269.7L225.4 269.7L225.9 269.7L226.4 269.7L226.9 269.7L227.4 269.7L227.9 269.7L228.4 269.7L228.8 269.7L229.3 269.7L229.8 269.7L230.3 269.7L230.8 269.7L231.3 269.7L231.7 269.7L232.2 269.7L232.7 269.7L233.2 269.7L233.7 269.7L234.2 269.7L234.6 269.7L235.1 269.7L235.6 269.7L236.1 269.7L236.6 269.7L237.1 269.7L237.5 269.7L238.0 269.7L238.5 269.7L239.0 269.7L239.5 269.7L240.0 269.7L240.5 269.7L240.9 269.7L241.4 269.7L241.9 269.7L242.4 269.7L242.9 269.7L243.4 269.7L243.8 269.7L244.3 269.7L244.8 269.7L245.3 269.7L245.8 269.7L246.3 269.7L246.7 269.7L247.2 269.7L247.7 269.7L248.2 269.7L248.7 269.8L249.2 269.8L249.6 269.8L250.1 269.8L250.6 269.9L251.1 270.0L251.6 270.0L252.1 270.1L252.6 270.3L253.0 270.4L253.5 270.6L254.0 270.8L254.5 271.0L255.0 271.3L255.5 271.7L255.9 272.1L256.4 272.5L256.9 273.0L257.4 273.5L257.9 274.0L258.4 274.5L258.8 275.1L259.3 275.5L259.8 276.0L260.3 276.4L260.8 276.7L261.3 277.0L261.7 277.3L262.2 277.5L262.7 277.7L263.2 277.8L263.7 277.9L264.2 278.0L264.7 278.1L265.1 278.2L265.6 278.2L266.1 278.2L266.6 278.3L267.1 278.3L267.6 278.3L268.0 278.3V278.4H201.8Z" fill="url(#hl1)" opacity="0.5"/></g>
<path d="M199.3 278.3L199.8 278.3L200.3 278.3L200.8 278.2L201.2 278.2L201.7 278.1L202.2 278.1L202.7 278.0L203.2 277.9L203.7 277.7L204.2 277.6L204.6 277.5L205.1 277.3L205.6 277.2L206.1 277.1L206.6 277.0L207.1 276.9L207.5 276.9L208.0 276.8L208.5 276.8L209.0 276.8L209.5 276.8L210.0 276.8L210.4 276.8L210.9 276.8L211.4 276.9L211.9 276.9L212.4 276.9L212.9 277.0L213.3 277.0L213.8 277.0L214.3 277.0L214.8 277.1L215.3 277.1L215.8 277.1L216.3 277.2L216.7 277.2L217.2 277.2L217.7 277.3L218.2 277.3L218.7 277.3L219.2 277.3L219.6 277.4L220.1 277.4L220.6 277.4L221.1 277.4L221.6 277.5L222.1 277.5L222.5 277.5L223.0 277.5L223.5 277.6L224.0 277.6L224.5 277.6L225.0 277.6L225.4 277.6L225.9 277.7L226.4 277.7L226.9 277.7L227.4 277.7L227.9 277.7L228.4 277.7L228.8 277.8L229.3 277.8L229.8 277.8L230.3 277.8L230.8 277.8L231.3 277.8L231.7 277.8L232.2 277.9L232.7 277.9L233.2 277.9L233.7 277.9L234.2 277.9L234.6 277.9L235.1 277.9L235.6 277.9L236.1 278.0L236.6 278.0L237.1 278.0L237.5 278.0L238.0 278.0L238.5 278.0L239.0 278.0L239.5 278.0L240.0 278.0L240.5 278.0L240.9 278.1L241.4 278.1L241.9 278.1L242.4 278.1L242.9 278.1L243.4 278.1L243.8 278.1L244.3 278.1L244.8 278.1L245.3 278.1L245.8 278.1L246.3 278.1L246.7 278.1L247.2 278.2L247.7 278.2L248.2 278.2L248.7 278.2L249.2 278.2L249.6 278.2L250.1 278.2L250.6 278.2L251.1 278.2L251.6 278.2L252.1 278.2L252.6 278.2L253.0 278.2L253.5 278.2L254.0 278.2L254.5 278.2L255.0 278.2L255.5 278.2L255.9 278.2L256.4 278.2L256.9 278.2L257.4 278.3L257.9 278.3L258.4 278.3L258.8 278.3L259.3 278.3L259.8 278.3L260.3 278.3L260.8 278.3L261.3 278.3L261.7 278.3L262.2 278.3L262.7 278.3L263.2 278.3L263.7 278.3L264.2 278.3L264.7 278.3L265.1 278.3L265.6 278.3L266.1 278.3L266.6 278.3L267.1 278.3L267.6 278.3L268.0 278.3V278.4H199.3Z" fill="#6a6ab4" opacity="0.35"/>
<path d="M194.5 278.4L195.0 278.4L195.4 278.4L195.9 278.4L196.4 278.3L196.9 278.3L197.4 278.4L197.9 278.4L198.3 277.9L198.8 277.5L199.3 277.0L199.8 276.5L200.3 276.4L200.8 276.6L201.2 277.1L201.7 277.6L202.2 277.8L202.7 278.0L203.2 277.9L203.7 277.8L204.2 277.9L204.6 277.8L205.1 277.2L205.6 274.6L206.1 272.1L206.6 267.2L207.1 261.2L207.5 255.1L208.0 248.8L208.5 242.4L209.0 236.0L209.5 229.5L210.0 222.7L210.4 215.9L210.9 208.4L211.4 200.8L211.9 192.3L212.4 184.3L212.9 176.5L213.3 172.5L213.8 172.8L214.3 177.6L214.8 185.0L215.3 192.5L215.8 199.3L216.3 205.6L216.7 212.5L217.2 218.6L217.7 223.3L218.2 229.3L218.7 236.0L219.2 242.0L219.6 246.2L220.1 252.1L220.6 259.1L221.1 263.0L221.6 266.0L222.1 266.9L222.5 265.7L223.0 265.7L223.5 266.0L224.0 266.1L224.5 265.5L225.0 265.6L225.4 266.1L225.9 266.2L226.4 265.0L226.9 265.1L227.4 266.9L227.9 267.0L228.4 266.4L228.8 266.4L229.3 266.9L229.8 266.9L230.3 267.0L230.8 267.0L231.3 267.8L231.7 267.8L232.2 266.2L232.7 266.2L233.2 267.8L233.7 267.8L234.2 266.4L234.6 266.3L235.1 266.2L235.6 266.2L236.1 266.2L236.6 266.1L237.1 267.4L237.5 267.4L238.0 265.6L238.5 265.5L239.0 266.4L239.5 266.3L240.0 265.4L240.5 265.3L240.9 265.7L241.4 265.5L241.9 263.7L242.4 263.5L242.9 265.1L243.4 264.8L243.8 264.3L244.3 264.1L244.8 263.5L245.3 263.2L245.8 264.1L246.3 263.7L246.7 262.7L247.2 262.2L247.7 261.6L248.2 261.1L248.7 260.2L249.2 259.6L249.6 259.4L250.1 258.7L250.6 256.5L251.1 255.8L251.6 255.0L252.1 254.3L252.6 254.2L253.0 253.7L253.5 254.1L254.0 253.8L254.5 253.2L255.0 253.3L255.5 252.5L255.9 252.9L256.4 253.8L256.9 254.6L257.4 256.3L257.9 257.4L258.4 259.4L258.8 260.6L259.3 260.8L259.8 262.1L260.3 263.7L260.8 265.1L261.3 266.9L261.7 268.2L262.2 269.5L262.7 270.6L263.2 272.5L263.7 273.4L264.2 274.3L264.7 275.0L265.1 275.5L265.6 276.1L266.1 275.4L266.6 275.8L267.1 276.4L267.6 276.7L268.0 277.0L268.5 277.2L269.0 277.3L269.5 277.5L270.0 277.4L270.5 277.5L270.9 277.9L271.4 278.0L271.9 277.9L272.4 278.0L272.9 278.1L273.4 278.2L273.8 277.9L274.3 277.9L274.8 278.2L275.3 278.2L275.8 278.0L276.3 278.1L276.8 278.1L277.2 278.2L277.7 278.3" fill="none" stroke="#2a2a2a" stroke-width="0.55" stroke-linejoin="round"/>
<path d="M166.4 158.8V278.4M164.8 278.4H283.1" stroke="#555" stroke-width="0.6"/>
<path d="M166.4 278.4h-2.3M166.4 273.2h-1.2M166.4 267.9h-1.2M166.4 262.7h-1.2M166.4 257.4h-1.2M166.4 252.2h-2.3M166.4 246.9h-1.2M166.4 241.7h-1.2M166.4 236.4h-1.2M166.4 231.2h-1.2M166.4 226.0h-2.3M166.4 220.7h-1.2M166.4 215.5h-1.2M166.4 210.2h-1.2M166.4 205.0h-1.2M166.4 199.7h-2.3M166.4 194.5h-1.2M166.4 189.3h-1.2M166.4 184.0h-1.2M166.4 178.8h-1.2M166.4 173.5h-2.3M166.4 168.3h-1.2M166.4 163.0h-1.2M166.4 278.4v2.4M171.2 278.4v1.2M176.1 278.4v1.2M180.9 278.4v1.2M185.8 278.4v2.4M190.6 278.4v1.2M195.4 278.4v1.2M200.3 278.4v1.2M205.1 278.4v2.4M210.0 278.4v1.2M214.8 278.4v1.2M219.6 278.4v1.2M224.5 278.4v2.4M229.3 278.4v1.2M234.2 278.4v1.2M239.0 278.4v1.2M243.8 278.4v2.4M248.7 278.4v1.2M253.5 278.4v1.2M258.4 278.4v1.2M263.2 278.4v2.4M268.0 278.4v1.2M272.9 278.4v1.2M277.7 278.4v1.2M282.6 278.4v2.4" stroke="#555" stroke-width="0.5"/>
<text x="166.4" y="285.5" font-size="2.9" text-anchor="middle" fill="#555">0</text>
<text x="185.8" y="285.5" font-size="2.9" text-anchor="middle" fill="#555">20</text>
<text x="205.1" y="285.5" font-size="2.9" text-anchor="middle" fill="#555">40</text>
<text x="224.5" y="285.5" font-size="2.9" text-anchor="middle" fill="#555">60</text>
<text x="243.8" y="285.5" font-size="2.9" text-anchor="middle" fill="#555">80</text>
<text x="263.2" y="285.5" font-size="2.9" text-anchor="middle" fill="#555">100</text>
<text x="282.6" y="285.5" font-size="2.9" text-anchor="middle" fill="#555">120</text>
<text x="162.8" y="278.4" font-size="2.9" text-anchor="middle" fill="#555" transform="rotate(-90 162.8 278.4)">0</text>
<text x="162.8" y="252.2" font-size="2.9" text-anchor="middle" fill="#555" transform="rotate(-90 162.8 252.2)">300</text>
<text x="162.8" y="226.0" font-size="2.9" text-anchor="middle" fill="#555" transform="rotate(-90 162.8 226.0)">600</text>
<text x="162.8" y="199.7" font-size="2.9" text-anchor="middle" fill="#555" transform="rotate(-90 162.8 199.7)">900</text>
<text x="162.8" y="173.5" font-size="2.9" text-anchor="middle" fill="#555" transform="rotate(-90 162.8 173.5)">1200</text>
<path d="M213.4 279.6l1.7 3.3h-3.4z" fill="#111"/>
<path d="M256.4 279.6l1.7 3.3h-3.4z" fill="#111"/>
<rect x="257.5" y="153.50" width="4.9" height="3.4" fill="#b2aadc"/>
<text x="264.7" y="156.30" font-size="3" fill="#4444a8">Debris</text>
<rect x="257.5" y="157.85" width="4.9" height="3.4" fill="#a8d8a0"/>
<text x="264.7" y="160.65" font-size="3" fill="#4444a8">Aggregates</text>
<rect x="257.5" y="162.20" width="4.9" height="3.4" fill="#e6261c"/>
<text x="264.7" y="165.00" font-size="3" fill="#4444a8">Dip G1</text>
<rect x="257.5" y="166.55" width="4.9" height="3.4" fill="#e6261c"/>
<text x="264.7" y="169.35" font-size="3" fill="#4444a8">Dip G2</text>
<rect x="257.5" y="170.90" width="4.9" height="3.4" fill="#e4e4f0" stroke="#b0b0cc" stroke-width=".4"/>
<text x="264.7" y="173.70" font-size="3" fill="#4444a8">Dip S</text>
<rect x="257.5" y="175.25" width="4.9" height="3.4" fill="#e0da2c"/>
<text x="264.7" y="178.05" font-size="3" fill="#4444a8">An1 G1</text>
</g>
<g><defs><pattern id="ht2" width="1.5" height="1.5" patternUnits="userSpaceOnUse" patternTransform="rotate(45)"><rect width="1.5" height="1.5" fill="#dedef2"/><path d="M0 0H1.5" stroke="#8c8cc4" stroke-width="0.45"/></pattern><pattern id="hl2" width="1.5" height="1.5" patternUnits="userSpaceOnUse" patternTransform="rotate(45)"><path d="M0 0H1.5M0 0V1.5" stroke="#40306a" stroke-width="0.5"/></pattern></defs>
<path d="M334.4 278.3L334.8 278.3L335.3 278.2L335.8 278.2L336.3 278.1L336.8 278.1L337.3 278.0L337.8 277.8L338.3 277.7L338.8 277.5L339.3 277.2L339.8 276.9L340.2 276.5L340.7 276.0L341.2 275.5L341.7 274.8L342.2 274.1L342.7 273.2L343.2 272.4L343.7 271.4L344.2 270.5L344.7 269.7L345.2 268.8L345.7 268.1L346.1 267.4L346.6 266.9L347.1 266.4L347.6 266.0L348.1 265.7L348.6 265.4L349.1 265.2L349.6 265.1L350.1 264.9L350.6 264.8L351.1 264.8L351.5 264.7L352.0 264.6L352.5 264.6L353.0 264.6L353.5 264.6L354.0 264.5L354.5 264.5L355.0 264.5L355.5 264.5L356.0 264.5L356.5 264.5L356.9 264.5L357.4 264.5L357.9 264.5L358.4 264.5L358.9 264.5L359.4 264.5L359.9 264.5L360.4 264.5L360.9 264.5L361.4 264.5L361.9 264.5L362.4 264.5L362.8 264.5L363.3 264.5L363.8 264.5L364.3 264.5L364.8 264.5L365.3 264.5L365.8 264.5L366.3 264.5L366.8 264.5L367.3 264.5L367.8 264.5L368.2 264.5L368.7 264.5L369.2 264.5L369.7 264.5L370.2 264.5L370.7 264.5L371.2 264.5L371.7 264.5L372.2 264.5L372.7 264.5L373.2 264.5L373.7 264.5L374.1 264.5L374.6 264.5L375.1 264.5L375.6 264.5L376.1 264.5L376.6 264.5L377.1 264.5L377.6 264.5L378.1 264.5L378.6 264.5L379.1 264.5L379.5 264.5L380.0 264.6L380.5 264.6L381.0 264.6L381.5 264.6L382.0 264.7L382.5 264.7L383.0 264.8L383.5 264.9L384.0 265.0L384.5 265.1L385.0 265.2L385.4 265.4L385.9 265.7L386.4 266.0L386.9 266.3L387.4 266.7L387.9 267.2L388.4 267.7L388.9 268.4L389.4 269.1L389.9 269.8L390.4 270.6L390.8 271.4L391.3 272.3L391.8 273.1L392.3 273.8L392.8 274.5L393.3 275.2L393.8 275.7L394.3 276.2L394.8 276.6L395.3 276.9L395.8 277.2L396.2 277.5L396.7 277.6L397.2 277.8L397.7 277.9L398.2 278.0L398.7 278.1L399.2 278.2L399.7 278.2L400.2 278.3L400.7 278.3L401.2 278.3V278.4H334.4Z" fill="url(#ht2)" stroke="#8e8ec0" stroke-width="0.35"/>
<path d="M334.4 278.4L334.8 278.4L335.3 278.4L335.8 278.4L336.3 278.4L336.8 277.8L337.3 276.0L337.8 273.0L338.3 268.7L338.8 263.6L339.3 258.1L339.8 252.5L340.2 246.6L340.7 240.5L341.2 234.3L341.7 228.0L342.2 221.6L342.7 215.0L343.2 208.3L343.7 201.6L344.2 194.7L344.7 187.8L345.2 180.8L345.7 175.5L346.1 173.5L346.6 175.5L347.1 180.8L347.6 187.8L348.1 194.7L348.6 201.6L349.1 208.3L349.6 215.0L350.1 221.6L350.6 228.0L351.1 234.3L351.5 240.5L352.0 246.6L352.5 252.5L353.0 258.1L353.5 263.6L354.0 268.7L354.5 273.0L355.0 276.0L355.5 277.8L356.0 278.4L356.5 278.4L356.9 278.4L357.4 278.4L357.9 278.4V278.4H334.4Z" fill="#e4241a"/>
<path d="M378.6 278.3L379.1 278.2L379.5 278.1L380.0 277.9L380.5 277.7L381.0 277.4L381.5 277.0L382.0 276.4L382.5 275.7L383.0 274.7L383.5 273.6L384.0 272.2L384.5 270.7L385.0 268.9L385.4 267.0L385.9 265.0L386.4 262.9L386.9 261.0L387.4 259.2L387.9 257.7L388.4 256.6L388.9 255.8L389.4 255.6L389.9 255.8L390.4 256.6L390.8 257.7L391.3 259.2L391.8 261.0L392.3 262.9L392.8 265.0L393.3 267.0L393.8 268.9L394.3 270.7L394.8 272.2L395.3 273.6L395.8 274.7L396.2 275.7L396.7 276.4L397.2 277.0L397.7 277.4L398.2 277.7L398.7 277.9L399.2 278.1L399.7 278.2L400.2 278.3V278.4H378.6Z" fill="#d8d62a"/>
<clipPath id="ov2"><path d="M334.4 278.4L334.8 278.4L335.3 278.4L335.8 278.4L336.3 278.4L336.8 277.8L337.3 276.0L337.8 273.0L338.3 268.7L338.8 263.6L339.3 258.1L339.8 252.5L340.2 246.6L340.7 240.5L341.2 234.3L341.7 228.0L342.2 221.6L342.7 215.0L343.2 208.3L343.7 201.6L344.2 194.7L344.7 187.8L345.2 180.8L345.7 175.5L346.1 173.5L346.6 175.5L347.1 180.8L347.6 187.8L348.1 194.7L348.6 201.6L349.1 208.3L349.6 215.0L350.1 221.6L350.6 228.0L351.1 234.3L351.5 240.5L352.0 246.6L352.5 252.5L353.0 258.1L353.5 263.6L354.0 268.7L354.5 273.0L355.0 276.0L355.5 277.8L356.0 278.4L356.5 278.4L356.9 278.4L357.4 278.4L357.9 278.4V278.4H334.4Z"/><path d="M378.6 278.3L379.1 278.2L379.5 278.1L380.0 277.9L380.5 277.7L381.0 277.4L381.5 277.0L382.0 276.4L382.5 275.7L383.0 274.7L383.5 273.6L384.0 272.2L384.5 270.7L385.0 268.9L385.4 267.0L385.9 265.0L386.4 262.9L386.9 261.0L387.4 259.2L387.9 257.7L388.4 256.6L388.9 255.8L389.4 255.6L389.9 255.8L390.4 256.6L390.8 257.7L391.3 259.2L391.8 261.0L392.3 262.9L392.8 265.0L393.3 267.0L393.8 268.9L394.3 270.7L394.8 272.2L395.3 273.6L395.8 274.7L396.2 275.7L396.7 276.4L397.2 277.0L397.7 277.4L398.2 277.7L398.7 277.9L399.2 278.1L399.7 278.2L400.2 278.3V278.4H378.6Z"/></clipPath>
<g clip-path="url(#ov2)"><path d="M334.4 278.3L334.8 278.3L335.3 278.2L335.8 278.2L336.3 278.1L336.8 278.1L337.3 278.0L337.8 277.8L338.3 277.7L338.8 277.5L339.3 277.2L339.8 276.9L340.2 276.5L340.7 276.0L341.2 275.5L341.7 274.8L342.2 274.1L342.7 273.2L343.2 272.4L343.7 271.4L344.2 270.5L344.7 269.7L345.2 268.8L345.7 268.1L346.1 267.4L346.6 266.9L347.1 266.4L347.6 266.0L348.1 265.7L348.6 265.4L349.1 265.2L349.6 265.1L350.1 264.9L350.6 264.8L351.1 264.8L351.5 264.7L352.0 264.6L352.5 264.6L353.0 264.6L353.5 264.6L354.0 264.5L354.5 264.5L355.0 264.5L355.5 264.5L356.0 264.5L356.5 264.5L356.9 264.5L357.4 264.5L357.9 264.5L358.4 264.5L358.9 264.5L359.4 264.5L359.9 264.5L360.4 264.5L360.9 264.5L361.4 264.5L361.9 264.5L362.4 264.5L362.8 264.5L363.3 264.5L363.8 264.5L364.3 264.5L364.8 264.5L365.3 264.5L365.8 264.5L366.3 264.5L366.8 264.5L367.3 264.5L367.8 264.5L368.2 264.5L368.7 264.5L369.2 264.5L369.7 264.5L370.2 264.5L370.7 264.5L371.2 264.5L371.7 264.5L372.2 264.5L372.7 264.5L373.2 264.5L373.7 264.5L374.1 264.5L374.6 264.5L375.1 264.5L375.6 264.5L376.1 264.5L376.6 264.5L377.1 264.5L377.6 264.5L378.1 264.5L378.6 264.5L379.1 264.5L379.5 264.5L380.0 264.6L380.5 264.6L381.0 264.6L381.5 264.6L382.0 264.7L382.5 264.7L383.0 264.8L383.5 264.9L384.0 265.0L384.5 265.1L385.0 265.2L385.4 265.4L385.9 265.7L386.4 266.0L386.9 266.3L387.4 266.7L387.9 267.2L388.4 267.7L388.9 268.4L389.4 269.1L389.9 269.8L390.4 270.6L390.8 271.4L391.3 272.3L391.8 273.1L392.3 273.8L392.8 274.5L393.3 275.2L393.8 275.7L394.3 276.2L394.8 276.6L395.3 276.9L395.8 277.2L396.2 277.5L396.7 277.6L397.2 277.8L397.7 277.9L398.2 278.0L398.7 278.1L399.2 278.2L399.7 278.2L400.2 278.3L400.7 278.3L401.2 278.3V278.4H334.4Z" fill="#30205a" opacity="0.22"/><path d="M334.4 278.3L334.8 278.3L335.3 278.2L335.8 278.2L336.3 278.1L336.8 278.1L337.3 278.0L337.8 277.8L338.3 277.7L338.8 277.5L339.3 277.2L339.8 276.9L340.2 276.5L340.7 276.0L341.2 275.5L341.7 274.8L342.2 274.1L342.7 273.2L343.2 272.4L343.7 271.4L344.2 270.5L344.7 269.7L345.2 268.8L345.7 268.1L346.1 267.4L346.6 266.9L347.1 266.4L347.6 266.0L348.1 265.7L348.6 265.4L349.1 265.2L349.6 265.1L350.1 264.9L350.6 264.8L351.1 264.8L351.5 264.7L352.0 264.6L352.5 264.6L353.0 264.6L353.5 264.6L354.0 264.5L354.5 264.5L355.0 264.5L355.5 264.5L356.0 264.5L356.5 264.5L356.9 264.5L357.4 264.5L357.9 264.5L358.4 264.5L358.9 264.5L359.4 264.5L359.9 264.5L360.4 264.5L360.9 264.5L361.4 264.5L361.9 264.5L362.4 264.5L362.8 264.5L363.3 264.5L363.8 264.5L364.3 264.5L364.8 264.5L365.3 264.5L365.8 264.5L366.3 264.5L366.8 264.5L367.3 264.5L367.8 264.5L368.2 264.5L368.7 264.5L369.2 264.5L369.7 264.5L370.2 264.5L370.7 264.5L371.2 264.5L371.7 264.5L372.2 264.5L372.7 264.5L373.2 264.5L373.7 264.5L374.1 264.5L374.6 264.5L375.1 264.5L375.6 264.5L376.1 264.5L376.6 264.5L377.1 264.5L377.6 264.5L378.1 264.5L378.6 264.5L379.1 264.5L379.5 264.5L380.0 264.6L380.5 264.6L381.0 264.6L381.5 264.6L382.0 264.7L382.5 264.7L383.0 264.8L383.5 264.9L384.0 265.0L384.5 265.1L385.0 265.2L385.4 265.4L385.9 265.7L386.4 266.0L386.9 266.3L387.4 266.7L387.9 267.2L388.4 267.7L388.9 268.4L389.4 269.1L389.9 269.8L390.4 270.6L390.8 271.4L391.3 272.3L391.8 273.1L392.3 273.8L392.8 274.5L393.3 275.2L393.8 275.7L394.3 276.2L394.8 276.6L395.3 276.9L395.8 277.2L396.2 277.5L396.7 277.6L397.2 277.8L397.7 277.9L398.2 278.0L398.7 278.1L399.2 278.2L399.7 278.2L400.2 278.3L400.7 278.3L401.2 278.3V278.4H334.4Z" fill="url(#hl2)" opacity="0.5"/></g>
<path d="M331.4 278.3L331.9 278.3L332.4 278.2L332.9 278.2L333.4 278.1L333.9 278.0L334.4 277.9L334.8 277.8L335.3 277.6L335.8 277.5L336.3 277.3L336.8 277.1L337.3 276.9L337.8 276.7L338.3 276.6L338.8 276.4L339.3 276.3L339.8 276.2L340.2 276.2L340.7 276.2L341.2 276.1L341.7 276.1L342.2 276.2L342.7 276.2L343.2 276.2L343.7 276.3L344.2 276.3L344.7 276.3L345.2 276.4L345.7 276.4L346.1 276.5L346.6 276.5L347.1 276.6L347.6 276.6L348.1 276.6L348.6 276.7L349.1 276.7L349.6 276.8L350.1 276.8L350.6 276.8L351.1 276.9L351.5 276.9L352.0 277.0L352.5 277.0L353.0 277.0L353.5 277.1L354.0 277.1L354.5 277.1L355.0 277.2L355.5 277.2L356.0 277.2L356.5 277.2L356.9 277.3L357.4 277.3L357.9 277.3L358.4 277.4L358.9 277.4L359.4 277.4L359.9 277.4L360.4 277.5L360.9 277.5L361.4 277.5L361.9 277.5L362.4 277.5L362.8 277.6L363.3 277.6L363.8 277.6L364.3 277.6L364.8 277.6L365.3 277.7L365.8 277.7L366.3 277.7L366.8 277.7L367.3 277.7L367.8 277.8L368.2 277.8L368.7 277.8L369.2 277.8L369.7 277.8L370.2 277.8L370.7 277.8L371.2 277.9L371.7 277.9L372.2 277.9L372.7 277.9L373.2 277.9L373.7 277.9L374.1 277.9L374.6 277.9L375.1 278.0L375.6 278.0L376.1 278.0L376.6 278.0L377.1 278.0L377.6 278.0L378.1 278.0L378.6 278.0L379.1 278.0L379.5 278.0L380.0 278.1L380.5 278.1L381.0 278.1L381.5 278.1L382.0 278.1L382.5 278.1L383.0 278.1L383.5 278.1L384.0 278.1L384.5 278.1L385.0 278.1L385.4 278.1L385.9 278.1L386.4 278.1L386.9 278.2L387.4 278.2L387.9 278.2L388.4 278.2L388.9 278.2L389.4 278.2L389.9 278.2L390.4 278.2L390.8 278.2L391.3 278.2L391.8 278.2L392.3 278.2L392.8 278.2L393.3 278.2L393.8 278.2L394.3 278.2L394.8 278.2L395.3 278.2L395.8 278.2L396.2 278.2L396.7 278.3L397.2 278.3L397.7 278.3L398.2 278.3L398.7 278.3L399.2 278.3L399.7 278.3L400.2 278.3L400.7 278.3L401.2 278.3V278.4H331.4Z" fill="#6a6ab4" opacity="0.35"/>
<path d="M326.5 278.3L327.0 278.3L327.5 278.4L328.0 278.4L328.5 278.2L328.9 278.2L329.4 278.4L329.9 278.4L330.4 278.0L330.9 277.5L331.4 277.1L331.9 276.5L332.4 276.2L332.9 276.3L333.4 276.8L333.9 277.3L334.4 277.7L334.8 277.9L335.3 277.8L335.8 277.8L336.3 277.2L336.8 274.9L337.3 273.7L337.8 269.7L338.3 264.8L338.8 259.5L339.3 254.1L339.8 248.3L340.2 241.9L340.7 235.8L341.2 230.1L341.7 223.7L342.2 217.7L342.7 211.0L343.2 202.1L343.7 194.9L344.2 188.9L344.7 181.1L345.2 172.0L345.7 165.4L346.1 162.3L346.6 163.2L347.1 167.6L347.6 174.7L348.1 179.5L348.6 185.6L349.1 191.2L349.6 197.2L350.1 204.8L350.6 210.8L351.1 216.9L351.5 222.8L352.0 226.9L352.5 232.7L353.0 240.4L353.5 245.8L354.0 250.6L354.5 255.5L355.0 259.1L355.5 261.7L356.0 263.0L356.5 263.4L356.9 261.9L357.4 262.0L357.9 263.1L358.4 263.1L358.9 264.4L359.4 264.5L359.9 262.0L360.4 262.1L360.9 262.7L361.4 262.8L361.9 263.4L362.4 263.4L362.8 261.9L363.3 261.9L363.8 262.6L364.3 262.6L364.8 262.7L365.3 262.7L365.8 263.7L366.3 263.7L366.8 263.2L367.3 263.1L367.8 261.9L368.2 261.8L368.7 262.4L369.2 262.3L369.7 262.9L370.2 262.8L370.7 263.5L371.2 263.3L371.7 261.8L372.2 261.6L372.7 261.6L373.2 261.4L373.7 260.5L374.1 260.3L374.6 260.2L375.1 260.0L375.6 259.5L376.1 259.2L376.6 259.5L377.1 259.1L377.6 258.4L378.1 258.0L378.6 258.2L379.1 257.7L379.5 256.5L380.0 255.9L380.5 255.1L381.0 254.4L381.5 253.6L382.0 252.7L382.5 252.7L383.0 251.7L383.5 249.8L384.0 248.8L384.5 248.2L385.0 247.2L385.4 247.0L385.9 246.3L386.4 244.8L386.9 244.4L387.4 243.7L387.9 243.8L388.4 244.9L388.9 245.5L389.4 244.7L389.9 245.8L390.4 248.0L390.8 249.4L391.3 250.4L391.8 252.0L392.3 254.1L392.8 255.9L393.3 259.6L393.8 261.4L394.3 263.3L394.8 265.1L395.3 265.0L395.8 266.5L396.2 268.6L396.7 269.9L397.2 271.2L397.7 272.2L398.2 272.3L398.7 273.1L399.2 274.0L399.7 274.6L400.2 275.1L400.7 275.6L401.2 276.2L401.7 276.5L402.1 276.5L402.6 276.8L403.1 277.4L403.6 277.5L404.1 277.3L404.6 277.4L405.1 277.7L405.6 277.8L406.1 277.7L406.6 277.8L407.1 277.9L407.5 278.0L408.0 278.0L408.5 278.0L409.0 277.9L409.5 278.0L410.0 278.2L410.5 278.2L411.0 278.4" fill="none" stroke="#2a2a2a" stroke-width="0.55" stroke-linejoin="round"/>
<path d="M298.0 159.1V278.4M296.4 278.4H416.4" stroke="#555" stroke-width="0.6"/>
<path d="M298.0 278.4h-2.3M298.0 273.5h-1.2M298.0 268.6h-1.2M298.0 263.8h-1.2M298.0 258.9h-1.2M298.0 254.0h-2.3M298.0 249.1h-1.2M298.0 244.2h-1.2M298.0 239.4h-1.2M298.0 234.5h-1.2M298.0 229.6h-2.3M298.0 224.7h-1.2M298.0 219.8h-1.2M298.0 215.0h-1.2M298.0 210.1h-1.2M298.0 205.2h-2.3M298.0 200.3h-1.2M298.0 195.4h-1.2M298.0 190.6h-1.2M298.0 185.7h-1.2M298.0 180.8h-2.3M298.0 175.9h-1.2M298.0 171.0h-1.2M298.0 166.2h-1.2M298.0 161.3h-1.2M298.0 278.4v2.4M302.9 278.4v1.2M307.8 278.4v1.2M312.7 278.4v1.2M317.6 278.4v2.4M322.6 278.4v1.2M327.5 278.4v1.2M332.4 278.4v1.2M337.3 278.4v2.4M342.2 278.4v1.2M347.1 278.4v1.2M352.0 278.4v1.2M356.9 278.4v2.4M361.9 278.4v1.2M366.8 278.4v1.2M371.7 278.4v1.2M376.6 278.4v2.4M381.5 278.4v1.2M386.4 278.4v1.2M391.3 278.4v1.2M396.2 278.4v2.4M401.2 278.4v1.2M406.1 278.4v1.2M411.0 278.4v1.2M415.9 278.4v2.4" stroke="#555" stroke-width="0.5"/>
<text x="298.0" y="285.5" font-size="2.9" text-anchor="middle" fill="#555">0</text>
<text x="317.6" y="285.5" font-size="2.9" text-anchor="middle" fill="#555">20</text>
<text x="337.3" y="285.5" font-size="2.9" text-anchor="middle" fill="#555">40</text>
<text x="356.9" y="285.5" font-size="2.9" text-anchor="middle" fill="#555">60</text>
<text x="376.6" y="285.5" font-size="2.9" text-anchor="middle" fill="#555">80</text>
<text x="396.2" y="285.5" font-size="2.9" text-anchor="middle" fill="#555">100</text>
<text x="415.9" y="285.5" font-size="2.9" text-anchor="middle" fill="#555">120</text>
<text x="294.4" y="278.4" font-size="2.9" text-anchor="middle" fill="#555" transform="rotate(-90 294.4 278.4)">0</text>
<text x="294.4" y="254.0" font-size="2.9" text-anchor="middle" fill="#555" transform="rotate(-90 294.4 254.0)">200</text>
<text x="294.4" y="229.6" font-size="2.9" text-anchor="middle" fill="#555" transform="rotate(-90 294.4 229.6)">400</text>
<text x="294.4" y="205.2" font-size="2.9" text-anchor="middle" fill="#555" transform="rotate(-90 294.4 205.2)">600</text>
<text x="294.4" y="180.8" font-size="2.9" text-anchor="middle" fill="#555" transform="rotate(-90 294.4 180.8)">800</text>
<path d="M346.1 279.6l1.7 3.3h-3.4z" fill="#111"/>
<path d="M389.4 279.6l1.7 3.3h-3.4z" fill="#111"/>
<rect x="390.3" y="153.50" width="4.9" height="3.4" fill="#b2aadc"/>
<text x="397.5" y="156.30" font-size="3" fill="#4444a8">Debris</text>
<rect x="390.3" y="157.85" width="4.9" height="3.4" fill="#a8d8a0"/>
<text x="397.5" y="160.65" font-size="3" fill="#4444a8">Aggregates</text>
<rect x="390.3" y="162.20" width="4.9" height="3.4" fill="#e6261c"/>
<text x="397.5" y="165.00" font-size="3" fill="#4444a8">Dip G1</text>
<rect x="390.3" y="166.55" width="4.9" height="3.4" fill="#e6261c"/>
<text x="397.5" y="169.35" font-size="3" fill="#4444a8">Dip G2</text>
<rect x="390.3" y="170.90" width="4.9" height="3.4" fill="#e4e4f0" stroke="#b0b0cc" stroke-width=".4"/>
<text x="397.5" y="173.70" font-size="3" fill="#4444a8">Dip S</text>
<rect x="390.3" y="175.25" width="4.9" height="3.4" fill="#e0da2c"/>
<text x="397.5" y="178.05" font-size="3" fill="#4444a8">An1 G1</text>
</g>
<g><defs><pattern id="ht3" width="1.5" height="1.5" patternUnits="userSpaceOnUse" patternTransform="rotate(45)"><rect width="1.5" height="1.5" fill="#dedef2"/><path d="M0 0H1.5" stroke="#8c8cc4" stroke-width="0.45"/></pattern><pattern id="hl3" width="1.5" height="1.5" patternUnits="userSpaceOnUse" patternTransform="rotate(45)"><path d="M0 0H1.5M0 0V1.5" stroke="#40306a" stroke-width="0.5"/></pattern></defs>
<path d="M467.8 278.3L468.3 278.3L468.8 278.2L469.2 278.2L469.7 278.1L470.2 278.0L470.6 277.9L471.1 277.8L471.6 277.6L472.1 277.4L472.5 277.2L473.0 276.8L473.5 276.4L473.9 276.0L474.4 275.4L474.9 274.7L475.3 274.0L475.8 273.2L476.3 272.3L476.8 271.4L477.2 270.5L477.7 269.6L478.2 268.9L478.6 268.1L479.1 267.5L479.6 267.0L480.0 266.5L480.5 266.2L481.0 265.9L481.5 265.6L481.9 265.4L482.4 265.3L482.9 265.1L483.3 265.1L483.8 265.0L484.3 264.9L484.8 264.9L485.2 264.8L485.7 264.8L486.2 264.8L486.6 264.8L487.1 264.8L487.6 264.8L488.0 264.8L488.5 264.8L489.0 264.7L489.4 264.7L489.9 264.7L490.4 264.7L490.9 264.7L491.3 264.7L491.8 264.7L492.3 264.7L492.7 264.7L493.2 264.7L493.7 264.7L494.1 264.7L494.6 264.7L495.1 264.7L495.6 264.7L496.0 264.7L496.5 264.7L497.0 264.7L497.4 264.7L497.9 264.7L498.4 264.7L498.8 264.7L499.3 264.7L499.8 264.7L500.3 264.7L500.7 264.7L501.2 264.7L501.7 264.7L502.1 264.7L502.6 264.7L503.1 264.7L503.5 264.7L504.0 264.7L504.5 264.7L505.0 264.7L505.4 264.7L505.9 264.7L506.4 264.7L506.8 264.7L507.3 264.7L507.8 264.7L508.2 264.7L508.7 264.8L509.2 264.8L509.7 264.8L510.1 264.8L510.6 264.8L511.1 264.8L511.5 264.8L512.0 264.8L512.5 264.8L513.0 264.9L513.4 264.9L513.9 265.0L514.4 265.0L514.8 265.1L515.3 265.2L515.8 265.3L516.2 265.4L516.7 265.6L517.2 265.8L517.6 266.1L518.1 266.4L518.6 266.8L519.1 267.3L519.5 267.8L520.0 268.4L520.5 269.1L520.9 269.8L521.4 270.6L521.9 271.4L522.4 272.2L522.8 273.0L523.3 273.8L523.8 274.5L524.2 275.1L524.7 275.7L525.2 276.1L525.6 276.6L526.1 276.9L526.6 277.2L527.0 277.4L527.5 277.6L528.0 277.8L528.5 277.9L528.9 278.0L529.4 278.1L529.9 278.2L530.3 278.2L530.8 278.2L531.3 278.3L531.8 278.3V278.4H467.7Z" fill="url(#ht3)" stroke="#8e8ec0" stroke-width="0.35"/>
<path d="M467.8 278.4L468.3 278.4L468.8 278.4L469.2 278.4L469.7 278.4L470.2 277.8L470.6 275.6L471.1 271.9L471.6 266.5L472.1 260.3L472.5 254.3L473.0 248.5L473.5 242.8L473.9 237.2L474.4 231.6L474.9 226.2L475.3 220.7L475.8 215.3L476.3 209.9L476.8 204.6L477.2 199.3L477.7 194.1L478.2 188.8L478.6 185.3L479.1 184.7L479.6 186.5L480.0 190.9L480.5 196.2L481.0 201.4L481.5 206.7L481.9 212.1L482.4 217.5L482.9 222.9L483.3 228.3L483.8 233.9L484.3 239.4L484.8 245.1L485.2 250.8L485.7 256.7L486.2 262.7L486.6 268.8L487.1 273.4L487.6 276.7L488.0 278.4L488.5 278.4L489.0 278.4L489.4 278.4L489.9 278.4V278.4H467.7Z" fill="#e4241a"/>
<path d="M510.6 278.3L511.1 278.2L511.5 278.1L512.0 277.9L512.5 277.6L513.0 277.3L513.4 276.9L513.9 276.3L514.4 275.6L514.8 274.7L515.3 273.6L515.8 272.3L516.2 270.9L516.7 269.4L517.2 267.7L517.6 266.1L518.1 264.5L518.6 263.0L519.1 261.7L519.5 260.7L520.0 260.0L520.5 259.7L520.9 259.9L521.4 260.4L521.9 261.3L522.4 262.4L522.8 263.9L523.3 265.4L523.8 267.1L524.2 268.7L524.7 270.3L525.2 271.8L525.6 273.1L526.1 274.3L526.6 275.2L527.0 276.0L527.5 276.7L528.0 277.1L528.5 277.5L528.9 277.8L529.4 278.0L529.9 278.1L530.3 278.2L530.8 278.3V278.4H510.2Z" fill="#d8d62a"/>
<clipPath id="ov3"><path d="M467.8 278.4L468.3 278.4L468.8 278.4L469.2 278.4L469.7 278.4L470.2 277.8L470.6 275.6L471.1 271.9L471.6 266.5L472.1 260.3L472.5 254.3L473.0 248.5L473.5 242.8L473.9 237.2L474.4 231.6L474.9 226.2L475.3 220.7L475.8 215.3L476.3 209.9L476.8 204.6L477.2 199.3L477.7 194.1L478.2 188.8L478.6 185.3L479.1 184.7L479.6 186.5L480.0 190.9L480.5 196.2L481.0 201.4L481.5 206.7L481.9 212.1L482.4 217.5L482.9 222.9L483.3 228.3L483.8 233.9L484.3 239.4L484.8 245.1L485.2 250.8L485.7 256.7L486.2 262.7L486.6 268.8L487.1 273.4L487.6 276.7L488.0 278.4L488.5 278.4L489.0 278.4L489.4 278.4L489.9 278.4V278.4H467.7Z"/><path d="M510.6 278.3L511.1 278.2L511.5 278.1L512.0 277.9L512.5 277.6L513.0 277.3L513.4 276.9L513.9 276.3L514.4 275.6L514.8 274.7L515.3 273.6L515.8 272.3L516.2 270.9L516.7 269.4L517.2 267.7L517.6 266.1L518.1 264.5L518.6 263.0L519.1 261.7L519.5 260.7L520.0 260.0L520.5 259.7L520.9 259.9L521.4 260.4L521.9 261.3L522.4 262.4L522.8 263.9L523.3 265.4L523.8 267.1L524.2 268.7L524.7 270.3L525.2 271.8L525.6 273.1L526.1 274.3L526.6 275.2L527.0 276.0L527.5 276.7L528.0 277.1L528.5 277.5L528.9 277.8L529.4 278.0L529.9 278.1L530.3 278.2L530.8 278.3V278.4H510.2Z"/></clipPath>
<g clip-path="url(#ov3)"><path d="M467.8 278.3L468.3 278.3L468.8 278.2L469.2 278.2L469.7 278.1L470.2 278.0L470.6 277.9L471.1 277.8L471.6 277.6L472.1 277.4L472.5 277.2L473.0 276.8L473.5 276.4L473.9 276.0L474.4 275.4L474.9 274.7L475.3 274.0L475.8 273.2L476.3 272.3L476.8 271.4L477.2 270.5L477.7 269.6L478.2 268.9L478.6 268.1L479.1 267.5L479.6 267.0L480.0 266.5L480.5 266.2L481.0 265.9L481.5 265.6L481.9 265.4L482.4 265.3L482.9 265.1L483.3 265.1L483.8 265.0L484.3 264.9L484.8 264.9L485.2 264.8L485.7 264.8L486.2 264.8L486.6 264.8L487.1 264.8L487.6 264.8L488.0 264.8L488.5 264.8L489.0 264.7L489.4 264.7L489.9 264.7L490.4 264.7L490.9 264.7L491.3 264.7L491.8 264.7L492.3 264.7L492.7 264.7L493.2 264.7L493.7 264.7L494.1 264.7L494.6 264.7L495.1 264.7L495.6 264.7L496.0 264.7L496.5 264.7L497.0 264.7L497.4 264.7L497.9 264.7L498.4 264.7L498.8 264.7L499.3 264.7L499.8 264.7L500.3 264.7L500.7 264.7L501.2 264.7L501.7 264.7L502.1 264.7L502.6 264.7L503.1 264.7L503.5 264.7L504.0 264.7L504.5 264.7L505.0 264.7L505.4 264.7L505.9 264.7L506.4 264.7L506.8 264.7L507.3 264.7L507.8 264.7L508.2 264.7L508.7 264.8L509.2 264.8L509.7 264.8L510.1 264.8L510.6 264.8L511.1 264.8L511.5 264.8L512.0 264.8L512.5 264.8L513.0 264.9L513.4 264.9L513.9 265.0L514.4 265.0L514.8 265.1L515.3 265.2L515.8 265.3L516.2 265.4L516.7 265.6L517.2 265.8L517.6 266.1L518.1 266.4L518.6 266.8L519.1 267.3L519.5 267.8L520.0 268.4L520.5 269.1L520.9 269.8L521.4 270.6L521.9 271.4L522.4 272.2L522.8 273.0L523.3 273.8L523.8 274.5L524.2 275.1L524.7 275.7L525.2 276.1L525.6 276.6L526.1 276.9L526.6 277.2L527.0 277.4L527.5 277.6L528.0 277.8L528.5 277.9L528.9 278.0L529.4 278.1L529.9 278.2L530.3 278.2L530.8 278.2L531.3 278.3L531.8 278.3V278.4H467.7Z" fill="#30205a" opacity="0.22"/><path d="M467.8 278.3L468.3 278.3L468.8 278.2L469.2 278.2L469.7 278.1L470.2 278.0L470.6 277.9L471.1 277.8L471.6 277.6L472.1 277.4L472.5 277.2L473.0 276.8L473.5 276.4L473.9 276.0L474.4 275.4L474.9 274.7L475.3 274.0L475.8 273.2L476.3 272.3L476.8 271.4L477.2 270.5L477.7 269.6L478.2 268.9L478.6 268.1L479.1 267.5L479.6 267.0L480.0 266.5L480.5 266.2L481.0 265.9L481.5 265.6L481.9 265.4L482.4 265.3L482.9 265.1L483.3 265.1L483.8 265.0L484.3 264.9L484.8 264.9L485.2 264.8L485.7 264.8L486.2 264.8L486.6 264.8L487.1 264.8L487.6 264.8L488.0 264.8L488.5 264.8L489.0 264.7L489.4 264.7L489.9 264.7L490.4 264.7L490.9 264.7L491.3 264.7L491.8 264.7L492.3 264.7L492.7 264.7L493.2 264.7L493.7 264.7L494.1 264.7L494.6 264.7L495.1 264.7L495.6 264.7L496.0 264.7L496.5 264.7L497.0 264.7L497.4 264.7L497.9 264.7L498.4 264.7L498.8 264.7L499.3 264.7L499.8 264.7L500.3 264.7L500.7 264.7L501.2 264.7L501.7 264.7L502.1 264.7L502.6 264.7L503.1 264.7L503.5 264.7L504.0 264.7L504.5 264.7L505.0 264.7L505.4 264.7L505.9 264.7L506.4 264.7L506.8 264.7L507.3 264.7L507.8 264.7L508.2 264.7L508.7 264.8L509.2 264.8L509.7 264.8L510.1 264.8L510.6 264.8L511.1 264.8L511.5 264.8L512.0 264.8L512.5 264.8L513.0 264.9L513.4 264.9L513.9 265.0L514.4 265.0L514.8 265.1L515.3 265.2L515.8 265.3L516.2 265.4L516.7 265.6L517.2 265.8L517.6 266.1L518.1 266.4L518.6 266.8L519.1 267.3L519.5 267.8L520.0 268.4L520.5 269.1L520.9 269.8L521.4 270.6L521.9 271.4L522.4 272.2L522.8 273.0L523.3 273.8L523.8 274.5L524.2 275.1L524.7 275.7L525.2 276.1L525.6 276.6L526.1 276.9L526.6 277.2L527.0 277.4L527.5 277.6L528.0 277.8L528.5 277.9L528.9 278.0L529.4 278.1L529.9 278.2L530.3 278.2L530.8 278.2L531.3 278.3L531.8 278.3V278.4H467.7Z" fill="url(#hl3)" opacity="0.5"/></g>
<path d="M460.8 278.2L461.2 278.2L461.7 278.1L462.2 278.0L462.7 277.9L463.1 277.8L463.6 277.6L464.1 277.4L464.5 277.2L465.0 276.9L465.5 276.6L465.9 276.3L466.4 276.0L466.9 275.7L467.4 275.5L467.8 275.2L468.3 275.1L468.8 275.0L469.2 274.9L469.7 274.8L470.2 274.8L470.6 274.8L471.1 274.8L471.6 274.9L472.1 274.9L472.5 275.0L473.0 275.0L473.5 275.1L473.9 275.2L474.4 275.2L474.9 275.3L475.3 275.4L475.8 275.5L476.3 275.5L476.8 275.6L477.2 275.7L477.7 275.7L478.2 275.8L478.6 275.9L479.1 275.9L479.6 276.0L480.0 276.0L480.5 276.1L481.0 276.2L481.5 276.2L481.9 276.3L482.4 276.3L482.9 276.4L483.3 276.4L483.8 276.5L484.3 276.5L484.8 276.6L485.2 276.6L485.7 276.6L486.2 276.7L486.6 276.7L487.1 276.8L487.6 276.8L488.0 276.9L488.5 276.9L489.0 276.9L489.4 277.0L489.9 277.0L490.4 277.0L490.9 277.1L491.3 277.1L491.8 277.1L492.3 277.2L492.7 277.2L493.2 277.2L493.7 277.3L494.1 277.3L494.6 277.3L495.1 277.3L495.6 277.4L496.0 277.4L496.5 277.4L497.0 277.4L497.4 277.5L497.9 277.5L498.4 277.5L498.8 277.5L499.3 277.6L499.8 277.6L500.3 277.6L500.7 277.6L501.2 277.6L501.7 277.7L502.1 277.7L502.6 277.7L503.1 277.7L503.5 277.7L504.0 277.7L504.5 277.8L505.0 277.8L505.4 277.8L505.9 277.8L506.4 277.8L506.8 277.8L507.3 277.8L507.8 277.9L508.2 277.9L508.7 277.9L509.2 277.9L509.7 277.9L510.1 277.9L510.6 277.9L511.1 277.9L511.5 278.0L512.0 278.0L512.5 278.0L513.0 278.0L513.4 278.0L513.9 278.0L514.4 278.0L514.8 278.0L515.3 278.0L515.8 278.0L516.2 278.1L516.7 278.1L517.2 278.1L517.6 278.1L518.1 278.1L518.6 278.1L519.1 278.1L519.5 278.1L520.0 278.1L520.5 278.1L520.9 278.1L521.4 278.1L521.9 278.1L522.4 278.2L522.8 278.2L523.3 278.2L523.8 278.2L524.2 278.2L524.7 278.2L525.2 278.2L525.6 278.2L526.1 278.2L526.6 278.2L527.0 278.2L527.5 278.2L528.0 278.2L528.5 278.2L528.9 278.2L529.4 278.2L529.9 278.2L530.3 278.2L530.8 278.2L531.3 278.2L531.8 278.2V278.4H460.8Z" fill="#6a6ab4" opacity="0.35"/>
<path d="M469.7 278.4L470.2 278.4L470.6 278.1L471.1 277.7L471.6 277.1L472.1 276.4L472.5 275.6L473.0 274.7L473.5 273.9L473.9 273.0L474.4 272.2L474.9 271.3L475.3 270.4L475.8 269.5L476.3 268.6L476.8 267.6L477.2 266.9L477.7 266.7L478.2 266.9L478.6 267.6L479.1 268.6L479.6 269.5L480.0 270.4L480.5 271.3L481.0 272.2L481.5 273.0L481.9 273.9L482.4 274.7L482.9 275.6L483.3 276.4L483.8 277.1L484.3 277.7L484.8 278.1L485.2 278.4V278.4H469.6Z" fill="#7c1c34" opacity="0.6"/>
<path d="M462.7 278.4L468.3 275.5H526.2L530.0 278.4Z" fill="#7878cc" opacity="0.45"/>
<path d="M456.1 278.4L456.6 278.4L457.0 278.4L457.5 278.4L458.0 278.3L458.4 278.3L458.9 278.4L459.4 278.4L459.8 278.1L460.3 277.7L460.8 277.1L461.2 276.6L461.7 276.4L462.2 276.5L462.7 276.9L463.1 277.3L463.6 277.5L464.1 277.6L464.5 277.6L465.0 277.4L465.5 277.0L465.9 276.8L466.4 276.8L466.9 276.6L467.4 276.8L467.8 276.6L468.3 276.6L468.8 276.5L469.2 276.5L469.7 276.2L470.2 274.5L470.6 271.2L471.1 265.5L471.6 259.4L472.1 253.9L472.5 248.1L473.0 242.3L473.5 236.7L473.9 231.8L474.4 226.3L474.9 220.4L475.3 214.9L475.8 209.3L476.3 203.6L476.8 198.2L477.2 192.2L477.7 185.9L478.2 179.5L478.6 174.7L479.1 172.8L479.6 173.5L480.0 176.8L480.5 180.5L481.0 184.8L481.5 187.7L481.9 192.2L482.4 199.0L482.9 203.9L483.3 209.9L483.8 215.0L484.3 219.6L484.8 225.0L485.2 230.1L485.7 235.7L486.2 241.9L486.6 247.9L487.1 253.8L487.6 258.1L488.0 260.2L488.5 261.3L489.0 262.0L489.4 262.1L489.9 260.3L490.4 260.4L490.9 262.3L491.3 262.3L491.8 260.9L492.3 260.9L492.7 260.7L493.2 260.7L493.7 261.1L494.1 261.2L494.6 260.5L495.1 260.5L495.6 261.2L496.0 261.2L496.5 260.9L497.0 260.9L497.4 262.1L497.9 262.1L498.4 262.3L498.8 262.3L499.3 261.7L499.8 261.6L500.3 261.1L500.7 261.0L501.2 260.3L501.7 260.2L502.1 261.7L502.6 261.5L503.1 261.0L503.5 260.8L504.0 260.8L504.5 260.6L505.0 259.3L505.4 259.0L505.9 259.8L506.4 259.5L506.8 258.0L507.3 257.7L507.8 258.5L508.2 258.1L508.7 258.1L509.2 257.7L509.7 257.2L510.1 256.8L510.6 257.0L511.1 256.4L511.5 256.5L512.0 255.9L512.5 253.7L513.0 252.9L513.4 252.2L513.9 251.4L514.4 248.4L514.8 247.5L515.3 247.7L515.8 246.7L516.2 245.5L516.7 244.7L517.2 244.5L517.6 243.9L518.1 243.8L518.6 243.6L519.1 244.6L519.5 244.9L520.0 245.4L520.5 246.2L520.9 245.4L521.4 246.7L521.9 249.5L522.4 251.1L522.8 252.8L523.3 254.6L523.8 255.5L524.2 257.4L524.7 260.0L525.2 261.8L525.6 263.5L526.1 265.2L526.6 265.2L527.0 266.6L527.5 269.1L528.0 270.3L528.5 271.9L528.9 272.8L529.4 273.7L529.9 274.4L530.3 275.2L530.8 275.7L531.3 275.4L531.8 275.8L532.2 276.3L532.7 276.6L533.2 276.9L533.6 277.1L534.1 277.3L534.6 277.4L535.0 277.7L535.5 277.8L536.0 277.7L536.5 277.8L536.9 277.8L537.4 277.8L537.9 278.1L538.3 278.1L538.8 278.1L539.3 278.1L539.7 278.2L540.2 278.2L540.7 278.2L541.1 278.2" fill="none" stroke="#2a2a2a" stroke-width="0.55" stroke-linejoin="round"/>
<path d="M430.7 158.1V278.4M429.1 278.4H544.0" stroke="#555" stroke-width="0.6"/>
<path d="M430.7 278.4h-2.3M430.7 273.5h-1.2M430.7 268.6h-1.2M430.7 263.8h-1.2M430.7 258.9h-1.2M430.7 254.0h-2.3M430.7 249.1h-1.2M430.7 244.2h-1.2M430.7 239.4h-1.2M430.7 234.5h-1.2M430.7 229.6h-2.3M430.7 224.7h-1.2M430.7 219.8h-1.2M430.7 215.0h-1.2M430.7 210.1h-1.2M430.7 205.2h-2.3M430.7 200.3h-1.2M430.7 195.4h-1.2M430.7 190.6h-1.2M430.7 185.7h-1.2M430.7 180.8h-2.3M430.7 175.9h-1.2M430.7 171.0h-1.2M430.7 166.2h-1.2M430.7 161.3h-1.2M430.7 278.4v2.4M435.4 278.4v1.2M440.1 278.4v1.2M444.8 278.4v1.2M449.5 278.4v2.4M454.2 278.4v1.2M458.9 278.4v1.2M463.6 278.4v1.2M468.3 278.4v2.4M473.0 278.4v1.2M477.7 278.4v1.2M482.4 278.4v1.2M487.1 278.4v2.4M491.8 278.4v1.2M496.5 278.4v1.2M501.2 278.4v1.2M505.9 278.4v2.4M510.6 278.4v1.2M515.3 278.4v1.2M520.0 278.4v1.2M524.7 278.4v2.4M529.4 278.4v1.2M534.1 278.4v1.2M538.8 278.4v1.2M543.5 278.4v2.4" stroke="#555" stroke-width="0.5"/>
<text x="430.7" y="285.5" font-size="2.9" text-anchor="middle" fill="#555">0</text>
<text x="449.5" y="285.5" font-size="2.9" text-anchor="middle" fill="#555">20</text>
<text x="468.3" y="285.5" font-size="2.9" text-anchor="middle" fill="#555">40</text>
<text x="487.1" y="285.5" font-size="2.9" text-anchor="middle" fill="#555">60</text>
<text x="505.9" y="285.5" font-size="2.9" text-anchor="middle" fill="#555">80</text>
<text x="524.7" y="285.5" font-size="2.9" text-anchor="middle" fill="#555">100</text>
<text x="543.5" y="285.5" font-size="2.9" text-anchor="middle" fill="#555">120</text>
<text x="427.1" y="278.4" font-size="2.9" text-anchor="middle" fill="#555" transform="rotate(-90 427.1 278.4)">0</text>
<text x="427.1" y="254.0" font-size="2.9" text-anchor="middle" fill="#555" transform="rotate(-90 427.1 254.0)">200</text>
<text x="427.1" y="229.6" font-size="2.9" text-anchor="middle" fill="#555" transform="rotate(-90 427.1 229.6)">400</text>
<text x="427.1" y="205.2" font-size="2.9" text-anchor="middle" fill="#555" transform="rotate(-90 427.1 205.2)">600</text>
<text x="427.1" y="180.8" font-size="2.9" text-anchor="middle" fill="#555" transform="rotate(-90 427.1 180.8)">800</text>
<path d="M479.0 279.6l1.7 3.3h-3.4z" fill="#111"/>
<path d="M520.6 279.6l1.7 3.3h-3.4z" fill="#111"/>
<rect x="519.5" y="153.50" width="4.9" height="3.4" fill="#b2aadc"/>
<text x="526.7" y="156.30" font-size="3" fill="#4444a8">Debris</text>
<rect x="519.5" y="157.85" width="4.9" height="3.4" fill="#a8d8a0"/>
<text x="526.7" y="160.65" font-size="3" fill="#4444a8">Aggregates</text>
<rect x="519.5" y="162.20" width="4.9" height="3.4" fill="#e6261c"/>
<text x="526.7" y="165.00" font-size="3" fill="#4444a8">Dip G1</text>
<rect x="519.5" y="166.55" width="4.9" height="3.4" fill="#e6261c"/>
<text x="526.7" y="169.35" font-size="3" fill="#4444a8">Dip G2</text>
<rect x="519.5" y="170.90" width="4.9" height="3.4" fill="#e4e4f0" stroke="#b0b0cc" stroke-width=".4"/>
<text x="526.7" y="173.70" font-size="3" fill="#4444a8">Dip S</text>
<rect x="519.5" y="175.25" width="4.9" height="3.4" fill="#e0da2c"/>
<text x="526.7" y="178.05" font-size="3" fill="#4444a8">An1 G1</text>
</g>
<text x="4.5" y="168.6" font-size="12.8" text-anchor="start" font-weight="bold" fill="#000" stroke="#000" stroke-width=".18">B</text>
<path d="M21.9 214V292.3" stroke="#6a6a6a" stroke-width="1.1" fill="none"/>
<path d="M21.4 292.3H223" stroke="#222" stroke-width="1.2" fill="none"/>
<path d="M21.9 201.3L19.9 214.7H23.9ZM235.9 292.3L222.1 289.9V294.7Z" fill="#111"/>
<text x="17.8" y="248" font-size="7.2" text-anchor="middle" font-weight="bold" fill="#111" transform="rotate(-90 17.8 248)" stroke="#111" stroke-width=".18">Cell numbers</text>
<text x="123.6" y="300.6" font-size="7.2" text-anchor="middle" font-weight="bold" fill="#111" stroke="#111" stroke-width=".18">DNA content</text>
<text x="5.5" y="323" font-size="12.8" text-anchor="start" font-weight="bold" fill="#000" stroke="#000" stroke-width=".18">C</text>
<path d="M50.3 320.1V411.3H187.5" stroke="#111" stroke-width="1" fill="none"/>
<text x="47.4" y="413.6" font-size="6.5" text-anchor="end" font-weight="bold" fill="#111" stroke="#111" stroke-width=".18">0</text>
<text x="47.4" y="383.2" font-size="6.5" text-anchor="end" font-weight="bold" fill="#111" stroke="#111" stroke-width=".18">20</text>
<text x="47.4" y="352.8" font-size="6.5" text-anchor="end" font-weight="bold" fill="#111" stroke="#111" stroke-width=".18">40</text>
<text x="47.4" y="322.4" font-size="6.5" text-anchor="end" font-weight="bold" fill="#111" stroke="#111" stroke-width=".18">60</text>
<path d="M50.3 411.3h-2.6M50.3 380.9h-2.6M50.3 350.5h-2.6M50.3 320.1h-2.6" stroke="#111" stroke-width="1"/>
<rect x="55.0" y="408.0" width="7.3" height="3.3" fill="#8c8c8c" stroke="#111" stroke-width="0.6"/>
<path d="M58.6 408.0V407.5M56.6 407.5h4" stroke="#111" stroke-width="0.6"/>
<rect x="64.5" y="406.3" width="7.3" height="5.0" fill="#3c3c3c" stroke="#111" stroke-width="0.6"/>
<path d="M68.2 406.3V405.7M66.2 405.7h4" stroke="#111" stroke-width="0.6"/>
<rect x="74.0" y="402.9" width="7.3" height="8.4" fill="#0c0c0c" stroke="#111" stroke-width="0.6"/>
<path d="M77.7 402.9V402.2M75.7 402.2h4" stroke="#111" stroke-width="0.6"/>
<text x="70.3" y="422.8" font-size="6.5" text-anchor="end" font-weight="bold" fill="#111" transform="rotate(-45 70.3 422.8)" stroke="#111" stroke-width=".18">0</text>
<rect x="89.1" y="404.9" width="7.3" height="6.4" fill="#8c8c8c" stroke="#111" stroke-width="0.6"/>
<path d="M92.8 404.9V404.5M90.8 404.5h4" stroke="#111" stroke-width="0.6"/>
<rect x="98.6" y="405.5" width="7.3" height="5.8" fill="#3c3c3c" stroke="#111" stroke-width="0.6"/>
<path d="M102.2 405.5V405.1M100.2 405.1h4" stroke="#111" stroke-width="0.6"/>
<rect x="108.1" y="399.1" width="7.3" height="12.2" fill="#0c0c0c" stroke="#111" stroke-width="0.6"/>
<path d="M111.8 399.1V398.4M109.8 398.4h4" stroke="#111" stroke-width="0.6"/>
<text x="104.4" y="422.8" font-size="6.5" text-anchor="end" font-weight="bold" fill="#111" transform="rotate(-45 104.4 422.8)" stroke="#111" stroke-width=".18">80</text>
<rect x="123.2" y="399.4" width="7.3" height="11.9" fill="#8c8c8c" stroke="#111" stroke-width="0.6"/>
<path d="M126.9 399.4V398.7M124.9 398.7h4" stroke="#111" stroke-width="0.6"/>
<text x="126.9" y="400.3" font-size="6" text-anchor="middle" font-weight="bold" fill="#111" stroke="#111" stroke-width=".18">**</text>
<rect x="132.7" y="402.6" width="7.3" height="8.7" fill="#3c3c3c" stroke="#111" stroke-width="0.6"/>
<path d="M136.3 402.6V402.0M134.3 402.0h4" stroke="#111" stroke-width="0.6"/>
<text x="136.3" y="403.6" font-size="6" text-anchor="middle" font-weight="bold" fill="#111" stroke="#111" stroke-width=".18">**</text>
<rect x="142.2" y="391.2" width="7.3" height="20.1" fill="#0c0c0c" stroke="#111" stroke-width="0.6"/>
<path d="M145.8 391.2V390.5M143.8 390.5h4" stroke="#111" stroke-width="0.6"/>
<text x="145.8" y="392.1" font-size="6" text-anchor="middle" font-weight="bold" fill="#111" stroke="#111" stroke-width=".18">**</text>
<text x="138.5" y="422.8" font-size="6.5" text-anchor="end" font-weight="bold" fill="#111" transform="rotate(-45 138.5 422.8)" stroke="#111" stroke-width=".18">160</text>
<rect x="157.3" y="347.5" width="7.3" height="63.8" fill="#8c8c8c" stroke="#111" stroke-width="0.6"/>
<path d="M161.0 347.5V345.9M159.0 345.9h4" stroke="#111" stroke-width="0.6"/>
<text x="161.0" y="347.5" font-size="6" text-anchor="middle" font-weight="bold" fill="#111" stroke="#111" stroke-width=".18">**</text>
<rect x="166.8" y="391.8" width="7.3" height="19.5" fill="#3c3c3c" stroke="#111" stroke-width="0.6"/>
<path d="M170.5 391.8V390.9M168.5 390.9h4" stroke="#111" stroke-width="0.6"/>
<text x="170.5" y="392.5" font-size="6" text-anchor="middle" font-weight="bold" fill="#111" stroke="#111" stroke-width=".18">**</text>
<rect x="176.3" y="328.3" width="7.3" height="83.0" fill="#0c0c0c" stroke="#111" stroke-width="0.6"/>
<path d="M180.0 328.3V325.6M178.0 325.6h4" stroke="#111" stroke-width="0.6"/>
<text x="180.0" y="327.2" font-size="6" text-anchor="middle" font-weight="bold" fill="#111" stroke="#111" stroke-width=".18">**</text>
<text x="172.6" y="422.8" font-size="6.5" text-anchor="end" font-weight="bold" fill="#111" transform="rotate(-45 172.6 422.8)" stroke="#111" stroke-width=".18">320</text>
<text x="119.5" y="438.8" font-size="7.2" text-anchor="middle" font-weight="bold" fill="#111" stroke="#111" stroke-width=".18">SPEH (μg/mL)</text>
<text x="35.6" y="365.5" font-size="7.7" text-anchor="middle" font-weight="bold" fill="#111" transform="rotate(-90 35.6 365.5)" stroke="#111" stroke-width=".18">Apoptotic rate(%)</text>
<rect x="200.6" y="324.4" width="9.8" height="4.4" fill="#8c8c8c" stroke="#111" stroke-width="0.7"/>
<text x="216.1" y="329.2" font-size="7.3" text-anchor="start" font-weight="bold" fill="#111" stroke="#111" stroke-width=".18">Early Apoptosis</text>
<rect x="200.6" y="336.7" width="9.8" height="4.4" fill="#3c3c3c" stroke="#111" stroke-width="0.7"/>
<text x="216.1" y="341.5" font-size="7.3" text-anchor="start" font-weight="bold" fill="#111" stroke="#111" stroke-width=".18">Late Apoptosis</text>
<rect x="200.6" y="348.9" width="9.8" height="4.4" fill="#0c0c0c" stroke="#111" stroke-width="0.7"/>
<text x="216.1" y="353.7" font-size="7.3" text-anchor="start" font-weight="bold" fill="#111" stroke="#111" stroke-width=".18">Total</text>
<text x="296.5" y="323" font-size="12.8" text-anchor="start" font-weight="bold" fill="#000" stroke="#000" stroke-width=".18">D</text>
<path d="M328.7 324.4V415.0H466" stroke="#111" stroke-width="1" fill="none"/>
<text x="325.9" y="417.3" font-size="6.5" text-anchor="end" font-weight="bold" fill="#111" stroke="#111" stroke-width=".18">0</text>
<text x="325.9" y="387.1" font-size="6.5" text-anchor="end" font-weight="bold" fill="#111" stroke="#111" stroke-width=".18">20</text>
<text x="325.9" y="356.9" font-size="6.5" text-anchor="end" font-weight="bold" fill="#111" stroke="#111" stroke-width=".18">40</text>
<text x="325.9" y="326.7" font-size="6.5" text-anchor="end" font-weight="bold" fill="#111" stroke="#111" stroke-width=".18">60</text>
<path d="M328.7 415.0h-2.6M328.7 384.8h-2.6M328.7 354.6h-2.6M328.7 324.4h-2.6" stroke="#111" stroke-width="1"/>
<rect x="334.4" y="335.1" width="7.4" height="79.9" fill="#0c0c0c" stroke="#111" stroke-width="0.6"/>
<path d="M338.1 335.1V334.5M336.1 334.5h4" stroke="#111" stroke-width="0.6"/>
<rect x="344.1" y="336.5" width="7.4" height="78.5" fill="#585858" stroke="#111" stroke-width="0.6"/>
<path d="M347.8 336.5V335.7M345.8 335.7h4" stroke="#111" stroke-width="0.6"/>
<text x="347.8" y="337.3" font-size="6" text-anchor="middle" font-weight="bold" fill="#111" stroke="#111" stroke-width=".18">*</text>
<rect x="353.9" y="340.1" width="7.4" height="74.9" fill="#a0a0a0" stroke="#111" stroke-width="0.6"/>
<path d="M357.6 340.1V337.7M355.6 337.7h4" stroke="#111" stroke-width="0.6"/>
<text x="357.6" y="339.3" font-size="6" text-anchor="middle" font-weight="bold" fill="#111" stroke="#111" stroke-width=".18">*</text>
<rect x="363.6" y="344.2" width="7.4" height="70.8" fill="#d4d4d4" stroke="#111" stroke-width="0.6"/>
<path d="M367.3 344.2V338.1M365.3 338.1h4" stroke="#111" stroke-width="0.6"/>
<text x="367.3" y="339.7" font-size="6" text-anchor="middle" font-weight="bold" fill="#111" stroke="#111" stroke-width=".18">*</text>
<path d="M352.7 415.0v2.8" stroke="#111" stroke-width="1"/>
<text x="353.7" y="422.8" font-size="6.5" text-anchor="end" font-weight="bold" fill="#111" transform="rotate(-45 353.7 422.8)" stroke="#111" stroke-width=".18">G1</text>
<rect x="379.6" y="355.7" width="7.4" height="59.3" fill="#0c0c0c" stroke="#111" stroke-width="0.6"/>
<path d="M383.3 355.7V355.1M381.3 355.1h4" stroke="#111" stroke-width="0.6"/>
<rect x="389.4" y="353.1" width="7.4" height="61.9" fill="#585858" stroke="#111" stroke-width="0.6"/>
<path d="M393.1 353.1V351.9M391.1 351.9h4" stroke="#111" stroke-width="0.6"/>
<text x="393.1" y="353.5" font-size="6" text-anchor="middle" font-weight="bold" fill="#111" stroke="#111" stroke-width=".18">*</text>
<rect x="399.1" y="343.3" width="7.4" height="71.7" fill="#a0a0a0" stroke="#111" stroke-width="0.6"/>
<path d="M402.8 343.3V336.5M400.8 336.5h4" stroke="#111" stroke-width="0.6"/>
<text x="402.8" y="338.1" font-size="6" text-anchor="middle" font-weight="bold" fill="#111" stroke="#111" stroke-width=".18">*</text>
<rect x="408.9" y="338.9" width="7.4" height="76.1" fill="#d4d4d4" stroke="#111" stroke-width="0.6"/>
<path d="M412.6 338.9V334.4M410.6 334.4h4" stroke="#111" stroke-width="0.6"/>
<text x="412.6" y="336.0" font-size="6" text-anchor="middle" font-weight="bold" fill="#111" stroke="#111" stroke-width=".18">**</text>
<path d="M397.9 415.0v2.8" stroke="#111" stroke-width="1"/>
<text x="398.9" y="422.8" font-size="6.5" text-anchor="end" font-weight="bold" fill="#111" transform="rotate(-45 398.9 422.8)" stroke="#111" stroke-width=".18">S</text>
<rect x="424.9" y="403.1" width="7.4" height="11.9" fill="#0c0c0c" stroke="#111" stroke-width="0.6"/>
<path d="M428.6 403.1V402.8M426.6 402.8h4" stroke="#111" stroke-width="0.6"/>
<rect x="434.6" y="404.3" width="7.4" height="10.7" fill="#585858" stroke="#111" stroke-width="0.6"/>
<path d="M438.3 404.3V403.4M436.3 403.4h4" stroke="#111" stroke-width="0.6"/>
<rect x="444.4" y="411.2" width="7.4" height="3.8" fill="#a0a0a0" stroke="#111" stroke-width="0.6"/>
<path d="M448.1 411.2V405.2M446.1 405.2h4" stroke="#111" stroke-width="0.6"/>
<text x="448.1" y="406.8" font-size="6" text-anchor="middle" font-weight="bold" fill="#111" stroke="#111" stroke-width=".18">*</text>
<rect x="454.1" y="411.2" width="7.4" height="3.8" fill="#d4d4d4" stroke="#111" stroke-width="0.6"/>
<path d="M457.8 411.2V405.2M455.8 405.2h4" stroke="#111" stroke-width="0.6"/>
<text x="457.8" y="406.8" font-size="6" text-anchor="middle" font-weight="bold" fill="#111" stroke="#111" stroke-width=".18">*</text>
<path d="M443.2 415.0v2.8" stroke="#111" stroke-width="1"/>
<text x="444.2" y="422.8" font-size="6.5" text-anchor="end" font-weight="bold" fill="#111" transform="rotate(-45 444.2 422.8)" stroke="#111" stroke-width=".18">G2</text>
<text x="397.2" y="439.6" font-size="7.3" text-anchor="middle" font-weight="bold" fill="#111" stroke="#111" stroke-width=".18">Cell cycle phase</text>
<text x="314.6" y="369.8" font-size="7.3" text-anchor="middle" font-weight="bold" fill="#111" transform="rotate(-90 314.6 369.8)" stroke="#111" stroke-width=".18">Cell percentage</text>
<rect x="474.6" y="328.7" width="10.8" height="4.8" fill="#0c0c0c" stroke="#111" stroke-width="0.7"/>
<text x="487.7" y="333.7" font-size="7.2" text-anchor="start" font-weight="bold" fill="#111" stroke="#111" stroke-width=".18">0</text>
<rect x="474.6" y="339.4" width="10.8" height="4.8" fill="#585858" stroke="#111" stroke-width="0.7"/>
<text x="487.7" y="344.4" font-size="7.2" text-anchor="start" font-weight="bold" fill="#111" stroke="#111" stroke-width=".18">80 μg/mL</text>
<rect x="474.6" y="350.1" width="10.8" height="4.8" fill="#a0a0a0" stroke="#111" stroke-width="0.7"/>
<text x="487.7" y="355.1" font-size="7.2" text-anchor="start" font-weight="bold" fill="#111" stroke="#111" stroke-width=".18">160 μg/mL</text>
<rect x="474.6" y="360.8" width="10.8" height="4.8" fill="#d4d4d4" stroke="#111" stroke-width="0.7"/>
<text x="487.7" y="365.8" font-size="7.2" text-anchor="start" font-weight="bold" fill="#111" stroke="#111" stroke-width=".18">320 μg/mL</text></svg></body></html>
